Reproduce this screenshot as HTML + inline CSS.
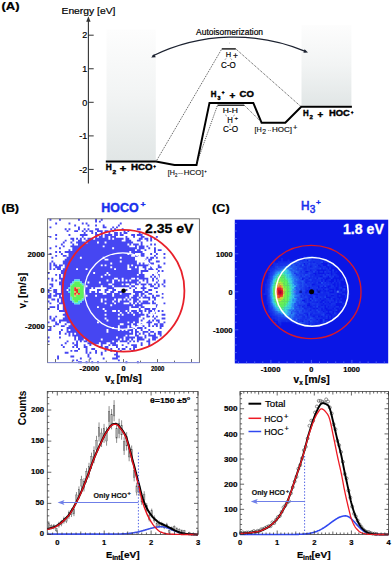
<!DOCTYPE html><html><head><meta charset="utf-8"><style>html,body{margin:0;padding:0;background:#fff;width:392px;height:562px;overflow:hidden}svg{display:block;font-family:"Liberation Sans",sans-serif}</style></head><body><svg width="392" height="562" viewBox="0 0 392 562" font-family="Liberation Sans, sans-serif"><defs><linearGradient id="gA" x1="0" y1="0" x2="0" y2="1"><stop offset="0" stop-color="#fdfdfd"/><stop offset="0.5" stop-color="#f2f4f4"/><stop offset="1" stop-color="#e1e6e6"/></linearGradient></defs>
<rect x="106.5" y="29.4" width="49.3" height="131.2" fill="url(#gA)"/>
<rect x="301.5" y="25" width="49.9" height="80.5" fill="url(#gA)"/>
<text x="1.4" y="9.9" font-size="10.5" stroke="#000" stroke-width="0.2" font-weight="bold" textLength="18.1" lengthAdjust="spacingAndGlyphs">(A)</text>
<text x="61.5" y="13.8" font-size="9.6" stroke="#000" stroke-width="0.2" textLength="53.9" lengthAdjust="spacingAndGlyphs">Energy [eV]</text>
<line x1="88.4" y1="20" x2="88.4" y2="183.5" stroke="#333" stroke-width="1.1"/>
<path d="M88.4 16.3L86.2 21.8L90.6 21.8Z" fill="#333"/>
<line x1="88.4" y1="35.2" x2="93.7" y2="35.2" stroke="#333" stroke-width="1"/>
<text x="87.3" y="38.4" font-size="9" stroke="#000" stroke-width="0.2" text-anchor="end">2</text>
<line x1="88.4" y1="68.75" x2="93.7" y2="68.75" stroke="#333" stroke-width="1"/>
<text x="87.3" y="71.95" font-size="9" stroke="#000" stroke-width="0.2" text-anchor="end">1</text>
<line x1="88.4" y1="102.3" x2="93.7" y2="102.3" stroke="#333" stroke-width="1"/>
<text x="87.3" y="105.5" font-size="9" stroke="#000" stroke-width="0.2" text-anchor="end">0</text>
<line x1="88.4" y1="135.9" x2="93.7" y2="135.9" stroke="#333" stroke-width="1"/>
<text x="87.3" y="139.1" font-size="9" stroke="#000" stroke-width="0.2" text-anchor="end">-1</text>
<line x1="88.4" y1="169.4" x2="93.7" y2="169.4" stroke="#333" stroke-width="1"/>
<text x="87.3" y="172.6" font-size="9" stroke="#000" stroke-width="0.2" text-anchor="end">-2</text>
<path d="M105.8 161.6H156L174.5 165.1H196.5L209.5 102.9H253.3L261.6 122.8H285.3L301.2 106.8H351.9" fill="none" stroke="#000" stroke-width="2" stroke-linejoin="miter"/>
<path d="M217.5 105.2H244.2" stroke="#111" stroke-width="1.3"/>
<path d="M221.8 48.9H235.8" stroke="#111" stroke-width="1.4"/>
<line x1="156" y1="161.6" x2="221.8" y2="48.9" stroke="#333" stroke-width="0.85" stroke-dasharray="1 1"/>
<line x1="235.8" y1="48.9" x2="301.2" y2="106.8" stroke="#333" stroke-width="0.85" stroke-dasharray="1 1"/>
<line x1="196.7" y1="163.5" x2="217.5" y2="105.2" stroke="#333" stroke-width="0.85" stroke-dasharray="1 1"/>
<line x1="244.2" y1="105.2" x2="260.8" y2="121.5" stroke="#333" stroke-width="0.85" stroke-dasharray="1 1"/>
<path d="M152.5 56 A184.8 184.8 0 0 1 306 51.6" fill="none" stroke="#1c2230" stroke-width="1.25"/>
<path d="M151.2 57.4L154.15 53.91L155.76 57.13Z" fill="#1c2230"/>
<path d="M308 52.4L303.45 52.79L304.58 49.37Z" fill="#1c2230"/>
<circle cx="229.5" cy="43" r="0.4" fill="#888"/>
<text x="196.1" y="34.7" font-size="8.5" stroke="#000" stroke-width="0.2" textLength="66.9" lengthAdjust="spacingAndGlyphs">Autoisomerization</text>
<text x="105.7" y="170.1" font-size="8.3" stroke="#000" stroke-width="0.4" font-weight="bold" textLength="6" lengthAdjust="spacingAndGlyphs">H</text>
<text x="112.6" y="173.5" font-size="5.8" stroke="#000" stroke-width="0.4" font-weight="bold" textLength="3.6" lengthAdjust="spacingAndGlyphs">2</text>
<text x="119.7" y="172.1" font-size="8.3" stroke="#000" stroke-width="0.4" font-weight="bold" textLength="6.5" lengthAdjust="spacingAndGlyphs">+</text>
<text x="131.1" y="170.2" font-size="8.3" stroke="#000" stroke-width="0.4" font-weight="bold" textLength="21.5" lengthAdjust="spacingAndGlyphs">HCO</text>
<text x="153.5" y="168" font-size="4.6" stroke="#000" stroke-width="0.4" font-weight="bold" textLength="2.2" lengthAdjust="spacingAndGlyphs">+</text>
<text x="302.9" y="115.6" font-size="8.3" stroke="#000" stroke-width="0.4" font-weight="bold" textLength="5.7" lengthAdjust="spacingAndGlyphs">H</text>
<text x="309.6" y="118.9" font-size="5.8" stroke="#000" stroke-width="0.4" font-weight="bold" textLength="3.4" lengthAdjust="spacingAndGlyphs">2</text>
<text x="317.6" y="118.1" font-size="8.3" stroke="#000" stroke-width="0.4" font-weight="bold" textLength="5.7" lengthAdjust="spacingAndGlyphs">+</text>
<text x="328.9" y="115.7" font-size="8.3" stroke="#000" stroke-width="0.4" font-weight="bold" textLength="20.8" lengthAdjust="spacingAndGlyphs">HOC</text>
<text x="351.1" y="114.2" font-size="4.6" stroke="#000" stroke-width="0.4" font-weight="bold" textLength="2.3" lengthAdjust="spacingAndGlyphs">+</text>
<text x="210.7" y="96.6" font-size="8.3" stroke="#000" stroke-width="0.4" font-weight="bold" textLength="5.7" lengthAdjust="spacingAndGlyphs">H</text>
<text x="217.6" y="99.9" font-size="5.8" stroke="#000" stroke-width="0.4" font-weight="bold" textLength="3" lengthAdjust="spacingAndGlyphs">3</text>
<text x="221.7" y="94.4" font-size="4.8" stroke="#000" stroke-width="0.4" font-weight="bold" textLength="2.7" lengthAdjust="spacingAndGlyphs">+</text>
<text x="229.4" y="99" font-size="8.3" stroke="#000" stroke-width="0.4" font-weight="bold" textLength="5.8" lengthAdjust="spacingAndGlyphs">+</text>
<text x="239.6" y="96.8" font-size="8.3" stroke="#000" stroke-width="0.4" font-weight="bold" textLength="14.3" lengthAdjust="spacingAndGlyphs">CO</text>
<text x="167.7" y="175.4" font-size="7.5" stroke="#111" stroke-width="0.16" fill="#111" textLength="7.1" lengthAdjust="spacingAndGlyphs">[H</text>
<text x="175" y="176.6" font-size="4.6" stroke="#111" stroke-width="0.16" fill="#111" textLength="2.4" lengthAdjust="spacingAndGlyphs">2</text>
<text x="178" y="174.6" font-size="6" stroke="#111" stroke-width="0.16" fill="#111" textLength="5.2" lengthAdjust="spacingAndGlyphs">--</text>
<text x="183.8" y="175.4" font-size="7.5" stroke="#111" stroke-width="0.16" fill="#111" textLength="19.8" lengthAdjust="spacingAndGlyphs">HCO]</text>
<text x="204.5" y="172.6" font-size="4.8" stroke="#111" stroke-width="0.16" fill="#111" textLength="2.1" lengthAdjust="spacingAndGlyphs">+</text>
<text x="254.6" y="132.4" font-size="6.9" stroke="#111" stroke-width="0.16" fill="#111" textLength="7.3" lengthAdjust="spacingAndGlyphs">[H</text>
<text x="262.3" y="133.6" font-size="6.9" stroke="#111" stroke-width="0.16" fill="#111" textLength="3.8" lengthAdjust="spacingAndGlyphs">2</text>
<text x="267.8" y="131.6" font-size="6" stroke="#111" stroke-width="0.16" fill="#111" textLength="3.3" lengthAdjust="spacingAndGlyphs">··</text>
<text x="272.1" y="132.4" font-size="6.9" stroke="#111" stroke-width="0.16" fill="#111" textLength="20" lengthAdjust="spacingAndGlyphs">HOC]</text>
<text x="292.9" y="129.8" font-size="7" stroke="#111" stroke-width="0.16" fill="#111" textLength="4.4" lengthAdjust="spacingAndGlyphs">+</text>
<text x="222.7" y="113.4" font-size="7.5" stroke="#000" stroke-width="0.16" textLength="15.1" lengthAdjust="spacingAndGlyphs">H-H</text>
<text x="227.2" y="123" font-size="8.4" stroke="#000" stroke-width="0.16" textLength="5.6" lengthAdjust="spacingAndGlyphs">H</text>
<text x="234.4" y="120.2" font-size="5.6" stroke="#000" stroke-width="0.16" textLength="3.6" lengthAdjust="spacingAndGlyphs">+</text>
<text x="223" y="132" font-size="8.3" stroke="#000" stroke-width="0.16" textLength="15" lengthAdjust="spacingAndGlyphs">C-O</text>
<path d="M225 114.8L227.6 116.5M235 114.8L232.6 116.5M230 123.8V126.3" stroke="#444" stroke-width="0.7" stroke-dasharray="0.8 0.8" fill="none"/>
<text x="225.7" y="56.7" font-size="7.8" stroke="#000" stroke-width="0.16" textLength="5.4" lengthAdjust="spacingAndGlyphs">H</text>
<text x="232.9" y="58.8" font-size="8.2" stroke="#000" stroke-width="0.16" textLength="4.9" lengthAdjust="spacingAndGlyphs">+</text>
<text x="221.1" y="67.5" font-size="8.6" stroke="#000" stroke-width="0.2" textLength="14.7" lengthAdjust="spacingAndGlyphs">C-O</text>
<path d="M226.5 57.8L224.6 60.2M230.2 57.8L232.2 60.2" stroke="#444" stroke-width="0.7" stroke-dasharray="0.8 0.8" fill="none"/>
<path fill="#4646f2" d="M49.5 218.8h1.9v1.9h-1.9zM59 218.8h1.9v1.9h-1.9zM78 218.8h1.9v1.9h-1.9zM95.1 218.8h1.9v1.9h-1.9zM100.8 218.8h1.9v1.9h-1.9zM95.1 220.7h1.9v1.9h-1.9zM98.9 220.7h1.9v1.9h-1.9zM55.2 222.6h1.9v1.9h-1.9zM68.5 222.6h1.9v1.9h-1.9zM81.8 222.6h1.9v1.9h-1.9zM85.6 222.6h1.9v1.9h-1.9zM119.8 222.6h1.9v1.9h-1.9zM74.2 224.5h1.9v1.9h-1.9zM87.5 224.5h1.9v1.9h-1.9zM95.1 224.5h1.9v1.9h-1.9zM102.7 224.5h1.9v1.9h-1.9zM117.9 224.5h1.9v1.9h-1.9zM49.5 226.4h1.9v1.9h-1.9zM78 226.4h1.9v1.9h-1.9zM102.7 226.4h3.8v1.9h-3.8zM112.2 226.4h1.9v1.9h-1.9zM116 226.4h1.9v1.9h-1.9zM64.7 228.3h1.9v1.9h-1.9zM68.5 228.3h1.9v1.9h-1.9zM78 228.3h1.9v1.9h-1.9zM83.7 228.3h1.9v1.9h-1.9zM87.5 228.3h1.9v1.9h-1.9zM95.1 228.3h3.8v1.9h-3.8zM110.3 228.3h1.9v1.9h-1.9zM114.1 228.3h1.9v1.9h-1.9zM121.7 228.3h1.9v1.9h-1.9zM136.9 228.3h3.8v1.9h-3.8zM66.6 230.2h1.9v1.9h-1.9zM74.2 230.2h3.8v1.9h-3.8zM81.8 230.2h1.9v1.9h-1.9zM85.6 230.2h1.9v1.9h-1.9zM89.4 230.2h3.8v1.9h-3.8zM97 230.2h5.7v1.9h-5.7zM104.6 230.2h3.8v1.9h-3.8zM112.2 230.2h1.9v1.9h-1.9zM123.6 230.2h1.9v1.9h-1.9zM127.4 230.2h1.9v1.9h-1.9zM83.7 232.1h1.9v1.9h-1.9zM91.3 232.1h1.9v1.9h-1.9zM95.1 232.1h1.9v1.9h-1.9zM100.8 232.1h1.9v1.9h-1.9zM108.4 232.1h1.9v1.9h-1.9zM114.1 232.1h3.8v1.9h-3.8zM119.8 232.1h1.9v1.9h-1.9zM123.6 232.1h3.8v1.9h-3.8zM138.8 232.1h1.9v1.9h-1.9zM55.2 234h1.9v1.9h-1.9zM68.5 234h1.9v1.9h-1.9zM79.9 234h7.6v1.9h-7.6zM95.1 234h3.8v1.9h-3.8zM100.8 234h1.9v1.9h-1.9zM104.6 234h7.6v1.9h-7.6zM114.1 234h3.8v1.9h-3.8zM119.8 234h3.8v1.9h-3.8zM131.2 234h3.8v1.9h-3.8zM136.9 234h5.7v1.9h-5.7zM49.5 235.9h1.9v1.9h-1.9zM81.8 235.9h1.9v1.9h-1.9zM95.1 235.9h1.9v1.9h-1.9zM98.9 235.9h3.8v1.9h-3.8zM104.6 235.9h3.8v1.9h-3.8zM110.3 235.9h5.7v1.9h-5.7zM125.5 235.9h1.9v1.9h-1.9zM133.1 235.9h1.9v1.9h-1.9zM140.7 235.9h3.8v1.9h-3.8zM150.2 235.9h1.9v1.9h-1.9zM155.9 235.9h1.9v1.9h-1.9zM55.2 237.8h1.9v1.9h-1.9zM70.4 237.8h3.8v1.9h-3.8zM76.1 237.8h1.9v1.9h-1.9zM79.9 237.8h1.9v1.9h-1.9zM83.7 237.8h1.9v1.9h-1.9zM87.5 237.8h5.7v1.9h-5.7zM95.1 237.8h13.3v1.9h-13.3zM110.3 237.8h1.9v1.9h-1.9zM114.1 237.8h9.5v1.9h-9.5zM125.5 237.8h3.8v1.9h-3.8zM138.8 237.8h3.8v1.9h-3.8zM144.5 237.8h3.8v1.9h-3.8zM150.2 237.8h1.9v1.9h-1.9zM154 237.8h1.9v1.9h-1.9zM64.7 239.7h1.9v1.9h-1.9zM72.3 239.7h1.9v1.9h-1.9zM78 239.7h3.8v1.9h-3.8zM85.6 239.7h36.1v1.9h-36.1zM125.5 239.7h5.7v1.9h-5.7zM136.9 239.7h3.8v1.9h-3.8zM146.4 239.7h1.9v1.9h-1.9zM150.2 239.7h1.9v1.9h-1.9zM62.8 241.6h1.9v1.9h-1.9zM70.4 241.6h1.9v1.9h-1.9zM76.1 241.6h9.5v1.9h-9.5zM87.5 241.6h9.5v1.9h-9.5zM98.9 241.6h5.7v1.9h-5.7zM106.5 241.6h26.6v1.9h-26.6zM140.7 241.6h1.9v1.9h-1.9zM60.9 243.5h1.9v1.9h-1.9zM72.3 243.5h1.9v1.9h-1.9zM78 243.5h49.4v1.9h-49.4zM129.3 243.5h1.9v1.9h-1.9zM133.1 243.5h5.7v1.9h-5.7zM140.7 243.5h1.9v1.9h-1.9zM150.2 243.5h1.9v1.9h-1.9zM154 243.5h1.9v1.9h-1.9zM55.2 245.4h1.9v1.9h-1.9zM62.8 245.4h1.9v1.9h-1.9zM70.4 245.4h32.3v1.9h-32.3zM104.6 245.4h24.7v1.9h-24.7zM135 245.4h1.9v1.9h-1.9zM138.8 245.4h5.7v1.9h-5.7zM146.4 245.4h1.9v1.9h-1.9zM49.5 247.3h1.9v1.9h-1.9zM59 247.3h1.9v1.9h-1.9zM72.3 247.3h39.9v1.9h-39.9zM114.1 247.3h22.8v1.9h-22.8zM138.8 247.3h5.7v1.9h-5.7zM148.3 247.3h1.9v1.9h-1.9zM154 247.3h1.9v1.9h-1.9zM68.5 249.2h1.9v1.9h-1.9zM72.3 249.2h62.7v1.9h-62.7zM136.9 249.2h3.8v1.9h-3.8zM144.5 249.2h1.9v1.9h-1.9zM154 249.2h1.9v1.9h-1.9zM157.8 249.2h3.8v1.9h-3.8zM55.2 251.1h1.9v1.9h-1.9zM59 251.1h1.9v1.9h-1.9zM64.7 251.1h64.6v1.9h-64.6zM131.2 251.1h11.4v1.9h-11.4zM154 251.1h1.9v1.9h-1.9zM49.5 253h1.9v1.9h-1.9zM60.9 253h1.9v1.9h-1.9zM68.5 253h58.9v1.9h-58.9zM129.3 253h5.7v1.9h-5.7zM140.7 253h3.8v1.9h-3.8zM150.2 253h1.9v1.9h-1.9zM155.9 253h1.9v1.9h-1.9zM163.5 253h1.9v1.9h-1.9zM55.2 254.9h1.9v1.9h-1.9zM62.8 254.9h3.8v1.9h-3.8zM68.5 254.9h62.7v1.9h-62.7zM135 254.9h3.8v1.9h-3.8zM140.7 254.9h3.8v1.9h-3.8zM154 254.9h1.9v1.9h-1.9zM51.4 256.8h1.9v1.9h-1.9zM66.6 256.8h13.3v1.9h-13.3zM81.8 256.8h20.9v1.9h-20.9zM104.6 256.8h15.2v1.9h-15.2zM121.7 256.8h13.3v1.9h-13.3zM146.4 256.8h1.9v1.9h-1.9zM150.2 256.8h3.8v1.9h-3.8zM155.9 256.8h1.9v1.9h-1.9zM163.5 256.8h1.9v1.9h-1.9zM64.7 258.7h39.9v1.9h-39.9zM108.4 258.7h26.6v1.9h-26.6zM144.5 258.7h1.9v1.9h-1.9zM148.3 258.7h3.8v1.9h-3.8zM51.4 260.6h1.9v1.9h-1.9zM62.8 260.6h57v1.9h-57zM121.7 260.6h15.2v1.9h-15.2zM148.3 260.6h1.9v1.9h-1.9zM155.9 260.6h3.8v1.9h-3.8zM49.5 262.5h1.9v1.9h-1.9zM53.3 262.5h1.9v1.9h-1.9zM62.8 262.5h47.5v1.9h-47.5zM112.2 262.5h24.7v1.9h-24.7zM138.8 262.5h1.9v1.9h-1.9zM142.6 262.5h1.9v1.9h-1.9zM148.3 262.5h5.7v1.9h-5.7zM163.5 262.5h1.9v1.9h-1.9zM49.5 264.4h1.9v1.9h-1.9zM53.3 264.4h3.8v1.9h-3.8zM59 264.4h3.8v1.9h-3.8zM64.7 264.4h36.1v1.9h-36.1zM102.7 264.4h1.9v1.9h-1.9zM106.5 264.4h20.9v1.9h-20.9zM129.3 264.4h1.9v1.9h-1.9zM133.1 264.4h15.2v1.9h-15.2zM157.8 264.4h1.9v1.9h-1.9zM49.5 266.3h1.9v1.9h-1.9zM55.2 266.3h5.7v1.9h-5.7zM64.7 266.3h45.6v1.9h-45.6zM112.2 266.3h15.2v1.9h-15.2zM129.3 266.3h5.7v1.9h-5.7zM136.9 266.3h1.9v1.9h-1.9zM142.6 266.3h3.8v1.9h-3.8zM150.2 266.3h1.9v1.9h-1.9zM157.8 266.3h3.8v1.9h-3.8zM49.5 268.2h1.9v1.9h-1.9zM53.3 268.2h1.9v1.9h-1.9zM57.1 268.2h3.8v1.9h-3.8zM62.8 268.2h13.3v1.9h-13.3zM78 268.2h7.6v1.9h-7.6zM87.5 268.2h26.6v1.9h-26.6zM116 268.2h11.4v1.9h-11.4zM131.2 268.2h7.6v1.9h-7.6zM144.5 268.2h1.9v1.9h-1.9zM148.3 268.2h5.7v1.9h-5.7zM155.9 268.2h1.9v1.9h-1.9zM60.9 270.1h77.9v1.9h-77.9zM140.7 270.1h7.6v1.9h-7.6zM157.8 270.1h1.9v1.9h-1.9zM161.6 270.1h1.9v1.9h-1.9zM47.6 272h1.9v1.9h-1.9zM60.9 272h32.3v1.9h-32.3zM95.1 272h11.4v1.9h-11.4zM108.4 272h30.4v1.9h-30.4zM140.7 272h1.9v1.9h-1.9zM155.9 272h1.9v1.9h-1.9zM55.2 273.9h1.9v1.9h-1.9zM59 273.9h1.9v1.9h-1.9zM62.8 273.9h41.8v1.9h-41.8zM106.5 273.9h1.9v1.9h-1.9zM110.3 273.9h26.6v1.9h-26.6zM138.8 273.9h5.7v1.9h-5.7zM152.1 273.9h1.9v1.9h-1.9zM157.8 273.9h1.9v1.9h-1.9zM59 275.8h1.9v1.9h-1.9zM62.8 275.8h38v1.9h-38zM102.7 275.8h41.8v1.9h-41.8zM150.2 275.8h1.9v1.9h-1.9zM154 275.8h1.9v1.9h-1.9zM157.8 275.8h1.9v1.9h-1.9zM47.6 277.7h1.9v1.9h-1.9zM51.4 277.7h1.9v1.9h-1.9zM59 277.7h55.1v1.9h-55.1zM117.9 277.7h3.8v1.9h-3.8zM123.6 277.7h7.6v1.9h-7.6zM135 277.7h1.9v1.9h-1.9zM138.8 277.7h9.5v1.9h-9.5zM152.1 277.7h1.9v1.9h-1.9zM155.9 277.7h1.9v1.9h-1.9zM51.4 279.6h1.9v1.9h-1.9zM55.2 279.6h1.9v1.9h-1.9zM60.9 279.6h13.3v1.9h-13.3zM79.9 279.6h26.6v1.9h-26.6zM108.4 279.6h3.8v1.9h-3.8zM114.1 279.6h3.8v1.9h-3.8zM119.8 279.6h1.9v1.9h-1.9zM123.6 279.6h1.9v1.9h-1.9zM127.4 279.6h1.9v1.9h-1.9zM131.2 279.6h7.6v1.9h-7.6zM142.6 279.6h1.9v1.9h-1.9zM146.4 279.6h1.9v1.9h-1.9zM152.1 279.6h1.9v1.9h-1.9zM157.8 279.6h1.9v1.9h-1.9zM163.5 279.6h1.9v1.9h-1.9zM59 281.5h13.3v1.9h-13.3zM81.8 281.5h5.7v1.9h-5.7zM89.4 281.5h9.5v1.9h-9.5zM100.8 281.5h11.4v1.9h-11.4zM114.1 281.5h22.8v1.9h-22.8zM138.8 281.5h1.9v1.9h-1.9zM146.4 281.5h1.9v1.9h-1.9zM155.9 281.5h1.9v1.9h-1.9zM163.5 281.5h1.9v1.9h-1.9zM49.5 283.4h3.8v1.9h-3.8zM59 283.4h11.4v1.9h-11.4zM83.7 283.4h24.7v1.9h-24.7zM112.2 283.4h9.5v1.9h-9.5zM123.6 283.4h1.9v1.9h-1.9zM129.3 283.4h1.9v1.9h-1.9zM135 283.4h3.8v1.9h-3.8zM140.7 283.4h5.7v1.9h-5.7zM148.3 283.4h3.8v1.9h-3.8zM154 283.4h1.9v1.9h-1.9zM157.8 283.4h1.9v1.9h-1.9zM161.6 283.4h1.9v1.9h-1.9zM51.4 285.3h1.9v1.9h-1.9zM60.9 285.3h9.5v1.9h-9.5zM83.7 285.3h1.9v1.9h-1.9zM87.5 285.3h13.3v1.9h-13.3zM102.7 285.3h9.5v1.9h-9.5zM114.1 285.3h15.2v1.9h-15.2zM131.2 285.3h3.8v1.9h-3.8zM142.6 285.3h1.9v1.9h-1.9zM150.2 285.3h3.8v1.9h-3.8zM157.8 285.3h1.9v1.9h-1.9zM163.5 285.3h1.9v1.9h-1.9zM49.5 287.2h1.9v1.9h-1.9zM60.9 287.2h7.6v1.9h-7.6zM83.7 287.2h7.6v1.9h-7.6zM93.2 287.2h1.9v1.9h-1.9zM106.5 287.2h7.6v1.9h-7.6zM129.3 287.2h1.9v1.9h-1.9zM135 287.2h1.9v1.9h-1.9zM140.7 287.2h5.7v1.9h-5.7zM154 287.2h3.8v1.9h-3.8zM47.6 289.1h1.9v1.9h-1.9zM53.3 289.1h3.8v1.9h-3.8zM60.9 289.1h5.7v1.9h-5.7zM68.5 289.1h1.9v1.9h-1.9zM83.7 289.1h5.7v1.9h-5.7zM97 289.1h3.8v1.9h-3.8zM104.6 289.1h3.8v1.9h-3.8zM112.2 289.1h3.8v1.9h-3.8zM125.5 289.1h1.9v1.9h-1.9zM133.1 289.1h1.9v1.9h-1.9zM142.6 289.1h1.9v1.9h-1.9zM148.3 289.1h3.8v1.9h-3.8zM47.6 291h1.9v1.9h-1.9zM53.3 291h3.8v1.9h-3.8zM60.9 291h7.6v1.9h-7.6zM83.7 291h5.7v1.9h-5.7zM91.3 291h3.8v1.9h-3.8zM97 291h1.9v1.9h-1.9zM104.6 291h1.9v1.9h-1.9zM110.3 291h3.8v1.9h-3.8zM117.9 291h5.7v1.9h-5.7zM133.1 291h9.5v1.9h-9.5zM144.5 291h3.8v1.9h-3.8zM155.9 291h1.9v1.9h-1.9zM49.5 292.9h1.9v1.9h-1.9zM55.2 292.9h15.2v1.9h-15.2zM83.7 292.9h19v1.9h-19zM106.5 292.9h5.7v1.9h-5.7zM114.1 292.9h5.7v1.9h-5.7zM121.7 292.9h9.5v1.9h-9.5zM135 292.9h3.8v1.9h-3.8zM140.7 292.9h3.8v1.9h-3.8zM148.3 292.9h3.8v1.9h-3.8zM161.6 292.9h1.9v1.9h-1.9zM47.6 294.8h3.8v1.9h-3.8zM53.3 294.8h3.8v1.9h-3.8zM59 294.8h1.9v1.9h-1.9zM62.8 294.8h7.6v1.9h-7.6zM83.7 294.8h1.9v1.9h-1.9zM87.5 294.8h7.6v1.9h-7.6zM97 294.8h15.2v1.9h-15.2zM114.1 294.8h15.2v1.9h-15.2zM133.1 294.8h5.7v1.9h-5.7zM140.7 294.8h1.9v1.9h-1.9zM144.5 294.8h1.9v1.9h-1.9zM152.1 294.8h1.9v1.9h-1.9zM155.9 294.8h3.8v1.9h-3.8zM47.6 296.7h3.8v1.9h-3.8zM59 296.7h11.4v1.9h-11.4zM83.7 296.7h41.8v1.9h-41.8zM127.4 296.7h1.9v1.9h-1.9zM131.2 296.7h5.7v1.9h-5.7zM138.8 296.7h1.9v1.9h-1.9zM142.6 296.7h7.6v1.9h-7.6zM152.1 296.7h3.8v1.9h-3.8zM161.6 296.7h1.9v1.9h-1.9zM51.4 298.6h3.8v1.9h-3.8zM57.1 298.6h1.9v1.9h-1.9zM60.9 298.6h9.5v1.9h-9.5zM83.7 298.6h17.1v1.9h-17.1zM102.7 298.6h1.9v1.9h-1.9zM106.5 298.6h7.6v1.9h-7.6zM116 298.6h1.9v1.9h-1.9zM121.7 298.6h1.9v1.9h-1.9zM125.5 298.6h1.9v1.9h-1.9zM129.3 298.6h1.9v1.9h-1.9zM133.1 298.6h5.7v1.9h-5.7zM148.3 298.6h1.9v1.9h-1.9zM154 298.6h1.9v1.9h-1.9zM47.6 300.5h1.9v1.9h-1.9zM57.1 300.5h1.9v1.9h-1.9zM60.9 300.5h11.4v1.9h-11.4zM81.8 300.5h19v1.9h-19zM102.7 300.5h9.5v1.9h-9.5zM114.1 300.5h3.8v1.9h-3.8zM119.8 300.5h9.5v1.9h-9.5zM133.1 300.5h3.8v1.9h-3.8zM138.8 300.5h1.9v1.9h-1.9zM142.6 300.5h5.7v1.9h-5.7zM152.1 300.5h1.9v1.9h-1.9zM49.5 302.4h1.9v1.9h-1.9zM59 302.4h15.2v1.9h-15.2zM79.9 302.4h24.7v1.9h-24.7zM106.5 302.4h7.6v1.9h-7.6zM116 302.4h7.6v1.9h-7.6zM129.3 302.4h1.9v1.9h-1.9zM133.1 302.4h1.9v1.9h-1.9zM136.9 302.4h1.9v1.9h-1.9zM140.7 302.4h9.5v1.9h-9.5zM152.1 302.4h3.8v1.9h-3.8zM163.5 302.4h1.9v1.9h-1.9zM57.1 304.3h1.9v1.9h-1.9zM62.8 304.3h47.5v1.9h-47.5zM112.2 304.3h20.9v1.9h-20.9zM135 304.3h7.6v1.9h-7.6zM155.9 304.3h1.9v1.9h-1.9zM49.5 306.2h5.7v1.9h-5.7zM57.1 306.2h1.9v1.9h-1.9zM62.8 306.2h34.2v1.9h-34.2zM98.9 306.2h30.4v1.9h-30.4zM131.2 306.2h7.6v1.9h-7.6zM140.7 306.2h3.8v1.9h-3.8zM155.9 306.2h1.9v1.9h-1.9zM47.6 308.1h1.9v1.9h-1.9zM57.1 308.1h1.9v1.9h-1.9zM62.8 308.1h39.9v1.9h-39.9zM104.6 308.1h24.7v1.9h-24.7zM138.8 308.1h1.9v1.9h-1.9zM144.5 308.1h5.7v1.9h-5.7zM152.1 308.1h3.8v1.9h-3.8zM59 310h45.6v1.9h-45.6zM106.5 310h5.7v1.9h-5.7zM116 310h1.9v1.9h-1.9zM119.8 310h5.7v1.9h-5.7zM127.4 310h1.9v1.9h-1.9zM131.2 310h5.7v1.9h-5.7zM138.8 310h3.8v1.9h-3.8zM144.5 310h1.9v1.9h-1.9zM148.3 310h3.8v1.9h-3.8zM154 310h1.9v1.9h-1.9zM157.8 310h1.9v1.9h-1.9zM161.6 310h1.9v1.9h-1.9zM64.7 311.9h55.1v1.9h-55.1zM121.7 311.9h5.7v1.9h-5.7zM129.3 311.9h1.9v1.9h-1.9zM133.1 311.9h5.7v1.9h-5.7zM140.7 311.9h1.9v1.9h-1.9zM148.3 311.9h1.9v1.9h-1.9zM154 311.9h1.9v1.9h-1.9zM62.8 313.8h41.8v1.9h-41.8zM106.5 313.8h11.4v1.9h-11.4zM119.8 313.8h1.9v1.9h-1.9zM123.6 313.8h9.5v1.9h-9.5zM135 313.8h9.5v1.9h-9.5zM146.4 313.8h1.9v1.9h-1.9zM152.1 313.8h1.9v1.9h-1.9zM161.6 313.8h3.8v1.9h-3.8zM49.5 315.7h1.9v1.9h-1.9zM55.2 315.7h1.9v1.9h-1.9zM64.7 315.7h76v1.9h-76zM146.4 315.7h3.8v1.9h-3.8zM152.1 315.7h1.9v1.9h-1.9zM155.9 315.7h1.9v1.9h-1.9zM49.5 317.6h1.9v1.9h-1.9zM53.3 317.6h1.9v1.9h-1.9zM62.8 317.6h41.8v1.9h-41.8zM106.5 317.6h11.4v1.9h-11.4zM119.8 317.6h19v1.9h-19zM142.6 317.6h1.9v1.9h-1.9zM154 317.6h1.9v1.9h-1.9zM161.6 317.6h3.8v1.9h-3.8zM51.4 319.5h3.8v1.9h-3.8zM59 319.5h47.5v1.9h-47.5zM108.4 319.5h30.4v1.9h-30.4zM140.7 319.5h1.9v1.9h-1.9zM148.3 319.5h1.9v1.9h-1.9zM152.1 319.5h1.9v1.9h-1.9zM155.9 319.5h3.8v1.9h-3.8zM47.6 321.4h1.9v1.9h-1.9zM55.2 321.4h1.9v1.9h-1.9zM59 321.4h1.9v1.9h-1.9zM66.6 321.4h30.4v1.9h-30.4zM98.9 321.4h28.5v1.9h-28.5zM129.3 321.4h3.8v1.9h-3.8zM135 321.4h3.8v1.9h-3.8zM146.4 321.4h5.7v1.9h-5.7zM157.8 321.4h1.9v1.9h-1.9zM163.5 321.4h1.9v1.9h-1.9zM55.2 323.3h3.8v1.9h-3.8zM64.7 323.3h1.9v1.9h-1.9zM70.4 323.3h49.4v1.9h-49.4zM123.6 323.3h7.6v1.9h-7.6zM133.1 323.3h3.8v1.9h-3.8zM140.7 323.3h1.9v1.9h-1.9zM148.3 323.3h1.9v1.9h-1.9zM154 323.3h3.8v1.9h-3.8zM159.7 323.3h3.8v1.9h-3.8zM53.3 325.2h1.9v1.9h-1.9zM60.9 325.2h3.8v1.9h-3.8zM68.5 325.2h49.4v1.9h-49.4zM119.8 325.2h7.6v1.9h-7.6zM129.3 325.2h1.9v1.9h-1.9zM135 325.2h3.8v1.9h-3.8zM142.6 325.2h1.9v1.9h-1.9zM148.3 325.2h1.9v1.9h-1.9zM152.1 325.2h1.9v1.9h-1.9zM155.9 325.2h1.9v1.9h-1.9zM159.7 325.2h3.8v1.9h-3.8zM49.5 327.1h1.9v1.9h-1.9zM66.6 327.1h45.6v1.9h-45.6zM114.1 327.1h3.8v1.9h-3.8zM119.8 327.1h7.6v1.9h-7.6zM129.3 327.1h5.7v1.9h-5.7zM136.9 327.1h5.7v1.9h-5.7zM144.5 327.1h1.9v1.9h-1.9zM159.7 327.1h1.9v1.9h-1.9zM47.6 329h3.8v1.9h-3.8zM60.9 329h1.9v1.9h-1.9zM66.6 329h1.9v1.9h-1.9zM70.4 329h36.1v1.9h-36.1zM108.4 329h9.5v1.9h-9.5zM119.8 329h1.9v1.9h-1.9zM123.6 329h1.9v1.9h-1.9zM127.4 329h5.7v1.9h-5.7zM135 329h1.9v1.9h-1.9zM140.7 329h1.9v1.9h-1.9zM148.3 329h1.9v1.9h-1.9zM59 330.9h1.9v1.9h-1.9zM66.6 330.9h39.9v1.9h-39.9zM108.4 330.9h20.9v1.9h-20.9zM131.2 330.9h1.9v1.9h-1.9zM135 330.9h3.8v1.9h-3.8zM142.6 330.9h5.7v1.9h-5.7zM150.2 330.9h3.8v1.9h-3.8zM157.8 330.9h3.8v1.9h-3.8zM59 332.8h1.9v1.9h-1.9zM64.7 332.8h1.9v1.9h-1.9zM68.5 332.8h1.9v1.9h-1.9zM72.3 332.8h1.9v1.9h-1.9zM76.1 332.8h57v1.9h-57zM135 332.8h1.9v1.9h-1.9zM138.8 332.8h1.9v1.9h-1.9zM142.6 332.8h1.9v1.9h-1.9zM148.3 332.8h1.9v1.9h-1.9zM154 332.8h1.9v1.9h-1.9zM157.8 332.8h3.8v1.9h-3.8zM68.5 334.7h1.9v1.9h-1.9zM72.3 334.7h53.2v1.9h-53.2zM127.4 334.7h1.9v1.9h-1.9zM135 334.7h3.8v1.9h-3.8zM144.5 334.7h1.9v1.9h-1.9zM148.3 334.7h7.6v1.9h-7.6zM159.7 334.7h1.9v1.9h-1.9zM47.6 336.6h1.9v1.9h-1.9zM59 336.6h1.9v1.9h-1.9zM74.2 336.6h1.9v1.9h-1.9zM78 336.6h38v1.9h-38zM117.9 336.6h5.7v1.9h-5.7zM125.5 336.6h9.5v1.9h-9.5zM136.9 336.6h5.7v1.9h-5.7zM144.5 336.6h1.9v1.9h-1.9zM152.1 336.6h5.7v1.9h-5.7zM74.2 338.5h1.9v1.9h-1.9zM78 338.5h5.7v1.9h-5.7zM85.6 338.5h15.2v1.9h-15.2zM102.7 338.5h17.1v1.9h-17.1zM121.7 338.5h1.9v1.9h-1.9zM125.5 338.5h3.8v1.9h-3.8zM131.2 338.5h1.9v1.9h-1.9zM136.9 338.5h7.6v1.9h-7.6zM148.3 338.5h1.9v1.9h-1.9zM152.1 338.5h3.8v1.9h-3.8zM47.6 340.4h1.9v1.9h-1.9zM66.6 340.4h1.9v1.9h-1.9zM76.1 340.4h1.9v1.9h-1.9zM79.9 340.4h1.9v1.9h-1.9zM83.7 340.4h3.8v1.9h-3.8zM89.4 340.4h22.8v1.9h-22.8zM114.1 340.4h3.8v1.9h-3.8zM119.8 340.4h7.6v1.9h-7.6zM129.3 340.4h1.9v1.9h-1.9zM133.1 340.4h1.9v1.9h-1.9zM136.9 340.4h1.9v1.9h-1.9zM146.4 340.4h3.8v1.9h-3.8zM64.7 342.3h1.9v1.9h-1.9zM72.3 342.3h1.9v1.9h-1.9zM76.1 342.3h1.9v1.9h-1.9zM87.5 342.3h11.4v1.9h-11.4zM100.8 342.3h5.7v1.9h-5.7zM110.3 342.3h5.7v1.9h-5.7zM127.4 342.3h1.9v1.9h-1.9zM140.7 342.3h1.9v1.9h-1.9zM148.3 342.3h1.9v1.9h-1.9zM60.9 344.2h1.9v1.9h-1.9zM74.2 344.2h3.8v1.9h-3.8zM83.7 344.2h1.9v1.9h-1.9zM89.4 344.2h1.9v1.9h-1.9zM100.8 344.2h1.9v1.9h-1.9zM108.4 344.2h1.9v1.9h-1.9zM112.2 344.2h5.7v1.9h-5.7zM121.7 344.2h1.9v1.9h-1.9zM131.2 344.2h5.7v1.9h-5.7zM140.7 344.2h1.9v1.9h-1.9zM148.3 344.2h1.9v1.9h-1.9zM62.8 346.1h1.9v1.9h-1.9zM72.3 346.1h1.9v1.9h-1.9zM76.1 346.1h1.9v1.9h-1.9zM83.7 346.1h3.8v1.9h-3.8zM98.9 346.1h3.8v1.9h-3.8zM104.6 346.1h3.8v1.9h-3.8zM116 346.1h1.9v1.9h-1.9zM125.5 346.1h1.9v1.9h-1.9zM133.1 346.1h3.8v1.9h-3.8zM78 348h1.9v1.9h-1.9zM85.6 348h1.9v1.9h-1.9zM91.3 348h3.8v1.9h-3.8zM104.6 348h3.8v1.9h-3.8zM110.3 348h1.9v1.9h-1.9zM117.9 348h1.9v1.9h-1.9zM121.7 348h3.8v1.9h-3.8zM129.3 348h1.9v1.9h-1.9zM133.1 348h1.9v1.9h-1.9zM70.4 349.9h1.9v1.9h-1.9zM74.2 349.9h3.8v1.9h-3.8zM85.6 349.9h1.9v1.9h-1.9zM95.1 349.9h1.9v1.9h-1.9zM104.6 349.9h1.9v1.9h-1.9zM110.3 349.9h1.9v1.9h-1.9zM114.1 349.9h1.9v1.9h-1.9zM119.8 349.9h1.9v1.9h-1.9zM131.2 349.9h1.9v1.9h-1.9zM64.7 351.8h3.8v1.9h-3.8zM85.6 351.8h1.9v1.9h-1.9zM89.4 351.8h1.9v1.9h-1.9zM95.1 351.8h1.9v1.9h-1.9zM100.8 351.8h1.9v1.9h-1.9zM116 351.8h1.9v1.9h-1.9zM87.5 353.7h1.9v1.9h-1.9zM100.8 353.7h1.9v1.9h-1.9zM114.1 353.7h3.8v1.9h-3.8zM57.1 355.6h1.9v1.9h-1.9zM70.4 355.6h3.8v1.9h-3.8zM87.5 355.6h1.9v1.9h-1.9zM116 355.6h3.8v1.9h-3.8zM57.1 357.5h1.9v1.9h-1.9zM79.9 357.5h1.9v1.9h-1.9zM89.4 357.5h1.9v1.9h-1.9zM102.7 357.5h1.9v1.9h-1.9zM112.2 357.5h5.7v1.9h-5.7zM72.3 359.4h1.9v1.9h-1.9zM76.1 359.4h1.9v1.9h-1.9zM117.9 359.4h1.9v1.9h-1.9zM78 361.3h3.8v1.9h-3.8zM85.6 361.3h1.9v1.9h-1.9zM91.3 361.3h1.9v1.9h-1.9zM97 361.3h1.9v1.9h-1.9zM125.5 361.3h1.9v1.9h-1.9zM136.9 361.3h1.9v1.9h-1.9z"/>
<path fill="#48def0" d="M74.2 279.6h5.7v1.9h-5.7zM72.3 281.5h1.9v1.9h-1.9zM79.9 281.5h1.9v1.9h-1.9zM70.4 283.4h1.9v1.9h-1.9zM81.8 283.4h1.9v1.9h-1.9zM68.5 287.2h1.9v1.9h-1.9zM68.5 291h1.9v1.9h-1.9zM70.4 296.7h1.9v1.9h-1.9zM70.4 298.6h1.9v1.9h-1.9zM81.8 298.6h1.9v1.9h-1.9zM72.3 300.5h1.9v1.9h-1.9zM78 300.5h3.8v1.9h-3.8zM74.2 302.4h5.7v1.9h-5.7z"/>
<path fill="#5cf25c" d="M74.2 281.5h5.7v1.9h-5.7zM72.3 283.4h9.5v1.9h-9.5zM70.4 285.3h13.3v1.9h-13.3zM70.4 287.2h3.8v1.9h-3.8zM79.9 287.2h3.8v1.9h-3.8zM70.4 289.1h3.8v1.9h-3.8zM78 289.1h5.7v1.9h-5.7zM70.4 291h3.8v1.9h-3.8zM78 291h5.7v1.9h-5.7zM70.4 292.9h3.8v1.9h-3.8zM79.9 292.9h3.8v1.9h-3.8zM70.4 294.8h3.8v1.9h-3.8zM76.1 294.8h7.6v1.9h-7.6zM72.3 296.7h11.4v1.9h-11.4zM72.3 298.6h9.5v1.9h-9.5zM74.2 300.5h3.8v1.9h-3.8z"/>
<path fill="#d8c050" d="M76.1 287.2h3.8v1.9h-3.8zM74.2 291h1.9v1.9h-1.9zM76.1 292.9h1.9v1.9h-1.9zM74.2 294.8h1.9v1.9h-1.9z"/>
<path fill="#f02a2a" d="M74.2 287.2h1.9v1.9h-1.9zM74.2 289.1h3.8v1.9h-3.8zM76.1 291h1.9v1.9h-1.9zM74.2 292.9h1.9v1.9h-1.9zM78 292.9h1.9v1.9h-1.9z"/>
<circle cx="123.5" cy="290.7" r="60.9" fill="none" stroke="#e8202a" stroke-width="1.8"/>
<circle cx="122.8" cy="291.1" r="38.3" fill="none" stroke="#fff" stroke-width="1.3"/>
<circle cx="123.6" cy="290.8" r="2.3" fill="#000"/>
<rect x="47.6" y="218.8" width="151.8" height="143.8" fill="none" stroke="#666" stroke-width="0.9"/>
<text x="145.1" y="233.1" font-size="13.5" stroke="#000" stroke-width="0.3" font-weight="bold" textLength="48.4" lengthAdjust="spacingAndGlyphs">2.35 eV</text>
<text x="1.4" y="211.8" font-size="10.5" stroke="#000" stroke-width="0.2" font-weight="bold" textLength="17.7" lengthAdjust="spacingAndGlyphs">(B)</text>
<text x="101.2" y="212" font-size="13" stroke="#1a30ec" stroke-width="0.45" font-weight="bold" fill="#1a30ec" textLength="37.4" lengthAdjust="spacingAndGlyphs">HOCO</text>
<text x="140.6" y="206.6" font-size="7.8" stroke="#1a30ec" stroke-width="0.35" font-weight="bold" fill="#1a30ec" textLength="5.1" lengthAdjust="spacingAndGlyphs">+</text>
<rect x="234.8" y="219.7" width="153.4" height="143.7" fill="#0a16e6"/>
<path fill="rgb(18, 40, 233)" d="M303.45 256.35h1.9v1.9h-1.9zM281.05 257.95h1.9v1.9h-1.9zM298.65 257.95h1.9v1.9h-1.9zM316.25 257.95h1.9v1.9h-1.9zM322.65 257.95h1.9v1.9h-1.9zM281.05 259.55h1.9v1.9h-1.9zM287.45 259.55h1.9v1.9h-1.9zM319.45 259.55h1.9v1.9h-1.9zM321.05 259.55h1.9v1.9h-1.9zM322.65 259.55h1.9v1.9h-1.9zM325.85 259.55h1.9v1.9h-1.9zM273.05 261.15h1.9v1.9h-1.9zM277.85 261.15h1.9v1.9h-1.9zM279.45 261.15h1.9v1.9h-1.9zM281.05 261.15h1.9v1.9h-1.9zM282.65 261.15h1.9v1.9h-1.9zM284.25 261.15h1.9v1.9h-1.9zM285.85 261.15h1.9v1.9h-1.9zM287.45 261.15h1.9v1.9h-1.9zM309.85 261.15h1.9v1.9h-1.9zM324.25 261.15h1.9v1.9h-1.9zM325.85 261.15h1.9v1.9h-1.9zM273.05 262.75h1.9v1.9h-1.9zM274.65 262.75h1.9v1.9h-1.9zM277.85 262.75h1.9v1.9h-1.9zM306.65 262.75h1.9v1.9h-1.9zM316.25 262.75h1.9v1.9h-1.9zM327.45 262.75h1.9v1.9h-1.9zM330.65 262.75h1.9v1.9h-1.9zM332.25 262.75h1.9v1.9h-1.9zM273.05 264.35h1.9v1.9h-1.9zM300.25 264.35h1.9v1.9h-1.9zM303.45 264.35h1.9v1.9h-1.9zM305.05 264.35h1.9v1.9h-1.9zM309.85 264.35h1.9v1.9h-1.9zM319.45 264.35h1.9v1.9h-1.9zM329.05 264.35h1.9v1.9h-1.9zM330.65 264.35h1.9v1.9h-1.9zM271.45 265.95h1.9v1.9h-1.9zM273.05 265.95h1.9v1.9h-1.9zM317.85 265.95h1.9v1.9h-1.9zM321.05 265.95h1.9v1.9h-1.9zM329.05 265.95h1.9v1.9h-1.9zM333.85 265.95h1.9v1.9h-1.9zM335.45 265.95h1.9v1.9h-1.9zM269.85 267.55h1.9v1.9h-1.9zM303.45 267.55h1.9v1.9h-1.9zM305.05 267.55h1.9v1.9h-1.9zM324.25 267.55h1.9v1.9h-1.9zM268.25 269.15h1.9v1.9h-1.9zM325.85 269.15h1.9v1.9h-1.9zM300.25 270.75h1.9v1.9h-1.9zM311.45 270.75h1.9v1.9h-1.9zM314.65 270.75h1.9v1.9h-1.9zM325.85 270.75h1.9v1.9h-1.9zM335.45 270.75h1.9v1.9h-1.9zM268.25 272.35h1.9v1.9h-1.9zM305.05 272.35h1.9v1.9h-1.9zM316.25 272.35h1.9v1.9h-1.9zM324.25 272.35h1.9v1.9h-1.9zM325.85 272.35h1.9v1.9h-1.9zM329.05 272.35h1.9v1.9h-1.9zM332.25 272.35h1.9v1.9h-1.9zM333.85 272.35h1.9v1.9h-1.9zM268.25 273.95h1.9v1.9h-1.9zM309.85 273.95h1.9v1.9h-1.9zM311.45 273.95h1.9v1.9h-1.9zM316.25 273.95h1.9v1.9h-1.9zM317.85 273.95h1.9v1.9h-1.9zM321.05 273.95h1.9v1.9h-1.9zM332.25 273.95h1.9v1.9h-1.9zM335.45 273.95h1.9v1.9h-1.9zM309.85 275.55h1.9v1.9h-1.9zM313.05 275.55h1.9v1.9h-1.9zM314.65 275.55h1.9v1.9h-1.9zM316.25 275.55h1.9v1.9h-1.9zM317.85 275.55h1.9v1.9h-1.9zM330.65 275.55h1.9v1.9h-1.9zM335.45 275.55h1.9v1.9h-1.9zM337.05 275.55h1.9v1.9h-1.9zM303.45 277.15h1.9v1.9h-1.9zM309.85 277.15h1.9v1.9h-1.9zM313.05 277.15h1.9v1.9h-1.9zM324.25 277.15h1.9v1.9h-1.9zM266.65 278.75h1.9v1.9h-1.9zM305.05 278.75h1.9v1.9h-1.9zM306.65 278.75h1.9v1.9h-1.9zM311.45 278.75h1.9v1.9h-1.9zM313.05 278.75h1.9v1.9h-1.9zM314.65 278.75h1.9v1.9h-1.9zM327.45 278.75h1.9v1.9h-1.9zM333.85 278.75h1.9v1.9h-1.9zM337.05 278.75h1.9v1.9h-1.9zM340.25 278.75h1.9v1.9h-1.9zM305.05 280.35h1.9v1.9h-1.9zM306.65 280.35h1.9v1.9h-1.9zM308.25 280.35h1.9v1.9h-1.9zM311.45 280.35h1.9v1.9h-1.9zM314.65 280.35h1.9v1.9h-1.9zM317.85 280.35h1.9v1.9h-1.9zM325.85 280.35h1.9v1.9h-1.9zM327.45 280.35h1.9v1.9h-1.9zM337.05 280.35h1.9v1.9h-1.9zM338.65 280.35h1.9v1.9h-1.9zM345.05 280.35h1.9v1.9h-1.9zM313.05 281.95h1.9v1.9h-1.9zM314.65 281.95h1.9v1.9h-1.9zM322.65 281.95h1.9v1.9h-1.9zM325.85 281.95h1.9v1.9h-1.9zM329.05 281.95h1.9v1.9h-1.9zM335.45 281.95h1.9v1.9h-1.9zM265.05 283.55h1.9v1.9h-1.9zM314.65 283.55h1.9v1.9h-1.9zM321.05 283.55h1.9v1.9h-1.9zM329.05 283.55h1.9v1.9h-1.9zM335.45 283.55h1.9v1.9h-1.9zM338.65 283.55h1.9v1.9h-1.9zM265.05 285.15h1.9v1.9h-1.9zM311.45 285.15h1.9v1.9h-1.9zM316.25 285.15h1.9v1.9h-1.9zM325.85 285.15h1.9v1.9h-1.9zM335.45 285.15h1.9v1.9h-1.9zM338.65 285.15h1.9v1.9h-1.9zM343.45 285.15h1.9v1.9h-1.9zM345.05 285.15h1.9v1.9h-1.9zM265.05 286.75h1.9v1.9h-1.9zM322.65 286.75h1.9v1.9h-1.9zM325.85 286.75h1.9v1.9h-1.9zM329.05 286.75h1.9v1.9h-1.9zM332.25 286.75h1.9v1.9h-1.9zM333.85 286.75h1.9v1.9h-1.9zM265.05 288.35h1.9v1.9h-1.9zM305.05 288.35h1.9v1.9h-1.9zM308.25 288.35h1.9v1.9h-1.9zM311.45 288.35h1.9v1.9h-1.9zM313.05 288.35h1.9v1.9h-1.9zM319.45 288.35h1.9v1.9h-1.9zM327.45 288.35h1.9v1.9h-1.9zM333.85 288.35h1.9v1.9h-1.9zM338.65 288.35h1.9v1.9h-1.9zM341.85 288.35h1.9v1.9h-1.9zM265.05 289.95h1.9v1.9h-1.9zM305.05 289.95h1.9v1.9h-1.9zM308.25 289.95h1.9v1.9h-1.9zM313.05 289.95h1.9v1.9h-1.9zM321.05 289.95h1.9v1.9h-1.9zM322.65 289.95h1.9v1.9h-1.9zM325.85 289.95h1.9v1.9h-1.9zM329.05 289.95h1.9v1.9h-1.9zM337.05 289.95h1.9v1.9h-1.9zM338.65 289.95h1.9v1.9h-1.9zM341.85 289.95h1.9v1.9h-1.9zM343.45 289.95h1.9v1.9h-1.9zM346.65 289.95h1.9v1.9h-1.9zM265.05 291.55h1.9v1.9h-1.9zM311.45 291.55h1.9v1.9h-1.9zM319.45 291.55h1.9v1.9h-1.9zM322.65 291.55h1.9v1.9h-1.9zM324.25 291.55h1.9v1.9h-1.9zM333.85 291.55h1.9v1.9h-1.9zM335.45 291.55h1.9v1.9h-1.9zM263.45 293.15h1.9v1.9h-1.9zM265.05 293.15h1.9v1.9h-1.9zM311.45 293.15h1.9v1.9h-1.9zM319.45 293.15h1.9v1.9h-1.9zM321.05 293.15h1.9v1.9h-1.9zM322.65 293.15h1.9v1.9h-1.9zM324.25 293.15h1.9v1.9h-1.9zM325.85 293.15h1.9v1.9h-1.9zM329.05 293.15h1.9v1.9h-1.9zM333.85 293.15h1.9v1.9h-1.9zM335.45 293.15h1.9v1.9h-1.9zM341.85 293.15h1.9v1.9h-1.9zM346.65 293.15h1.9v1.9h-1.9zM348.25 293.15h1.9v1.9h-1.9zM300.25 294.75h1.9v1.9h-1.9zM303.45 294.75h1.9v1.9h-1.9zM308.25 294.75h1.9v1.9h-1.9zM309.85 294.75h1.9v1.9h-1.9zM316.25 294.75h1.9v1.9h-1.9zM319.45 294.75h1.9v1.9h-1.9zM321.05 294.75h1.9v1.9h-1.9zM322.65 294.75h1.9v1.9h-1.9zM329.05 294.75h1.9v1.9h-1.9zM333.85 294.75h1.9v1.9h-1.9zM335.45 294.75h1.9v1.9h-1.9zM308.25 296.35h1.9v1.9h-1.9zM311.45 296.35h1.9v1.9h-1.9zM314.65 296.35h1.9v1.9h-1.9zM322.65 296.35h1.9v1.9h-1.9zM330.65 296.35h1.9v1.9h-1.9zM333.85 296.35h1.9v1.9h-1.9zM335.45 296.35h1.9v1.9h-1.9zM345.05 296.35h1.9v1.9h-1.9zM305.05 297.95h1.9v1.9h-1.9zM322.65 297.95h1.9v1.9h-1.9zM335.45 297.95h1.9v1.9h-1.9zM337.05 297.95h1.9v1.9h-1.9zM340.25 297.95h1.9v1.9h-1.9zM308.25 299.55h1.9v1.9h-1.9zM313.05 299.55h1.9v1.9h-1.9zM317.85 299.55h1.9v1.9h-1.9zM324.25 299.55h1.9v1.9h-1.9zM325.85 299.55h1.9v1.9h-1.9zM338.65 299.55h1.9v1.9h-1.9zM266.65 301.15h1.9v1.9h-1.9zM303.45 301.15h1.9v1.9h-1.9zM305.05 301.15h1.9v1.9h-1.9zM311.45 301.15h1.9v1.9h-1.9zM313.05 301.15h1.9v1.9h-1.9zM314.65 301.15h1.9v1.9h-1.9zM325.85 301.15h1.9v1.9h-1.9zM332.25 301.15h1.9v1.9h-1.9zM333.85 301.15h1.9v1.9h-1.9zM345.05 301.15h1.9v1.9h-1.9zM266.65 302.75h1.9v1.9h-1.9zM306.65 302.75h1.9v1.9h-1.9zM319.45 302.75h1.9v1.9h-1.9zM321.05 302.75h1.9v1.9h-1.9zM325.85 302.75h1.9v1.9h-1.9zM327.45 302.75h1.9v1.9h-1.9zM341.85 302.75h1.9v1.9h-1.9zM303.45 304.35h1.9v1.9h-1.9zM309.85 304.35h1.9v1.9h-1.9zM313.05 304.35h1.9v1.9h-1.9zM314.65 304.35h1.9v1.9h-1.9zM319.45 304.35h1.9v1.9h-1.9zM322.65 304.35h1.9v1.9h-1.9zM325.85 304.35h1.9v1.9h-1.9zM327.45 304.35h1.9v1.9h-1.9zM329.05 304.35h1.9v1.9h-1.9zM332.25 304.35h1.9v1.9h-1.9zM333.85 304.35h1.9v1.9h-1.9zM306.65 305.95h1.9v1.9h-1.9zM308.25 305.95h1.9v1.9h-1.9zM311.45 305.95h1.9v1.9h-1.9zM314.65 305.95h1.9v1.9h-1.9zM319.45 305.95h1.9v1.9h-1.9zM329.05 305.95h1.9v1.9h-1.9zM330.65 305.95h1.9v1.9h-1.9zM332.25 305.95h1.9v1.9h-1.9zM340.25 305.95h1.9v1.9h-1.9zM268.25 307.55h1.9v1.9h-1.9zM303.45 307.55h1.9v1.9h-1.9zM305.05 307.55h1.9v1.9h-1.9zM311.45 307.55h1.9v1.9h-1.9zM314.65 307.55h1.9v1.9h-1.9zM327.45 307.55h1.9v1.9h-1.9zM329.05 307.55h1.9v1.9h-1.9zM330.65 307.55h1.9v1.9h-1.9zM338.65 307.55h1.9v1.9h-1.9zM341.85 307.55h1.9v1.9h-1.9zM268.25 309.15h1.9v1.9h-1.9zM314.65 309.15h1.9v1.9h-1.9zM317.85 309.15h1.9v1.9h-1.9zM322.65 309.15h1.9v1.9h-1.9zM324.25 309.15h1.9v1.9h-1.9zM332.25 309.15h1.9v1.9h-1.9zM333.85 309.15h1.9v1.9h-1.9zM268.25 310.75h1.9v1.9h-1.9zM314.65 310.75h1.9v1.9h-1.9zM324.25 310.75h1.9v1.9h-1.9zM333.85 310.75h1.9v1.9h-1.9zM269.85 312.35h1.9v1.9h-1.9zM303.45 312.35h1.9v1.9h-1.9zM305.05 312.35h1.9v1.9h-1.9zM306.65 312.35h1.9v1.9h-1.9zM309.85 312.35h1.9v1.9h-1.9zM311.45 312.35h1.9v1.9h-1.9zM324.25 312.35h1.9v1.9h-1.9zM330.65 312.35h1.9v1.9h-1.9zM335.45 312.35h1.9v1.9h-1.9zM269.85 313.95h1.9v1.9h-1.9zM313.05 313.95h1.9v1.9h-1.9zM314.65 313.95h1.9v1.9h-1.9zM316.25 313.95h1.9v1.9h-1.9zM317.85 313.95h1.9v1.9h-1.9zM319.45 313.95h1.9v1.9h-1.9zM325.85 313.95h1.9v1.9h-1.9zM327.45 313.95h1.9v1.9h-1.9zM332.25 313.95h1.9v1.9h-1.9zM333.85 313.95h1.9v1.9h-1.9zM335.45 313.95h1.9v1.9h-1.9zM271.45 315.55h1.9v1.9h-1.9zM273.05 315.55h1.9v1.9h-1.9zM303.45 315.55h1.9v1.9h-1.9zM306.65 315.55h1.9v1.9h-1.9zM311.45 315.55h1.9v1.9h-1.9zM319.45 315.55h1.9v1.9h-1.9zM324.25 315.55h1.9v1.9h-1.9zM332.25 315.55h1.9v1.9h-1.9zM337.05 315.55h1.9v1.9h-1.9zM271.45 317.15h1.9v1.9h-1.9zM273.05 317.15h1.9v1.9h-1.9zM314.65 317.15h1.9v1.9h-1.9zM321.05 317.15h1.9v1.9h-1.9zM324.25 317.15h1.9v1.9h-1.9zM329.05 317.15h1.9v1.9h-1.9zM271.45 318.75h1.9v1.9h-1.9zM274.65 318.75h1.9v1.9h-1.9zM297.05 318.75h1.9v1.9h-1.9zM305.05 318.75h1.9v1.9h-1.9zM281.05 320.35h1.9v1.9h-1.9zM282.65 320.35h1.9v1.9h-1.9zM284.25 320.35h1.9v1.9h-1.9zM287.45 320.35h1.9v1.9h-1.9zM289.05 320.35h1.9v1.9h-1.9zM317.85 320.35h1.9v1.9h-1.9zM324.25 320.35h1.9v1.9h-1.9zM329.05 320.35h1.9v1.9h-1.9zM274.65 321.95h1.9v1.9h-1.9zM277.85 321.95h1.9v1.9h-1.9zM279.45 321.95h1.9v1.9h-1.9zM292.25 321.95h1.9v1.9h-1.9zM293.85 321.95h1.9v1.9h-1.9zM308.25 321.95h1.9v1.9h-1.9zM314.65 321.95h1.9v1.9h-1.9zM316.25 321.95h1.9v1.9h-1.9zM317.85 321.95h1.9v1.9h-1.9zM321.05 321.95h1.9v1.9h-1.9zM324.25 321.95h1.9v1.9h-1.9zM325.85 321.95h1.9v1.9h-1.9zM279.45 323.55h1.9v1.9h-1.9zM297.05 323.55h1.9v1.9h-1.9zM301.85 323.55h1.9v1.9h-1.9zM311.45 323.55h1.9v1.9h-1.9zM314.65 323.55h1.9v1.9h-1.9zM319.45 323.55h1.9v1.9h-1.9zM316.25 325.15h1.9v1.9h-1.9z"/>
<path fill="rgb(22, 49, 234)" d="M313.05 256.35h1.9v1.9h-1.9zM301.85 257.95h1.9v1.9h-1.9zM303.45 257.95h1.9v1.9h-1.9zM317.85 257.95h1.9v1.9h-1.9zM293.85 259.55h1.9v1.9h-1.9zM298.65 259.55h1.9v1.9h-1.9zM301.85 259.55h1.9v1.9h-1.9zM303.45 259.55h1.9v1.9h-1.9zM311.45 259.55h1.9v1.9h-1.9zM314.65 259.55h1.9v1.9h-1.9zM316.25 259.55h1.9v1.9h-1.9zM317.85 259.55h1.9v1.9h-1.9zM324.25 259.55h1.9v1.9h-1.9zM289.05 261.15h1.9v1.9h-1.9zM308.25 261.15h1.9v1.9h-1.9zM311.45 261.15h1.9v1.9h-1.9zM314.65 261.15h1.9v1.9h-1.9zM316.25 261.15h1.9v1.9h-1.9zM317.85 261.15h1.9v1.9h-1.9zM327.45 261.15h1.9v1.9h-1.9zM276.25 262.75h1.9v1.9h-1.9zM279.45 262.75h1.9v1.9h-1.9zM281.05 262.75h1.9v1.9h-1.9zM282.65 262.75h1.9v1.9h-1.9zM284.25 262.75h1.9v1.9h-1.9zM285.85 262.75h1.9v1.9h-1.9zM287.45 262.75h1.9v1.9h-1.9zM309.85 262.75h1.9v1.9h-1.9zM317.85 262.75h1.9v1.9h-1.9zM319.45 262.75h1.9v1.9h-1.9zM274.65 264.35h1.9v1.9h-1.9zM276.25 264.35h1.9v1.9h-1.9zM277.85 264.35h1.9v1.9h-1.9zM279.45 264.35h1.9v1.9h-1.9zM281.05 264.35h1.9v1.9h-1.9zM295.45 264.35h1.9v1.9h-1.9zM311.45 264.35h1.9v1.9h-1.9zM314.65 264.35h1.9v1.9h-1.9zM321.05 264.35h1.9v1.9h-1.9zM332.25 264.35h1.9v1.9h-1.9zM300.25 265.95h1.9v1.9h-1.9zM301.85 265.95h1.9v1.9h-1.9zM305.05 265.95h1.9v1.9h-1.9zM308.25 265.95h1.9v1.9h-1.9zM311.45 265.95h1.9v1.9h-1.9zM316.25 265.95h1.9v1.9h-1.9zM322.65 265.95h1.9v1.9h-1.9zM324.25 265.95h1.9v1.9h-1.9zM271.45 267.55h1.9v1.9h-1.9zM273.05 267.55h1.9v1.9h-1.9zM308.25 267.55h1.9v1.9h-1.9zM314.65 267.55h1.9v1.9h-1.9zM316.25 267.55h1.9v1.9h-1.9zM317.85 267.55h1.9v1.9h-1.9zM325.85 267.55h1.9v1.9h-1.9zM329.05 267.55h1.9v1.9h-1.9zM269.85 269.15h1.9v1.9h-1.9zM271.45 269.15h1.9v1.9h-1.9zM303.45 269.15h1.9v1.9h-1.9zM305.05 269.15h1.9v1.9h-1.9zM311.45 269.15h1.9v1.9h-1.9zM313.05 269.15h1.9v1.9h-1.9zM327.45 269.15h1.9v1.9h-1.9zM269.85 270.75h1.9v1.9h-1.9zM308.25 270.75h1.9v1.9h-1.9zM309.85 270.75h1.9v1.9h-1.9zM316.25 270.75h1.9v1.9h-1.9zM319.45 270.75h1.9v1.9h-1.9zM321.05 270.75h1.9v1.9h-1.9zM327.45 270.75h1.9v1.9h-1.9zM329.05 270.75h1.9v1.9h-1.9zM332.25 270.75h1.9v1.9h-1.9zM293.85 272.35h1.9v1.9h-1.9zM303.45 272.35h1.9v1.9h-1.9zM306.65 272.35h1.9v1.9h-1.9zM311.45 272.35h1.9v1.9h-1.9zM295.45 273.95h1.9v1.9h-1.9zM303.45 273.95h1.9v1.9h-1.9zM313.05 273.95h1.9v1.9h-1.9zM319.45 273.95h1.9v1.9h-1.9zM329.05 273.95h1.9v1.9h-1.9zM333.85 273.95h1.9v1.9h-1.9zM268.25 275.55h1.9v1.9h-1.9zM300.25 275.55h1.9v1.9h-1.9zM305.05 275.55h1.9v1.9h-1.9zM306.65 275.55h1.9v1.9h-1.9zM325.85 275.55h1.9v1.9h-1.9zM268.25 277.15h1.9v1.9h-1.9zM311.45 277.15h1.9v1.9h-1.9zM321.05 277.15h1.9v1.9h-1.9zM341.85 277.15h1.9v1.9h-1.9zM316.25 278.75h1.9v1.9h-1.9zM317.85 278.75h1.9v1.9h-1.9zM319.45 278.75h1.9v1.9h-1.9zM322.65 278.75h1.9v1.9h-1.9zM329.05 278.75h1.9v1.9h-1.9zM341.85 278.75h1.9v1.9h-1.9zM266.65 280.35h1.9v1.9h-1.9zM309.85 280.35h1.9v1.9h-1.9zM313.05 280.35h1.9v1.9h-1.9zM316.25 280.35h1.9v1.9h-1.9zM333.85 280.35h1.9v1.9h-1.9zM266.65 281.95h1.9v1.9h-1.9zM306.65 281.95h1.9v1.9h-1.9zM309.85 281.95h1.9v1.9h-1.9zM327.45 281.95h1.9v1.9h-1.9zM332.25 281.95h1.9v1.9h-1.9zM338.65 281.95h1.9v1.9h-1.9zM266.65 283.55h1.9v1.9h-1.9zM306.65 283.55h1.9v1.9h-1.9zM308.25 283.55h1.9v1.9h-1.9zM316.25 283.55h1.9v1.9h-1.9zM317.85 283.55h1.9v1.9h-1.9zM319.45 283.55h1.9v1.9h-1.9zM324.25 283.55h1.9v1.9h-1.9zM325.85 283.55h1.9v1.9h-1.9zM330.65 283.55h1.9v1.9h-1.9zM266.65 285.15h1.9v1.9h-1.9zM305.05 285.15h1.9v1.9h-1.9zM308.25 285.15h1.9v1.9h-1.9zM313.05 285.15h1.9v1.9h-1.9zM314.65 285.15h1.9v1.9h-1.9zM330.65 285.15h1.9v1.9h-1.9zM332.25 285.15h1.9v1.9h-1.9zM266.65 286.75h1.9v1.9h-1.9zM305.05 286.75h1.9v1.9h-1.9zM306.65 286.75h1.9v1.9h-1.9zM309.85 286.75h1.9v1.9h-1.9zM313.05 286.75h1.9v1.9h-1.9zM314.65 286.75h1.9v1.9h-1.9zM319.45 286.75h1.9v1.9h-1.9zM330.65 286.75h1.9v1.9h-1.9zM338.65 286.75h1.9v1.9h-1.9zM340.25 286.75h1.9v1.9h-1.9zM300.25 288.35h1.9v1.9h-1.9zM306.65 288.35h1.9v1.9h-1.9zM309.85 288.35h1.9v1.9h-1.9zM314.65 288.35h1.9v1.9h-1.9zM317.85 288.35h1.9v1.9h-1.9zM321.05 288.35h1.9v1.9h-1.9zM324.25 288.35h1.9v1.9h-1.9zM266.65 289.95h1.9v1.9h-1.9zM311.45 289.95h1.9v1.9h-1.9zM330.65 289.95h1.9v1.9h-1.9zM333.85 289.95h1.9v1.9h-1.9zM266.65 291.55h1.9v1.9h-1.9zM298.65 291.55h1.9v1.9h-1.9zM306.65 291.55h1.9v1.9h-1.9zM313.05 291.55h1.9v1.9h-1.9zM317.85 291.55h1.9v1.9h-1.9zM325.85 291.55h1.9v1.9h-1.9zM327.45 291.55h1.9v1.9h-1.9zM338.65 291.55h1.9v1.9h-1.9zM340.25 291.55h1.9v1.9h-1.9zM266.65 293.15h1.9v1.9h-1.9zM301.85 293.15h1.9v1.9h-1.9zM305.05 293.15h1.9v1.9h-1.9zM306.65 293.15h1.9v1.9h-1.9zM317.85 293.15h1.9v1.9h-1.9zM327.45 293.15h1.9v1.9h-1.9zM330.65 293.15h1.9v1.9h-1.9zM332.25 293.15h1.9v1.9h-1.9zM343.45 293.15h1.9v1.9h-1.9zM266.65 294.75h1.9v1.9h-1.9zM306.65 294.75h1.9v1.9h-1.9zM311.45 294.75h1.9v1.9h-1.9zM314.65 294.75h1.9v1.9h-1.9zM317.85 294.75h1.9v1.9h-1.9zM324.25 294.75h1.9v1.9h-1.9zM327.45 294.75h1.9v1.9h-1.9zM338.65 294.75h1.9v1.9h-1.9zM345.05 294.75h1.9v1.9h-1.9zM266.65 296.35h1.9v1.9h-1.9zM300.25 296.35h1.9v1.9h-1.9zM317.85 296.35h1.9v1.9h-1.9zM321.05 296.35h1.9v1.9h-1.9zM332.25 296.35h1.9v1.9h-1.9zM346.65 296.35h1.9v1.9h-1.9zM266.65 297.95h1.9v1.9h-1.9zM303.45 297.95h1.9v1.9h-1.9zM316.25 297.95h1.9v1.9h-1.9zM317.85 297.95h1.9v1.9h-1.9zM321.05 297.95h1.9v1.9h-1.9zM325.85 297.95h1.9v1.9h-1.9zM327.45 297.95h1.9v1.9h-1.9zM266.65 299.55h1.9v1.9h-1.9zM305.05 299.55h1.9v1.9h-1.9zM316.25 299.55h1.9v1.9h-1.9zM319.45 299.55h1.9v1.9h-1.9zM327.45 299.55h1.9v1.9h-1.9zM329.05 299.55h1.9v1.9h-1.9zM330.65 299.55h1.9v1.9h-1.9zM332.25 299.55h1.9v1.9h-1.9zM335.45 299.55h1.9v1.9h-1.9zM308.25 301.15h1.9v1.9h-1.9zM317.85 301.15h1.9v1.9h-1.9zM329.05 301.15h1.9v1.9h-1.9zM338.65 301.15h1.9v1.9h-1.9zM268.25 302.75h1.9v1.9h-1.9zM309.85 302.75h1.9v1.9h-1.9zM314.65 302.75h1.9v1.9h-1.9zM317.85 302.75h1.9v1.9h-1.9zM324.25 302.75h1.9v1.9h-1.9zM330.65 302.75h1.9v1.9h-1.9zM332.25 302.75h1.9v1.9h-1.9zM333.85 302.75h1.9v1.9h-1.9zM343.45 302.75h1.9v1.9h-1.9zM268.25 304.35h1.9v1.9h-1.9zM298.65 304.35h1.9v1.9h-1.9zM311.45 304.35h1.9v1.9h-1.9zM317.85 304.35h1.9v1.9h-1.9zM330.65 304.35h1.9v1.9h-1.9zM343.45 304.35h1.9v1.9h-1.9zM268.25 305.95h1.9v1.9h-1.9zM303.45 305.95h1.9v1.9h-1.9zM321.05 305.95h1.9v1.9h-1.9zM322.65 305.95h1.9v1.9h-1.9zM325.85 305.95h1.9v1.9h-1.9zM335.45 305.95h1.9v1.9h-1.9zM337.05 305.95h1.9v1.9h-1.9zM343.45 305.95h1.9v1.9h-1.9zM306.65 307.55h1.9v1.9h-1.9zM309.85 307.55h1.9v1.9h-1.9zM317.85 307.55h1.9v1.9h-1.9zM319.45 307.55h1.9v1.9h-1.9zM322.65 307.55h1.9v1.9h-1.9zM333.85 307.55h1.9v1.9h-1.9zM269.85 309.15h1.9v1.9h-1.9zM301.85 309.15h1.9v1.9h-1.9zM305.05 309.15h1.9v1.9h-1.9zM308.25 309.15h1.9v1.9h-1.9zM313.05 309.15h1.9v1.9h-1.9zM319.45 309.15h1.9v1.9h-1.9zM269.85 310.75h1.9v1.9h-1.9zM301.85 310.75h1.9v1.9h-1.9zM308.25 310.75h1.9v1.9h-1.9zM311.45 310.75h1.9v1.9h-1.9zM313.05 310.75h1.9v1.9h-1.9zM316.25 310.75h1.9v1.9h-1.9zM319.45 310.75h1.9v1.9h-1.9zM321.05 310.75h1.9v1.9h-1.9zM325.85 310.75h1.9v1.9h-1.9zM329.05 310.75h1.9v1.9h-1.9zM330.65 310.75h1.9v1.9h-1.9zM271.45 312.35h1.9v1.9h-1.9zM314.65 312.35h1.9v1.9h-1.9zM316.25 312.35h1.9v1.9h-1.9zM317.85 312.35h1.9v1.9h-1.9zM319.45 312.35h1.9v1.9h-1.9zM321.05 312.35h1.9v1.9h-1.9zM271.45 313.95h1.9v1.9h-1.9zM298.65 313.95h1.9v1.9h-1.9zM300.25 313.95h1.9v1.9h-1.9zM301.85 313.95h1.9v1.9h-1.9zM305.05 313.95h1.9v1.9h-1.9zM311.45 313.95h1.9v1.9h-1.9zM274.65 315.55h1.9v1.9h-1.9zM301.85 315.55h1.9v1.9h-1.9zM314.65 315.55h1.9v1.9h-1.9zM322.65 315.55h1.9v1.9h-1.9zM329.05 315.55h1.9v1.9h-1.9zM274.65 317.15h1.9v1.9h-1.9zM276.25 317.15h1.9v1.9h-1.9zM301.85 317.15h1.9v1.9h-1.9zM303.45 317.15h1.9v1.9h-1.9zM306.65 317.15h1.9v1.9h-1.9zM308.25 317.15h1.9v1.9h-1.9zM313.05 317.15h1.9v1.9h-1.9zM316.25 317.15h1.9v1.9h-1.9zM317.85 317.15h1.9v1.9h-1.9zM319.45 317.15h1.9v1.9h-1.9zM325.85 317.15h1.9v1.9h-1.9zM332.25 317.15h1.9v1.9h-1.9zM333.85 317.15h1.9v1.9h-1.9zM276.25 318.75h1.9v1.9h-1.9zM279.45 318.75h1.9v1.9h-1.9zM281.05 318.75h1.9v1.9h-1.9zM282.65 318.75h1.9v1.9h-1.9zM284.25 318.75h1.9v1.9h-1.9zM285.85 318.75h1.9v1.9h-1.9zM287.45 318.75h1.9v1.9h-1.9zM300.25 318.75h1.9v1.9h-1.9zM301.85 318.75h1.9v1.9h-1.9zM309.85 318.75h1.9v1.9h-1.9zM314.65 318.75h1.9v1.9h-1.9zM317.85 318.75h1.9v1.9h-1.9zM277.85 320.35h1.9v1.9h-1.9zM279.45 320.35h1.9v1.9h-1.9zM285.85 320.35h1.9v1.9h-1.9zM300.25 320.35h1.9v1.9h-1.9zM313.05 320.35h1.9v1.9h-1.9zM314.65 320.35h1.9v1.9h-1.9zM325.85 320.35h1.9v1.9h-1.9zM305.05 321.95h1.9v1.9h-1.9zM309.85 321.95h1.9v1.9h-1.9zM313.05 321.95h1.9v1.9h-1.9zM322.65 321.95h1.9v1.9h-1.9zM300.25 323.55h1.9v1.9h-1.9zM303.45 323.55h1.9v1.9h-1.9zM305.05 323.55h1.9v1.9h-1.9zM313.05 323.55h1.9v1.9h-1.9zM316.25 323.55h1.9v1.9h-1.9zM317.85 323.55h1.9v1.9h-1.9zM313.05 325.15h1.9v1.9h-1.9z"/>
<path fill="rgb(26, 58, 236)" d="M306.65 256.35h1.9v1.9h-1.9zM309.85 256.35h1.9v1.9h-1.9zM311.45 256.35h1.9v1.9h-1.9zM314.65 256.35h1.9v1.9h-1.9zM308.25 257.95h1.9v1.9h-1.9zM309.85 257.95h1.9v1.9h-1.9zM319.45 257.95h1.9v1.9h-1.9zM295.45 259.55h1.9v1.9h-1.9zM297.05 259.55h1.9v1.9h-1.9zM300.25 259.55h1.9v1.9h-1.9zM305.05 259.55h1.9v1.9h-1.9zM309.85 259.55h1.9v1.9h-1.9zM313.05 259.55h1.9v1.9h-1.9zM290.65 261.15h1.9v1.9h-1.9zM298.65 261.15h1.9v1.9h-1.9zM301.85 261.15h1.9v1.9h-1.9zM305.05 261.15h1.9v1.9h-1.9zM306.65 261.15h1.9v1.9h-1.9zM319.45 261.15h1.9v1.9h-1.9zM329.05 261.15h1.9v1.9h-1.9zM293.85 262.75h1.9v1.9h-1.9zM297.05 262.75h1.9v1.9h-1.9zM300.25 262.75h1.9v1.9h-1.9zM301.85 262.75h1.9v1.9h-1.9zM305.05 262.75h1.9v1.9h-1.9zM311.45 262.75h1.9v1.9h-1.9zM313.05 262.75h1.9v1.9h-1.9zM314.65 262.75h1.9v1.9h-1.9zM282.65 264.35h1.9v1.9h-1.9zM284.25 264.35h1.9v1.9h-1.9zM285.85 264.35h1.9v1.9h-1.9zM290.65 264.35h1.9v1.9h-1.9zM298.65 264.35h1.9v1.9h-1.9zM306.65 264.35h1.9v1.9h-1.9zM308.25 264.35h1.9v1.9h-1.9zM313.05 264.35h1.9v1.9h-1.9zM316.25 264.35h1.9v1.9h-1.9zM274.65 265.95h1.9v1.9h-1.9zM277.85 265.95h1.9v1.9h-1.9zM298.65 265.95h1.9v1.9h-1.9zM303.45 265.95h1.9v1.9h-1.9zM306.65 265.95h1.9v1.9h-1.9zM313.05 265.95h1.9v1.9h-1.9zM274.65 267.55h1.9v1.9h-1.9zM297.05 267.55h1.9v1.9h-1.9zM301.85 267.55h1.9v1.9h-1.9zM306.65 267.55h1.9v1.9h-1.9zM309.85 267.55h1.9v1.9h-1.9zM311.45 267.55h1.9v1.9h-1.9zM313.05 267.55h1.9v1.9h-1.9zM322.65 267.55h1.9v1.9h-1.9zM273.05 269.15h1.9v1.9h-1.9zM297.05 269.15h1.9v1.9h-1.9zM300.25 269.15h1.9v1.9h-1.9zM301.85 269.15h1.9v1.9h-1.9zM306.65 269.15h1.9v1.9h-1.9zM308.25 269.15h1.9v1.9h-1.9zM314.65 269.15h1.9v1.9h-1.9zM332.25 269.15h1.9v1.9h-1.9zM271.45 270.75h1.9v1.9h-1.9zM303.45 270.75h1.9v1.9h-1.9zM324.25 270.75h1.9v1.9h-1.9zM269.85 272.35h1.9v1.9h-1.9zM298.65 272.35h1.9v1.9h-1.9zM300.25 272.35h1.9v1.9h-1.9zM301.85 272.35h1.9v1.9h-1.9zM309.85 272.35h1.9v1.9h-1.9zM269.85 273.95h1.9v1.9h-1.9zM297.05 273.95h1.9v1.9h-1.9zM300.25 273.95h1.9v1.9h-1.9zM308.25 273.95h1.9v1.9h-1.9zM322.65 273.95h1.9v1.9h-1.9zM325.85 273.95h1.9v1.9h-1.9zM327.45 273.95h1.9v1.9h-1.9zM311.45 275.55h1.9v1.9h-1.9zM322.65 275.55h1.9v1.9h-1.9zM324.25 275.55h1.9v1.9h-1.9zM329.05 275.55h1.9v1.9h-1.9zM332.25 275.55h1.9v1.9h-1.9zM298.65 277.15h1.9v1.9h-1.9zM305.05 277.15h1.9v1.9h-1.9zM306.65 277.15h1.9v1.9h-1.9zM314.65 277.15h1.9v1.9h-1.9zM317.85 277.15h1.9v1.9h-1.9zM319.45 277.15h1.9v1.9h-1.9zM330.65 277.15h1.9v1.9h-1.9zM268.25 278.75h1.9v1.9h-1.9zM300.25 278.75h1.9v1.9h-1.9zM308.25 278.75h1.9v1.9h-1.9zM268.25 280.35h1.9v1.9h-1.9zM303.45 280.35h1.9v1.9h-1.9zM319.45 280.35h1.9v1.9h-1.9zM322.65 280.35h1.9v1.9h-1.9zM268.25 281.95h1.9v1.9h-1.9zM300.25 281.95h1.9v1.9h-1.9zM308.25 281.95h1.9v1.9h-1.9zM311.45 281.95h1.9v1.9h-1.9zM316.25 281.95h1.9v1.9h-1.9zM324.25 281.95h1.9v1.9h-1.9zM303.45 283.55h1.9v1.9h-1.9zM309.85 283.55h1.9v1.9h-1.9zM322.65 283.55h1.9v1.9h-1.9zM327.45 283.55h1.9v1.9h-1.9zM300.25 285.15h1.9v1.9h-1.9zM303.45 285.15h1.9v1.9h-1.9zM309.85 285.15h1.9v1.9h-1.9zM319.45 285.15h1.9v1.9h-1.9zM321.05 285.15h1.9v1.9h-1.9zM303.45 286.75h1.9v1.9h-1.9zM311.45 286.75h1.9v1.9h-1.9zM316.25 286.75h1.9v1.9h-1.9zM266.65 288.35h1.9v1.9h-1.9zM303.45 288.35h1.9v1.9h-1.9zM325.85 288.35h1.9v1.9h-1.9zM309.85 289.95h1.9v1.9h-1.9zM314.65 289.95h1.9v1.9h-1.9zM317.85 289.95h1.9v1.9h-1.9zM300.25 291.55h1.9v1.9h-1.9zM301.85 291.55h1.9v1.9h-1.9zM303.45 291.55h1.9v1.9h-1.9zM314.65 291.55h1.9v1.9h-1.9zM321.05 291.55h1.9v1.9h-1.9zM303.45 293.15h1.9v1.9h-1.9zM305.05 294.75h1.9v1.9h-1.9zM313.05 294.75h1.9v1.9h-1.9zM301.85 296.35h1.9v1.9h-1.9zM303.45 296.35h1.9v1.9h-1.9zM306.65 296.35h1.9v1.9h-1.9zM319.45 296.35h1.9v1.9h-1.9zM306.65 297.95h1.9v1.9h-1.9zM313.05 297.95h1.9v1.9h-1.9zM314.65 297.95h1.9v1.9h-1.9zM330.65 297.95h1.9v1.9h-1.9zM268.25 299.55h1.9v1.9h-1.9zM306.65 299.55h1.9v1.9h-1.9zM268.25 301.15h1.9v1.9h-1.9zM300.25 301.15h1.9v1.9h-1.9zM306.65 301.15h1.9v1.9h-1.9zM309.85 301.15h1.9v1.9h-1.9zM322.65 301.15h1.9v1.9h-1.9zM335.45 301.15h1.9v1.9h-1.9zM340.25 301.15h1.9v1.9h-1.9zM305.05 302.75h1.9v1.9h-1.9zM311.45 302.75h1.9v1.9h-1.9zM313.05 302.75h1.9v1.9h-1.9zM316.25 302.75h1.9v1.9h-1.9zM297.05 304.35h1.9v1.9h-1.9zM300.25 304.35h1.9v1.9h-1.9zM301.85 304.35h1.9v1.9h-1.9zM305.05 304.35h1.9v1.9h-1.9zM316.25 304.35h1.9v1.9h-1.9zM298.65 305.95h1.9v1.9h-1.9zM305.05 305.95h1.9v1.9h-1.9zM313.05 305.95h1.9v1.9h-1.9zM269.85 307.55h1.9v1.9h-1.9zM308.25 307.55h1.9v1.9h-1.9zM306.65 309.15h1.9v1.9h-1.9zM311.45 309.15h1.9v1.9h-1.9zM335.45 309.15h1.9v1.9h-1.9zM271.45 310.75h1.9v1.9h-1.9zM297.05 310.75h1.9v1.9h-1.9zM305.05 310.75h1.9v1.9h-1.9zM306.65 310.75h1.9v1.9h-1.9zM309.85 310.75h1.9v1.9h-1.9zM273.05 312.35h1.9v1.9h-1.9zM297.05 312.35h1.9v1.9h-1.9zM313.05 312.35h1.9v1.9h-1.9zM322.65 312.35h1.9v1.9h-1.9zM333.85 312.35h1.9v1.9h-1.9zM273.05 313.95h1.9v1.9h-1.9zM295.45 313.95h1.9v1.9h-1.9zM321.05 313.95h1.9v1.9h-1.9zM276.25 315.55h1.9v1.9h-1.9zM297.05 315.55h1.9v1.9h-1.9zM308.25 315.55h1.9v1.9h-1.9zM309.85 315.55h1.9v1.9h-1.9zM316.25 315.55h1.9v1.9h-1.9zM325.85 315.55h1.9v1.9h-1.9zM277.85 317.15h1.9v1.9h-1.9zM279.45 317.15h1.9v1.9h-1.9zM281.05 317.15h1.9v1.9h-1.9zM282.65 317.15h1.9v1.9h-1.9zM284.25 317.15h1.9v1.9h-1.9zM285.85 317.15h1.9v1.9h-1.9zM300.25 317.15h1.9v1.9h-1.9zM305.05 317.15h1.9v1.9h-1.9zM277.85 318.75h1.9v1.9h-1.9zM289.05 318.75h1.9v1.9h-1.9zM293.85 318.75h1.9v1.9h-1.9zM298.65 318.75h1.9v1.9h-1.9zM303.45 318.75h1.9v1.9h-1.9zM306.65 318.75h1.9v1.9h-1.9zM311.45 318.75h1.9v1.9h-1.9zM313.05 318.75h1.9v1.9h-1.9zM290.65 320.35h1.9v1.9h-1.9zM298.65 320.35h1.9v1.9h-1.9zM305.05 320.35h1.9v1.9h-1.9zM306.65 320.35h1.9v1.9h-1.9zM311.45 320.35h1.9v1.9h-1.9zM316.25 320.35h1.9v1.9h-1.9zM297.05 321.95h1.9v1.9h-1.9zM306.65 321.95h1.9v1.9h-1.9zM311.45 321.95h1.9v1.9h-1.9zM298.65 323.55h1.9v1.9h-1.9zM306.65 323.55h1.9v1.9h-1.9zM305.05 325.15h1.9v1.9h-1.9z"/>
<path fill="rgb(30, 70, 238)" d="M300.25 257.95h1.9v1.9h-1.9zM300.25 261.15h1.9v1.9h-1.9zM303.45 261.15h1.9v1.9h-1.9zM321.05 261.15h1.9v1.9h-1.9zM289.05 262.75h1.9v1.9h-1.9zM295.45 262.75h1.9v1.9h-1.9zM308.25 262.75h1.9v1.9h-1.9zM297.05 264.35h1.9v1.9h-1.9zM327.45 264.35h1.9v1.9h-1.9zM276.25 265.95h1.9v1.9h-1.9zM279.45 265.95h1.9v1.9h-1.9zM281.05 265.95h1.9v1.9h-1.9zM297.05 265.95h1.9v1.9h-1.9zM314.65 265.95h1.9v1.9h-1.9zM276.25 267.55h1.9v1.9h-1.9zM319.45 267.55h1.9v1.9h-1.9zM295.45 269.15h1.9v1.9h-1.9zM298.65 269.15h1.9v1.9h-1.9zM273.05 270.75h1.9v1.9h-1.9zM298.65 270.75h1.9v1.9h-1.9zM301.85 270.75h1.9v1.9h-1.9zM313.05 270.75h1.9v1.9h-1.9zM271.45 272.35h1.9v1.9h-1.9zM295.45 272.35h1.9v1.9h-1.9zM308.25 272.35h1.9v1.9h-1.9zM271.45 273.95h1.9v1.9h-1.9zM298.65 273.95h1.9v1.9h-1.9zM301.85 273.95h1.9v1.9h-1.9zM306.65 273.95h1.9v1.9h-1.9zM269.85 275.55h1.9v1.9h-1.9zM298.65 275.55h1.9v1.9h-1.9zM301.85 275.55h1.9v1.9h-1.9zM308.25 275.55h1.9v1.9h-1.9zM269.85 277.15h1.9v1.9h-1.9zM303.45 278.75h1.9v1.9h-1.9zM309.85 278.75h1.9v1.9h-1.9zM298.65 280.35h1.9v1.9h-1.9zM297.05 281.95h1.9v1.9h-1.9zM298.65 281.95h1.9v1.9h-1.9zM303.45 281.95h1.9v1.9h-1.9zM268.25 283.55h1.9v1.9h-1.9zM300.25 283.55h1.9v1.9h-1.9zM305.05 283.55h1.9v1.9h-1.9zM268.25 285.15h1.9v1.9h-1.9zM298.65 285.15h1.9v1.9h-1.9zM306.65 285.15h1.9v1.9h-1.9zM324.25 285.15h1.9v1.9h-1.9zM268.25 286.75h1.9v1.9h-1.9zM298.65 286.75h1.9v1.9h-1.9zM300.25 286.75h1.9v1.9h-1.9zM301.85 286.75h1.9v1.9h-1.9zM301.85 288.35h1.9v1.9h-1.9zM343.45 288.35h1.9v1.9h-1.9zM300.25 289.95h1.9v1.9h-1.9zM301.85 289.95h1.9v1.9h-1.9zM303.45 289.95h1.9v1.9h-1.9zM316.25 291.55h1.9v1.9h-1.9zM268.25 293.15h1.9v1.9h-1.9zM300.25 293.15h1.9v1.9h-1.9zM308.25 293.15h1.9v1.9h-1.9zM301.85 294.75h1.9v1.9h-1.9zM268.25 296.35h1.9v1.9h-1.9zM305.05 296.35h1.9v1.9h-1.9zM313.05 296.35h1.9v1.9h-1.9zM324.25 296.35h1.9v1.9h-1.9zM268.25 297.95h1.9v1.9h-1.9zM297.05 297.95h1.9v1.9h-1.9zM301.85 297.95h1.9v1.9h-1.9zM309.85 297.95h1.9v1.9h-1.9zM300.25 299.55h1.9v1.9h-1.9zM311.45 299.55h1.9v1.9h-1.9zM314.65 299.55h1.9v1.9h-1.9zM297.05 301.15h1.9v1.9h-1.9zM297.05 302.75h1.9v1.9h-1.9zM300.25 302.75h1.9v1.9h-1.9zM301.85 302.75h1.9v1.9h-1.9zM303.45 302.75h1.9v1.9h-1.9zM269.85 304.35h1.9v1.9h-1.9zM269.85 305.95h1.9v1.9h-1.9zM295.45 305.95h1.9v1.9h-1.9zM300.25 305.95h1.9v1.9h-1.9zM316.25 305.95h1.9v1.9h-1.9zM271.45 307.55h1.9v1.9h-1.9zM298.65 307.55h1.9v1.9h-1.9zM300.25 307.55h1.9v1.9h-1.9zM271.45 309.15h1.9v1.9h-1.9zM295.45 309.15h1.9v1.9h-1.9zM303.45 309.15h1.9v1.9h-1.9zM316.25 309.15h1.9v1.9h-1.9zM273.05 310.75h1.9v1.9h-1.9zM295.45 310.75h1.9v1.9h-1.9zM300.25 310.75h1.9v1.9h-1.9zM303.45 310.75h1.9v1.9h-1.9zM317.85 310.75h1.9v1.9h-1.9zM290.65 312.35h1.9v1.9h-1.9zM298.65 312.35h1.9v1.9h-1.9zM300.25 312.35h1.9v1.9h-1.9zM301.85 312.35h1.9v1.9h-1.9zM308.25 312.35h1.9v1.9h-1.9zM274.65 313.95h1.9v1.9h-1.9zM276.25 313.95h1.9v1.9h-1.9zM303.45 313.95h1.9v1.9h-1.9zM308.25 313.95h1.9v1.9h-1.9zM322.65 313.95h1.9v1.9h-1.9zM277.85 315.55h1.9v1.9h-1.9zM279.45 315.55h1.9v1.9h-1.9zM295.45 315.55h1.9v1.9h-1.9zM298.65 315.55h1.9v1.9h-1.9zM300.25 315.55h1.9v1.9h-1.9zM305.05 315.55h1.9v1.9h-1.9zM293.85 317.15h1.9v1.9h-1.9zM295.45 317.15h1.9v1.9h-1.9zM297.05 317.15h1.9v1.9h-1.9zM298.65 317.15h1.9v1.9h-1.9zM311.45 317.15h1.9v1.9h-1.9zM308.25 318.75h1.9v1.9h-1.9zM322.65 318.75h1.9v1.9h-1.9zM295.45 320.35h1.9v1.9h-1.9zM297.05 320.35h1.9v1.9h-1.9zM303.45 320.35h1.9v1.9h-1.9zM322.65 320.35h1.9v1.9h-1.9zM301.85 321.95h1.9v1.9h-1.9zM303.45 321.95h1.9v1.9h-1.9zM309.85 323.55h1.9v1.9h-1.9zM309.85 325.15h1.9v1.9h-1.9zM314.65 325.15h1.9v1.9h-1.9z"/>
<path fill="rgb(33, 82, 239)" d="M308.25 256.35h1.9v1.9h-1.9zM306.65 257.95h1.9v1.9h-1.9zM308.25 259.55h1.9v1.9h-1.9zM293.85 261.15h1.9v1.9h-1.9zM295.45 261.15h1.9v1.9h-1.9zM297.05 261.15h1.9v1.9h-1.9zM292.25 262.75h1.9v1.9h-1.9zM298.65 262.75h1.9v1.9h-1.9zM293.85 264.35h1.9v1.9h-1.9zM282.65 265.95h1.9v1.9h-1.9zM284.25 265.95h1.9v1.9h-1.9zM289.05 265.95h1.9v1.9h-1.9zM290.65 265.95h1.9v1.9h-1.9zM293.85 265.95h1.9v1.9h-1.9zM295.45 265.95h1.9v1.9h-1.9zM277.85 267.55h1.9v1.9h-1.9zM279.45 267.55h1.9v1.9h-1.9zM292.25 267.55h1.9v1.9h-1.9zM293.85 267.55h1.9v1.9h-1.9zM298.65 267.55h1.9v1.9h-1.9zM300.25 267.55h1.9v1.9h-1.9zM274.65 269.15h1.9v1.9h-1.9zM276.25 269.15h1.9v1.9h-1.9zM290.65 269.15h1.9v1.9h-1.9zM293.85 270.75h1.9v1.9h-1.9zM297.05 270.75h1.9v1.9h-1.9zM273.05 272.35h1.9v1.9h-1.9zM297.05 272.35h1.9v1.9h-1.9zM305.05 273.95h1.9v1.9h-1.9zM297.05 275.55h1.9v1.9h-1.9zM303.45 275.55h1.9v1.9h-1.9zM300.25 277.15h1.9v1.9h-1.9zM269.85 278.75h1.9v1.9h-1.9zM298.65 278.75h1.9v1.9h-1.9zM269.85 280.35h1.9v1.9h-1.9zM297.05 280.35h1.9v1.9h-1.9zM300.25 280.35h1.9v1.9h-1.9zM301.85 281.95h1.9v1.9h-1.9zM321.05 281.95h1.9v1.9h-1.9zM298.65 283.55h1.9v1.9h-1.9zM301.85 283.55h1.9v1.9h-1.9zM301.85 285.15h1.9v1.9h-1.9zM295.45 286.75h1.9v1.9h-1.9zM268.25 288.35h1.9v1.9h-1.9zM295.45 288.35h1.9v1.9h-1.9zM297.05 288.35h1.9v1.9h-1.9zM268.25 289.95h1.9v1.9h-1.9zM297.05 289.95h1.9v1.9h-1.9zM298.65 289.95h1.9v1.9h-1.9zM268.25 291.55h1.9v1.9h-1.9zM297.05 291.55h1.9v1.9h-1.9zM295.45 293.15h1.9v1.9h-1.9zM268.25 294.75h1.9v1.9h-1.9zM298.65 294.75h1.9v1.9h-1.9zM297.05 296.35h1.9v1.9h-1.9zM298.65 296.35h1.9v1.9h-1.9zM298.65 297.95h1.9v1.9h-1.9zM298.65 299.55h1.9v1.9h-1.9zM295.45 301.15h1.9v1.9h-1.9zM301.85 301.15h1.9v1.9h-1.9zM269.85 302.75h1.9v1.9h-1.9zM293.85 302.75h1.9v1.9h-1.9zM298.65 302.75h1.9v1.9h-1.9zM271.45 305.95h1.9v1.9h-1.9zM297.05 305.95h1.9v1.9h-1.9zM293.85 307.55h1.9v1.9h-1.9zM301.85 307.55h1.9v1.9h-1.9zM273.05 309.15h1.9v1.9h-1.9zM292.25 309.15h1.9v1.9h-1.9zM297.05 309.15h1.9v1.9h-1.9zM298.65 309.15h1.9v1.9h-1.9zM300.25 309.15h1.9v1.9h-1.9zM293.85 310.75h1.9v1.9h-1.9zM274.65 312.35h1.9v1.9h-1.9zM295.45 312.35h1.9v1.9h-1.9zM277.85 313.95h1.9v1.9h-1.9zM279.45 313.95h1.9v1.9h-1.9zM293.85 313.95h1.9v1.9h-1.9zM297.05 313.95h1.9v1.9h-1.9zM281.05 315.55h1.9v1.9h-1.9zM282.65 315.55h1.9v1.9h-1.9zM293.85 315.55h1.9v1.9h-1.9zM292.25 317.15h1.9v1.9h-1.9zM309.85 317.15h1.9v1.9h-1.9zM292.25 318.75h1.9v1.9h-1.9zM293.85 320.35h1.9v1.9h-1.9zM309.85 320.35h1.9v1.9h-1.9zM295.45 321.95h1.9v1.9h-1.9zM298.65 321.95h1.9v1.9h-1.9zM300.25 321.95h1.9v1.9h-1.9zM306.65 325.15h1.9v1.9h-1.9zM308.25 325.15h1.9v1.9h-1.9zM311.45 325.15h1.9v1.9h-1.9z"/>
<path fill="rgb(36, 93, 240)" d="M305.05 257.95h1.9v1.9h-1.9zM290.65 262.75h1.9v1.9h-1.9zM292.25 264.35h1.9v1.9h-1.9zM301.85 264.35h1.9v1.9h-1.9zM292.25 265.95h1.9v1.9h-1.9zM281.05 267.55h1.9v1.9h-1.9zM295.45 267.55h1.9v1.9h-1.9zM277.85 269.15h1.9v1.9h-1.9zM289.05 269.15h1.9v1.9h-1.9zM293.85 269.15h1.9v1.9h-1.9zM274.65 270.75h1.9v1.9h-1.9zM292.25 270.75h1.9v1.9h-1.9zM273.05 273.95h1.9v1.9h-1.9zM271.45 275.55h1.9v1.9h-1.9zM295.45 275.55h1.9v1.9h-1.9zM295.45 277.15h1.9v1.9h-1.9zM297.05 277.15h1.9v1.9h-1.9zM297.05 278.75h1.9v1.9h-1.9zM295.45 280.35h1.9v1.9h-1.9zM301.85 280.35h1.9v1.9h-1.9zM297.05 283.55h1.9v1.9h-1.9zM297.05 285.15h1.9v1.9h-1.9zM297.05 286.75h1.9v1.9h-1.9zM298.65 288.35h1.9v1.9h-1.9zM295.45 291.55h1.9v1.9h-1.9zM297.05 293.15h1.9v1.9h-1.9zM298.65 293.15h1.9v1.9h-1.9zM295.45 296.35h1.9v1.9h-1.9zM300.25 297.95h1.9v1.9h-1.9zM269.85 299.55h1.9v1.9h-1.9zM297.05 299.55h1.9v1.9h-1.9zM269.85 301.15h1.9v1.9h-1.9zM298.65 301.15h1.9v1.9h-1.9zM295.45 302.75h1.9v1.9h-1.9zM293.85 304.35h1.9v1.9h-1.9zM293.85 305.95h1.9v1.9h-1.9zM295.45 307.55h1.9v1.9h-1.9zM297.05 307.55h1.9v1.9h-1.9zM274.65 310.75h1.9v1.9h-1.9zM290.65 310.75h1.9v1.9h-1.9zM292.25 310.75h1.9v1.9h-1.9zM298.65 310.75h1.9v1.9h-1.9zM276.25 312.35h1.9v1.9h-1.9zM277.85 312.35h1.9v1.9h-1.9zM281.05 313.95h1.9v1.9h-1.9zM282.65 313.95h1.9v1.9h-1.9zM292.25 320.35h1.9v1.9h-1.9z"/>
<path fill="rgb(40, 105, 242)" d="M292.25 261.15h1.9v1.9h-1.9zM287.45 264.35h1.9v1.9h-1.9zM282.65 267.55h1.9v1.9h-1.9zM287.45 267.55h1.9v1.9h-1.9zM279.45 269.15h1.9v1.9h-1.9zM292.25 269.15h1.9v1.9h-1.9zM290.65 270.75h1.9v1.9h-1.9zM295.45 270.75h1.9v1.9h-1.9zM292.25 272.35h1.9v1.9h-1.9zM292.25 273.95h1.9v1.9h-1.9zM293.85 273.95h1.9v1.9h-1.9zM293.85 275.55h1.9v1.9h-1.9zM271.45 277.15h1.9v1.9h-1.9zM271.45 278.75h1.9v1.9h-1.9zM293.85 278.75h1.9v1.9h-1.9zM293.85 280.35h1.9v1.9h-1.9zM269.85 281.95h1.9v1.9h-1.9zM295.45 281.95h1.9v1.9h-1.9zM269.85 283.55h1.9v1.9h-1.9zM293.85 283.55h1.9v1.9h-1.9zM269.85 285.15h1.9v1.9h-1.9zM295.45 285.15h1.9v1.9h-1.9zM293.85 286.75h1.9v1.9h-1.9zM293.85 289.95h1.9v1.9h-1.9zM295.45 289.95h1.9v1.9h-1.9zM297.05 294.75h1.9v1.9h-1.9zM269.85 296.35h1.9v1.9h-1.9zM293.85 296.35h1.9v1.9h-1.9zM269.85 297.95h1.9v1.9h-1.9zM295.45 299.55h1.9v1.9h-1.9zM271.45 304.35h1.9v1.9h-1.9zM295.45 304.35h1.9v1.9h-1.9zM273.05 307.55h1.9v1.9h-1.9zM289.05 309.15h1.9v1.9h-1.9zM293.85 309.15h1.9v1.9h-1.9zM276.25 310.75h1.9v1.9h-1.9zM279.45 312.35h1.9v1.9h-1.9zM293.85 312.35h1.9v1.9h-1.9zM289.05 313.95h1.9v1.9h-1.9zM284.25 315.55h1.9v1.9h-1.9zM289.05 315.55h1.9v1.9h-1.9zM292.25 315.55h1.9v1.9h-1.9zM287.45 317.15h1.9v1.9h-1.9zM289.05 317.15h1.9v1.9h-1.9zM290.65 318.75h1.9v1.9h-1.9zM295.45 318.75h1.9v1.9h-1.9z"/>
<path fill="rgb(43, 126, 243)" d="M289.05 264.35h1.9v1.9h-1.9zM289.05 267.55h1.9v1.9h-1.9zM290.65 267.55h1.9v1.9h-1.9zM281.05 269.15h1.9v1.9h-1.9zM276.25 270.75h1.9v1.9h-1.9zM277.85 270.75h1.9v1.9h-1.9zM274.65 272.35h1.9v1.9h-1.9zM290.65 272.35h1.9v1.9h-1.9zM292.25 275.55h1.9v1.9h-1.9zM292.25 277.15h1.9v1.9h-1.9zM293.85 277.15h1.9v1.9h-1.9zM295.45 278.75h1.9v1.9h-1.9zM292.25 281.95h1.9v1.9h-1.9zM293.85 281.95h1.9v1.9h-1.9zM295.45 283.55h1.9v1.9h-1.9zM269.85 286.75h1.9v1.9h-1.9zM269.85 288.35h1.9v1.9h-1.9zM269.85 289.95h1.9v1.9h-1.9zM269.85 291.55h1.9v1.9h-1.9zM293.85 291.55h1.9v1.9h-1.9zM293.85 293.15h1.9v1.9h-1.9zM269.85 294.75h1.9v1.9h-1.9zM295.45 294.75h1.9v1.9h-1.9zM295.45 297.95h1.9v1.9h-1.9zM292.25 299.55h1.9v1.9h-1.9zM271.45 302.75h1.9v1.9h-1.9zM292.25 304.35h1.9v1.9h-1.9zM273.05 305.95h1.9v1.9h-1.9zM292.25 305.95h1.9v1.9h-1.9zM274.65 309.15h1.9v1.9h-1.9zM290.65 309.15h1.9v1.9h-1.9zM292.25 312.35h1.9v1.9h-1.9zM290.65 313.95h1.9v1.9h-1.9zM292.25 313.95h1.9v1.9h-1.9zM287.45 315.55h1.9v1.9h-1.9zM290.65 315.55h1.9v1.9h-1.9zM290.65 317.15h1.9v1.9h-1.9z"/>
<path fill="rgb(46, 148, 244)" d="M287.45 265.95h1.9v1.9h-1.9zM285.85 267.55h1.9v1.9h-1.9zM289.05 270.75h1.9v1.9h-1.9zM276.25 272.35h1.9v1.9h-1.9zM274.65 273.95h1.9v1.9h-1.9zM290.65 273.95h1.9v1.9h-1.9zM273.05 275.55h1.9v1.9h-1.9zM273.05 277.15h1.9v1.9h-1.9zM292.25 278.75h1.9v1.9h-1.9zM271.45 280.35h1.9v1.9h-1.9zM292.25 280.35h1.9v1.9h-1.9zM271.45 281.95h1.9v1.9h-1.9zM292.25 288.35h1.9v1.9h-1.9zM293.85 288.35h1.9v1.9h-1.9zM269.85 293.15h1.9v1.9h-1.9zM292.25 293.15h1.9v1.9h-1.9zM293.85 294.75h1.9v1.9h-1.9zM292.25 297.95h1.9v1.9h-1.9zM293.85 299.55h1.9v1.9h-1.9zM293.85 301.15h1.9v1.9h-1.9zM292.25 302.75h1.9v1.9h-1.9zM273.05 304.35h1.9v1.9h-1.9zM274.65 307.55h1.9v1.9h-1.9zM290.65 307.55h1.9v1.9h-1.9zM287.45 309.15h1.9v1.9h-1.9zM277.85 310.75h1.9v1.9h-1.9zM289.05 310.75h1.9v1.9h-1.9zM281.05 312.35h1.9v1.9h-1.9zM287.45 312.35h1.9v1.9h-1.9zM289.05 312.35h1.9v1.9h-1.9zM285.85 315.55h1.9v1.9h-1.9z"/>
<path fill="rgb(49, 169, 245)" d="M287.45 269.15h1.9v1.9h-1.9zM279.45 270.75h1.9v1.9h-1.9zM287.45 270.75h1.9v1.9h-1.9zM279.45 272.35h1.9v1.9h-1.9zM287.45 272.35h1.9v1.9h-1.9zM289.05 272.35h1.9v1.9h-1.9zM289.05 275.55h1.9v1.9h-1.9zM290.65 275.55h1.9v1.9h-1.9zM290.65 278.75h1.9v1.9h-1.9zM292.25 285.15h1.9v1.9h-1.9zM292.25 289.95h1.9v1.9h-1.9zM293.85 297.95h1.9v1.9h-1.9zM271.45 299.55h1.9v1.9h-1.9zM271.45 301.15h1.9v1.9h-1.9zM292.25 301.15h1.9v1.9h-1.9zM290.65 302.75h1.9v1.9h-1.9zM290.65 304.35h1.9v1.9h-1.9zM290.65 305.95h1.9v1.9h-1.9zM292.25 307.55h1.9v1.9h-1.9zM276.25 309.15h1.9v1.9h-1.9zM279.45 310.75h1.9v1.9h-1.9zM287.45 310.75h1.9v1.9h-1.9zM287.45 313.95h1.9v1.9h-1.9z"/>
<path fill="rgb(52, 190, 246)" d="M277.85 272.35h1.9v1.9h-1.9zM285.85 272.35h1.9v1.9h-1.9zM276.25 273.95h1.9v1.9h-1.9zM289.05 273.95h1.9v1.9h-1.9zM274.65 275.55h1.9v1.9h-1.9zM290.65 277.15h1.9v1.9h-1.9zM273.05 278.75h1.9v1.9h-1.9zM271.45 283.55h1.9v1.9h-1.9zM292.25 283.55h1.9v1.9h-1.9zM293.85 285.15h1.9v1.9h-1.9zM292.25 294.75h1.9v1.9h-1.9zM271.45 296.35h1.9v1.9h-1.9zM271.45 297.95h1.9v1.9h-1.9zM273.05 302.75h1.9v1.9h-1.9zM289.05 304.35h1.9v1.9h-1.9zM274.65 305.95h1.9v1.9h-1.9zM276.25 307.55h1.9v1.9h-1.9zM289.05 307.55h1.9v1.9h-1.9zM277.85 309.15h1.9v1.9h-1.9zM285.85 312.35h1.9v1.9h-1.9zM284.25 313.95h1.9v1.9h-1.9z"/>
<path fill="rgb(56, 199, 234)" d="M285.85 265.95h1.9v1.9h-1.9zM284.25 267.55h1.9v1.9h-1.9zM285.85 269.15h1.9v1.9h-1.9zM281.05 270.75h1.9v1.9h-1.9zM290.65 281.95h1.9v1.9h-1.9zM271.45 285.15h1.9v1.9h-1.9zM292.25 291.55h1.9v1.9h-1.9zM271.45 293.15h1.9v1.9h-1.9zM271.45 294.75h1.9v1.9h-1.9zM292.25 296.35h1.9v1.9h-1.9zM290.65 297.95h1.9v1.9h-1.9zM290.65 299.55h1.9v1.9h-1.9zM289.05 301.15h1.9v1.9h-1.9zM290.65 301.15h1.9v1.9h-1.9zM287.45 305.95h1.9v1.9h-1.9zM281.05 310.75h1.9v1.9h-1.9zM284.25 310.75h1.9v1.9h-1.9zM285.85 313.95h1.9v1.9h-1.9z"/>
<path fill="rgb(60, 209, 223)" d="M282.65 270.75h1.9v1.9h-1.9zM285.85 270.75h1.9v1.9h-1.9zM284.25 272.35h1.9v1.9h-1.9zM287.45 273.95h1.9v1.9h-1.9zM287.45 275.55h1.9v1.9h-1.9zM274.65 277.15h1.9v1.9h-1.9zM287.45 277.15h1.9v1.9h-1.9zM289.05 277.15h1.9v1.9h-1.9zM273.05 280.35h1.9v1.9h-1.9zM289.05 280.35h1.9v1.9h-1.9zM290.65 280.35h1.9v1.9h-1.9zM273.05 281.95h1.9v1.9h-1.9zM271.45 286.75h1.9v1.9h-1.9zM290.65 286.75h1.9v1.9h-1.9zM292.25 286.75h1.9v1.9h-1.9zM271.45 288.35h1.9v1.9h-1.9zM271.45 289.95h1.9v1.9h-1.9zM290.65 289.95h1.9v1.9h-1.9zM271.45 291.55h1.9v1.9h-1.9zM290.65 293.15h1.9v1.9h-1.9zM290.65 296.35h1.9v1.9h-1.9zM273.05 301.15h1.9v1.9h-1.9zM289.05 302.75h1.9v1.9h-1.9zM274.65 304.35h1.9v1.9h-1.9zM289.05 305.95h1.9v1.9h-1.9zM285.85 309.15h1.9v1.9h-1.9zM285.85 310.75h1.9v1.9h-1.9zM282.65 312.35h1.9v1.9h-1.9z"/>
<path fill="rgb(63, 218, 211)" d="M282.65 269.15h1.9v1.9h-1.9zM284.25 269.15h1.9v1.9h-1.9zM284.25 270.75h1.9v1.9h-1.9zM277.85 273.95h1.9v1.9h-1.9zM285.85 273.95h1.9v1.9h-1.9zM285.85 275.55h1.9v1.9h-1.9zM289.05 278.75h1.9v1.9h-1.9zM289.05 281.95h1.9v1.9h-1.9zM290.65 283.55h1.9v1.9h-1.9zM290.65 285.15h1.9v1.9h-1.9zM290.65 288.35h1.9v1.9h-1.9zM290.65 291.55h1.9v1.9h-1.9zM290.65 294.75h1.9v1.9h-1.9zM273.05 299.55h1.9v1.9h-1.9zM289.05 299.55h1.9v1.9h-1.9zM287.45 304.35h1.9v1.9h-1.9zM276.25 305.95h1.9v1.9h-1.9zM277.85 307.55h1.9v1.9h-1.9zM284.25 307.55h1.9v1.9h-1.9zM285.85 307.55h1.9v1.9h-1.9zM287.45 307.55h1.9v1.9h-1.9zM279.45 309.15h1.9v1.9h-1.9zM284.25 309.15h1.9v1.9h-1.9zM282.65 310.75h1.9v1.9h-1.9zM284.25 312.35h1.9v1.9h-1.9z"/>
<path fill="rgb(67, 228, 199)" d="M284.25 273.95h1.9v1.9h-1.9zM276.25 275.55h1.9v1.9h-1.9zM274.65 278.75h1.9v1.9h-1.9zM287.45 278.75h1.9v1.9h-1.9zM273.05 283.55h1.9v1.9h-1.9zM289.05 283.55h1.9v1.9h-1.9zM289.05 296.35h1.9v1.9h-1.9zM289.05 297.95h1.9v1.9h-1.9zM287.45 301.15h1.9v1.9h-1.9zM274.65 302.75h1.9v1.9h-1.9zM287.45 302.75h1.9v1.9h-1.9zM285.85 305.95h1.9v1.9h-1.9z"/>
<path fill="rgb(71, 235, 184)" d="M281.05 272.35h1.9v1.9h-1.9zM282.65 272.35h1.9v1.9h-1.9zM276.25 277.15h1.9v1.9h-1.9zM285.85 277.15h1.9v1.9h-1.9zM287.45 280.35h1.9v1.9h-1.9zM289.05 285.15h1.9v1.9h-1.9zM289.05 286.75h1.9v1.9h-1.9zM289.05 289.95h1.9v1.9h-1.9zM289.05 294.75h1.9v1.9h-1.9zM273.05 296.35h1.9v1.9h-1.9zM273.05 297.95h1.9v1.9h-1.9zM285.85 304.35h1.9v1.9h-1.9zM277.85 305.95h1.9v1.9h-1.9zM284.25 305.95h1.9v1.9h-1.9zM281.05 309.15h1.9v1.9h-1.9zM282.65 309.15h1.9v1.9h-1.9z"/>
<path fill="rgb(78, 238, 156)" d="M282.65 273.95h1.9v1.9h-1.9zM284.25 275.55h1.9v1.9h-1.9zM284.25 277.15h1.9v1.9h-1.9zM285.85 278.75h1.9v1.9h-1.9zM274.65 280.35h1.9v1.9h-1.9zM287.45 281.95h1.9v1.9h-1.9zM273.05 285.15h1.9v1.9h-1.9zM289.05 288.35h1.9v1.9h-1.9zM289.05 291.55h1.9v1.9h-1.9zM289.05 293.15h1.9v1.9h-1.9zM285.85 302.75h1.9v1.9h-1.9zM276.25 304.35h1.9v1.9h-1.9zM282.65 307.55h1.9v1.9h-1.9z"/>
<path fill="rgb(84, 240, 128)" d="M281.05 273.95h1.9v1.9h-1.9zM277.85 275.55h1.9v1.9h-1.9zM287.45 283.55h1.9v1.9h-1.9zM273.05 286.75h1.9v1.9h-1.9zM273.05 294.75h1.9v1.9h-1.9zM287.45 296.35h1.9v1.9h-1.9zM287.45 297.95h1.9v1.9h-1.9zM287.45 299.55h1.9v1.9h-1.9zM274.65 301.15h1.9v1.9h-1.9zM284.25 304.35h1.9v1.9h-1.9zM282.65 305.95h1.9v1.9h-1.9zM281.05 307.55h1.9v1.9h-1.9z"/>
<path fill="rgb(90, 242, 100)" d="M282.65 275.55h1.9v1.9h-1.9zM276.25 278.75h1.9v1.9h-1.9zM284.25 278.75h1.9v1.9h-1.9zM285.85 280.35h1.9v1.9h-1.9zM287.45 285.15h1.9v1.9h-1.9zM287.45 286.75h1.9v1.9h-1.9zM273.05 288.35h1.9v1.9h-1.9zM273.05 289.95h1.9v1.9h-1.9zM287.45 289.95h1.9v1.9h-1.9zM273.05 291.55h1.9v1.9h-1.9zM273.05 293.15h1.9v1.9h-1.9zM287.45 294.75h1.9v1.9h-1.9zM285.85 301.15h1.9v1.9h-1.9zM276.25 302.75h1.9v1.9h-1.9zM284.25 302.75h1.9v1.9h-1.9z"/>
<path fill="rgb(93, 242, 96)" d="M279.45 273.95h1.9v1.9h-1.9zM281.05 275.55h1.9v1.9h-1.9zM274.65 281.95h1.9v1.9h-1.9zM285.85 281.95h1.9v1.9h-1.9zM285.85 283.55h1.9v1.9h-1.9zM287.45 288.35h1.9v1.9h-1.9zM287.45 291.55h1.9v1.9h-1.9zM287.45 293.15h1.9v1.9h-1.9zM274.65 299.55h1.9v1.9h-1.9zM282.65 304.35h1.9v1.9h-1.9zM279.45 305.95h1.9v1.9h-1.9zM281.05 305.95h1.9v1.9h-1.9zM279.45 307.55h1.9v1.9h-1.9z"/>
<path fill="rgb(97, 243, 92)" d="M282.65 277.15h1.9v1.9h-1.9zM282.65 278.75h1.9v1.9h-1.9zM284.25 280.35h1.9v1.9h-1.9zM274.65 283.55h1.9v1.9h-1.9zM285.85 285.15h1.9v1.9h-1.9zM285.85 297.95h1.9v1.9h-1.9zM285.85 299.55h1.9v1.9h-1.9zM284.25 301.15h1.9v1.9h-1.9zM282.65 302.75h1.9v1.9h-1.9zM281.05 304.35h1.9v1.9h-1.9z"/>
<path fill="rgb(100, 243, 88)" d="M279.45 275.55h1.9v1.9h-1.9zM281.05 277.15h1.9v1.9h-1.9zM281.05 278.75h1.9v1.9h-1.9zM276.25 280.35h1.9v1.9h-1.9zM285.85 286.75h1.9v1.9h-1.9zM285.85 294.75h1.9v1.9h-1.9zM285.85 296.35h1.9v1.9h-1.9zM274.65 297.95h1.9v1.9h-1.9zM279.45 304.35h1.9v1.9h-1.9z"/>
<path fill="rgb(104, 244, 83)" d="M277.85 277.15h1.9v1.9h-1.9zM279.45 277.15h1.9v1.9h-1.9zM282.65 280.35h1.9v1.9h-1.9zM284.25 281.95h1.9v1.9h-1.9zM284.25 283.55h1.9v1.9h-1.9zM285.85 288.35h1.9v1.9h-1.9zM285.85 289.95h1.9v1.9h-1.9zM285.85 291.55h1.9v1.9h-1.9zM285.85 293.15h1.9v1.9h-1.9zM284.25 297.95h1.9v1.9h-1.9zM284.25 299.55h1.9v1.9h-1.9zM282.65 301.15h1.9v1.9h-1.9z"/>
<path fill="rgb(107, 244, 79)" d="M281.05 280.35h1.9v1.9h-1.9zM282.65 281.95h1.9v1.9h-1.9zM274.65 285.15h1.9v1.9h-1.9zM284.25 285.15h1.9v1.9h-1.9zM274.65 286.75h1.9v1.9h-1.9zM274.65 294.75h1.9v1.9h-1.9zM274.65 296.35h1.9v1.9h-1.9zM282.65 299.55h1.9v1.9h-1.9zM281.05 302.75h1.9v1.9h-1.9zM277.85 304.35h1.9v1.9h-1.9z"/>
<path fill="rgb(111, 244, 75)" d="M277.85 278.75h1.9v1.9h-1.9zM279.45 278.75h1.9v1.9h-1.9zM284.25 294.75h1.9v1.9h-1.9zM284.25 296.35h1.9v1.9h-1.9zM279.45 301.15h1.9v1.9h-1.9zM281.05 301.15h1.9v1.9h-1.9zM277.85 302.75h1.9v1.9h-1.9zM279.45 302.75h1.9v1.9h-1.9z"/>
<path fill="rgb(114, 245, 71)" d="M277.85 280.35h1.9v1.9h-1.9zM282.65 283.55h1.9v1.9h-1.9zM284.25 286.75h1.9v1.9h-1.9zM284.25 291.55h1.9v1.9h-1.9zM284.25 293.15h1.9v1.9h-1.9zM282.65 297.95h1.9v1.9h-1.9zM281.05 299.55h1.9v1.9h-1.9zM276.25 301.15h1.9v1.9h-1.9zM277.85 301.15h1.9v1.9h-1.9z"/>
<path fill="rgb(145, 242, 65)" d="M279.45 280.35h1.9v1.9h-1.9zM281.05 281.95h1.9v1.9h-1.9zM282.65 285.15h1.9v1.9h-1.9zM282.65 286.75h1.9v1.9h-1.9zM284.25 288.35h1.9v1.9h-1.9zM284.25 289.95h1.9v1.9h-1.9zM282.65 296.35h1.9v1.9h-1.9zM276.25 299.55h1.9v1.9h-1.9z"/>
<path fill="rgb(182, 238, 59)" d="M276.25 281.95h1.9v1.9h-1.9zM277.85 281.95h1.9v1.9h-1.9zM279.45 281.95h1.9v1.9h-1.9zM276.25 283.55h1.9v1.9h-1.9zM281.05 283.55h1.9v1.9h-1.9zM282.65 288.35h1.9v1.9h-1.9zM282.65 294.75h1.9v1.9h-1.9zM276.25 297.95h1.9v1.9h-1.9zM281.05 297.95h1.9v1.9h-1.9zM277.85 299.55h1.9v1.9h-1.9zM279.45 299.55h1.9v1.9h-1.9z"/>
<path fill="rgb(213, 218, 54)" d="M279.45 283.55h1.9v1.9h-1.9zM281.05 285.15h1.9v1.9h-1.9zM274.65 288.35h1.9v1.9h-1.9zM274.65 289.95h1.9v1.9h-1.9zM282.65 289.95h1.9v1.9h-1.9zM274.65 291.55h1.9v1.9h-1.9zM274.65 293.15h1.9v1.9h-1.9zM282.65 293.15h1.9v1.9h-1.9zM281.05 296.35h1.9v1.9h-1.9zM277.85 297.95h1.9v1.9h-1.9zM279.45 297.95h1.9v1.9h-1.9z"/>
<path fill="rgb(233, 176, 52)" d="M277.85 283.55h1.9v1.9h-1.9zM276.25 285.15h1.9v1.9h-1.9zM277.85 285.15h1.9v1.9h-1.9zM281.05 286.75h1.9v1.9h-1.9zM282.65 291.55h1.9v1.9h-1.9zM279.45 296.35h1.9v1.9h-1.9z"/>
<path fill="rgb(244, 128, 48)" d="M279.45 285.15h1.9v1.9h-1.9zM276.25 286.75h1.9v1.9h-1.9zM276.25 294.75h1.9v1.9h-1.9zM276.25 296.35h1.9v1.9h-1.9z"/>
<path fill="rgb(240, 73, 42)" d="M277.85 286.75h1.9v1.9h-1.9zM279.45 286.75h1.9v1.9h-1.9zM281.05 288.35h1.9v1.9h-1.9zM276.25 289.95h1.9v1.9h-1.9zM276.25 291.55h1.9v1.9h-1.9zM276.25 293.15h1.9v1.9h-1.9zM277.85 294.75h1.9v1.9h-1.9zM281.05 294.75h1.9v1.9h-1.9zM277.85 296.35h1.9v1.9h-1.9z"/>
<path fill="rgb(236, 37, 38)" d="M276.25 288.35h1.9v1.9h-1.9zM281.05 293.15h1.9v1.9h-1.9zM279.45 294.75h1.9v1.9h-1.9z"/>
<path fill="rgb(231, 30, 37)" d="M281.05 289.95h1.9v1.9h-1.9z"/>
<path fill="rgb(226, 23, 36)" d="M277.85 288.35h1.9v1.9h-1.9zM279.45 288.35h1.9v1.9h-1.9zM281.05 291.55h1.9v1.9h-1.9zM277.85 293.15h1.9v1.9h-1.9z"/>
<path fill="rgb(221, 16, 35)" d="M279.45 293.15h1.9v1.9h-1.9z"/>
<path fill="rgb(197, 11, 34)" d="M277.85 289.95h1.9v1.9h-1.9zM279.45 289.95h1.9v1.9h-1.9zM277.85 291.55h1.9v1.9h-1.9z"/>
<path fill="rgb(169, 5, 32)" d="M279.45 291.55h1.9v1.9h-1.9z"/>
<path d="M299.5 290.6h2.4v2.4h-2.4zM317.5 290.6h2.4v2.4h-2.4z" fill="#0a18b0"/><path d="M293.5 290.8h2v2h-2zM336.8 290.8h2v2h-2z" fill="#5078f0"/>
<ellipse cx="311.2" cy="292" rx="49.8" ry="46.6" fill="none" stroke="#d8182a" stroke-width="1.4"/>
<ellipse cx="312" cy="291.8" rx="36.2" ry="34.4" fill="none" stroke="#fff" stroke-width="1.5"/>
<circle cx="311.6" cy="291.8" r="2.5" fill="#000"/>
<text x="343" y="233.7" font-size="14" stroke="#fff" stroke-width="0.3" font-weight="bold" fill="#fff" textLength="40.8" lengthAdjust="spacingAndGlyphs">1.8 eV</text>
<text x="212" y="212.2" font-size="10.5" stroke="#000" stroke-width="0.2" font-weight="bold" textLength="17.6" lengthAdjust="spacingAndGlyphs">(C)</text>
<text x="301.1" y="209.6" font-size="13.4" stroke="#1a30ec" stroke-width="0.7" fill="#1a30ec" textLength="8.5" lengthAdjust="spacingAndGlyphs">H</text>
<text x="309.8" y="212.5" font-size="10.2" stroke="#1a30ec" stroke-width="0.5" fill="#1a30ec" textLength="5.6" lengthAdjust="spacingAndGlyphs">3</text>
<text x="315.9" y="204.6" font-size="7.4" stroke="#1a30ec" stroke-width="0.45" fill="#1a30ec" textLength="4.8" lengthAdjust="spacingAndGlyphs">+</text>
<path d="M47.6 254.3h4M47.6 290.7h4M47.6 326.5h4M47.6 236.5h2M47.6 272.5h2M47.6 308.6h2M47.6 344.5h2M55.5 362.6v-3.5M89.2 362.6v-3.5M123.5 362.6v-3.5M157.5 362.6v-3.5M191.5 362.6v-3.5M72.3 362.6v-2M106.3 362.6v-2M140.5 362.6v-2M174.5 362.6v-2" stroke="#444" stroke-width="0.8"/>
<path d="M47.6 362.6H199.4" stroke="#8890e0" stroke-width="1"/>
<text x="44.7" y="256.9" font-size="7" stroke="#000" stroke-width="0.2" font-weight="bold" text-anchor="end" textLength="17.1" lengthAdjust="spacingAndGlyphs">2000</text>
<text x="44.7" y="293.3" font-size="7" stroke="#000" stroke-width="0.2" font-weight="bold" text-anchor="end" textLength="4.1" lengthAdjust="spacingAndGlyphs">0</text>
<text x="44.7" y="328.9" font-size="7" stroke="#000" stroke-width="0.2" font-weight="bold" text-anchor="end" textLength="19.6" lengthAdjust="spacingAndGlyphs">-2000</text>
<text x="79.6" y="371.1" font-size="7" stroke="#000" stroke-width="0.2" font-weight="bold" textLength="19.6" lengthAdjust="spacingAndGlyphs">-2000</text>
<text x="123.6" y="371.1" font-size="7" stroke="#000" stroke-width="0.2" font-weight="bold" text-anchor="middle" textLength="4.1" lengthAdjust="spacingAndGlyphs">0</text>
<text x="151" y="371.1" font-size="7" stroke="#000" stroke-width="0.2" font-weight="bold" textLength="13.3" lengthAdjust="spacingAndGlyphs">2000</text>
<text x="105.1" y="382" font-size="10.5" stroke="#000" stroke-width="0.2" font-weight="bold" textLength="5.6" lengthAdjust="spacingAndGlyphs">v</text>
<text x="110.8" y="383.8" font-size="6.5" stroke="#000" stroke-width="0.2" font-weight="bold" textLength="3.6" lengthAdjust="spacingAndGlyphs">x</text>
<text x="116.5" y="382" font-size="10.5" stroke="#000" stroke-width="0.2" font-weight="bold" textLength="25.3" lengthAdjust="spacingAndGlyphs">[m/s]</text>
<g transform="translate(26.2 308.5) rotate(-90)"><text x="0" y="0" font-size="10.5" font-weight="bold" textLength="5.6" lengthAdjust="spacingAndGlyphs">v</text><text x="5.7" y="1.8" font-size="6.5" font-weight="bold" textLength="2.6" lengthAdjust="spacingAndGlyphs">r</text><text x="10.6" y="0" font-size="10.5" font-weight="bold" textLength="25.3" lengthAdjust="spacingAndGlyphs">[m/s]</text></g>
<path d="M234.8 360.2h2M234.8 352.6h2M234.8 345h2M234.8 337.4h2M234.8 329.8h3.5M234.8 322.2h2M234.8 314.6h2M234.8 307h2M234.8 299.4h2M234.8 291.8h3.5M234.8 284.2h2M234.8 276.6h2M234.8 269h2M234.8 261.4h2M234.8 253.8h3.5M234.8 246.2h2M234.8 238.6h2M234.8 231h2M234.8 223.4h2M238.5 363.4v-2M246.6 363.4v-2M254.7 363.4v-2M262.8 363.4v-2M270.9 363.4v-3.5M279 363.4v-2M287.1 363.4v-2M295.2 363.4v-2M303.3 363.4v-2M311.4 363.4v-3.5M319.5 363.4v-2M327.6 363.4v-2M335.7 363.4v-2M343.8 363.4v-2M351.9 363.4v-3.5M360 363.4v-2M368.1 363.4v-2M376.2 363.4v-2M384.3 363.4v-2" stroke="#5a70f4" stroke-width="0.8"/>
<text x="232.6" y="256.7" font-size="7" stroke="#000" stroke-width="0.2" font-weight="bold" text-anchor="end" textLength="16.6" lengthAdjust="spacingAndGlyphs">1000</text>
<text x="232.6" y="294.5" font-size="7" stroke="#000" stroke-width="0.2" font-weight="bold" text-anchor="end" textLength="4.1" lengthAdjust="spacingAndGlyphs">0</text>
<text x="232.6" y="332.7" font-size="7" stroke="#000" stroke-width="0.2" font-weight="bold" text-anchor="end" textLength="19.6" lengthAdjust="spacingAndGlyphs">-1000</text>
<text x="270.6" y="371.8" font-size="7" stroke="#000" stroke-width="0.2" font-weight="bold" text-anchor="middle" textLength="19.6" lengthAdjust="spacingAndGlyphs">-1000</text>
<text x="311.4" y="371.8" font-size="7" stroke="#000" stroke-width="0.2" font-weight="bold" text-anchor="middle" textLength="4.1" lengthAdjust="spacingAndGlyphs">0</text>
<text x="351.6" y="371.8" font-size="7" stroke="#000" stroke-width="0.2" font-weight="bold" text-anchor="middle" textLength="16.6" lengthAdjust="spacingAndGlyphs">1000</text>
<text x="293.6" y="383.2" font-size="10.5" stroke="#000" stroke-width="0.2" font-weight="bold" textLength="5.6" lengthAdjust="spacingAndGlyphs">v</text>
<text x="299.3" y="385" font-size="6.5" stroke="#000" stroke-width="0.2" font-weight="bold" textLength="3.6" lengthAdjust="spacingAndGlyphs">x</text>
<text x="304.8" y="383.2" font-size="10.5" stroke="#000" stroke-width="0.2" font-weight="bold" textLength="25" lengthAdjust="spacingAndGlyphs">[m/s]</text>
<rect x="47.3" y="391.5" width="150.7" height="143" fill="none" stroke="#555" stroke-width="0.9"/>
<path d="M48.86 522.19V528" stroke="#505050" stroke-width="0.65"/>
<rect x="48.11" y="523.64" width="1.5" height="2.9" fill="#a8a8a8" stroke="#555" stroke-width="0.35"/>
<path d="M51.37 524.26V529.49" stroke="#505050" stroke-width="0.65"/>
<rect x="50.62" y="525.57" width="1.5" height="2.61" fill="#a8a8a8" stroke="#555" stroke-width="0.35"/>
<path d="M53.88 524.03V529.33" stroke="#505050" stroke-width="0.65"/>
<rect x="53.13" y="525.36" width="1.5" height="2.65" fill="#a8a8a8" stroke="#555" stroke-width="0.35"/>
<path d="M56.39 527.76V531.86" stroke="#505050" stroke-width="0.65"/>
<rect x="55.64" y="528.79" width="1.5" height="2.05" fill="#a8a8a8" stroke="#555" stroke-width="0.35"/>
<path d="M58.89 521.78V527.7" stroke="#505050" stroke-width="0.65"/>
<rect x="58.14" y="523.26" width="1.5" height="2.96" fill="#a8a8a8" stroke="#555" stroke-width="0.35"/>
<path d="M61.4 519.88V526.28" stroke="#505050" stroke-width="0.65"/>
<rect x="60.65" y="521.48" width="1.5" height="3.2" fill="#a8a8a8" stroke="#555" stroke-width="0.35"/>
<path d="M63.91 516.6V523.76" stroke="#505050" stroke-width="0.65"/>
<rect x="63.16" y="518.39" width="1.5" height="3.58" fill="#a8a8a8" stroke="#555" stroke-width="0.35"/>
<path d="M66.42 515.77V523.11" stroke="#505050" stroke-width="0.65"/>
<rect x="65.67" y="517.6" width="1.5" height="3.67" fill="#a8a8a8" stroke="#555" stroke-width="0.35"/>
<path d="M68.93 510.58V518.99" stroke="#505050" stroke-width="0.65"/>
<rect x="68.18" y="512.69" width="1.5" height="4.2" fill="#a8a8a8" stroke="#555" stroke-width="0.35"/>
<path d="M71.44 508.18V517.04" stroke="#505050" stroke-width="0.65"/>
<rect x="70.69" y="510.39" width="1.5" height="4.43" fill="#a8a8a8" stroke="#555" stroke-width="0.35"/>
<path d="M73.95 507.12V516.18" stroke="#505050" stroke-width="0.65"/>
<rect x="73.2" y="509.39" width="1.5" height="4.53" fill="#a8a8a8" stroke="#555" stroke-width="0.35"/>
<path d="M76.46 492.07V503.54" stroke="#505050" stroke-width="0.65"/>
<rect x="75.71" y="494.94" width="1.5" height="5.74" fill="#a8a8a8" stroke="#555" stroke-width="0.35"/>
<path d="M78.97 486.42V498.68" stroke="#505050" stroke-width="0.65"/>
<rect x="78.22" y="489.48" width="1.5" height="6.13" fill="#a8a8a8" stroke="#555" stroke-width="0.35"/>
<path d="M81.48 475.8V489.44" stroke="#505050" stroke-width="0.65"/>
<rect x="80.73" y="479.21" width="1.5" height="6.82" fill="#a8a8a8" stroke="#555" stroke-width="0.35"/>
<path d="M83.99 478.08V491.43" stroke="#505050" stroke-width="0.65"/>
<rect x="83.24" y="481.42" width="1.5" height="6.68" fill="#a8a8a8" stroke="#555" stroke-width="0.35"/>
<path d="M86.5 468.16V482.71" stroke="#505050" stroke-width="0.65"/>
<rect x="85.75" y="471.8" width="1.5" height="7.28" fill="#a8a8a8" stroke="#555" stroke-width="0.35"/>
<path d="M89 462.82V477.98" stroke="#505050" stroke-width="0.65"/>
<rect x="88.25" y="466.61" width="1.5" height="7.58" fill="#a8a8a8" stroke="#555" stroke-width="0.35"/>
<path d="M91.51 452.65V468.91" stroke="#505050" stroke-width="0.65"/>
<rect x="90.76" y="456.72" width="1.5" height="8.13" fill="#a8a8a8" stroke="#555" stroke-width="0.35"/>
<path d="M94.02 446.35V463.25" stroke="#505050" stroke-width="0.65"/>
<rect x="93.27" y="450.57" width="1.5" height="8.45" fill="#a8a8a8" stroke="#555" stroke-width="0.35"/>
<path d="M96.53 435.83V453.77" stroke="#505050" stroke-width="0.65"/>
<rect x="95.78" y="440.32" width="1.5" height="8.97" fill="#a8a8a8" stroke="#555" stroke-width="0.35"/>
<path d="M99.04 422.41V441.59" stroke="#505050" stroke-width="0.65"/>
<rect x="98.29" y="427.21" width="1.5" height="9.59" fill="#a8a8a8" stroke="#555" stroke-width="0.35"/>
<path d="M101.55 428.38V447.02" stroke="#505050" stroke-width="0.65"/>
<rect x="100.8" y="433.04" width="1.5" height="9.32" fill="#a8a8a8" stroke="#555" stroke-width="0.35"/>
<path d="M104.06 423.88V442.92" stroke="#505050" stroke-width="0.65"/>
<rect x="103.31" y="428.64" width="1.5" height="9.52" fill="#a8a8a8" stroke="#555" stroke-width="0.35"/>
<path d="M106.57 426.92V445.68" stroke="#505050" stroke-width="0.65"/>
<rect x="105.82" y="431.61" width="1.5" height="9.38" fill="#a8a8a8" stroke="#555" stroke-width="0.35"/>
<path d="M109.08 406.11V426.69" stroke="#505050" stroke-width="0.65"/>
<rect x="108.33" y="411.26" width="1.5" height="10.29" fill="#a8a8a8" stroke="#555" stroke-width="0.35"/>
<path d="M111.59 409.03V429.37" stroke="#505050" stroke-width="0.65"/>
<rect x="110.84" y="414.12" width="1.5" height="10.17" fill="#a8a8a8" stroke="#555" stroke-width="0.35"/>
<path d="M114.1 400.17V421.23" stroke="#505050" stroke-width="0.65"/>
<rect x="113.35" y="405.43" width="1.5" height="10.53" fill="#a8a8a8" stroke="#555" stroke-width="0.35"/>
<path d="M116.61 423.88V442.92" stroke="#505050" stroke-width="0.65"/>
<rect x="115.86" y="428.64" width="1.5" height="9.52" fill="#a8a8a8" stroke="#555" stroke-width="0.35"/>
<path d="M119.11 418.75V438.25" stroke="#505050" stroke-width="0.65"/>
<rect x="118.36" y="423.63" width="1.5" height="9.75" fill="#a8a8a8" stroke="#555" stroke-width="0.35"/>
<path d="M121.62 420.32V439.68" stroke="#505050" stroke-width="0.65"/>
<rect x="120.87" y="425.16" width="1.5" height="9.68" fill="#a8a8a8" stroke="#555" stroke-width="0.35"/>
<path d="M124.13 437.09V454.91" stroke="#505050" stroke-width="0.65"/>
<rect x="123.38" y="441.55" width="1.5" height="8.91" fill="#a8a8a8" stroke="#555" stroke-width="0.35"/>
<path d="M126.64 432.16V450.44" stroke="#505050" stroke-width="0.65"/>
<rect x="125.89" y="436.73" width="1.5" height="9.14" fill="#a8a8a8" stroke="#555" stroke-width="0.35"/>
<path d="M129.15 444.14V461.26" stroke="#505050" stroke-width="0.65"/>
<rect x="128.4" y="448.42" width="1.5" height="8.56" fill="#a8a8a8" stroke="#555" stroke-width="0.35"/>
<path d="M131.66 445.51V462.49" stroke="#505050" stroke-width="0.65"/>
<rect x="130.91" y="449.75" width="1.5" height="8.49" fill="#a8a8a8" stroke="#555" stroke-width="0.35"/>
<path d="M134.17 466.64V481.36" stroke="#505050" stroke-width="0.65"/>
<rect x="133.42" y="470.32" width="1.5" height="7.36" fill="#a8a8a8" stroke="#555" stroke-width="0.35"/>
<path d="M136.68 482.67V495.44" stroke="#505050" stroke-width="0.65"/>
<rect x="135.93" y="485.86" width="1.5" height="6.38" fill="#a8a8a8" stroke="#555" stroke-width="0.35"/>
<path d="M139.19 483.2V495.9" stroke="#505050" stroke-width="0.65"/>
<rect x="138.44" y="486.37" width="1.5" height="6.35" fill="#a8a8a8" stroke="#555" stroke-width="0.35"/>
<path d="M141.7 493.58V504.83" stroke="#505050" stroke-width="0.65"/>
<rect x="140.95" y="496.4" width="1.5" height="5.62" fill="#a8a8a8" stroke="#555" stroke-width="0.35"/>
<path d="M144.21 491.24V502.83" stroke="#505050" stroke-width="0.65"/>
<rect x="143.46" y="494.13" width="1.5" height="5.8" fill="#a8a8a8" stroke="#555" stroke-width="0.35"/>
<path d="M146.71 503.02V512.78" stroke="#505050" stroke-width="0.65"/>
<rect x="145.96" y="505.46" width="1.5" height="4.88" fill="#a8a8a8" stroke="#555" stroke-width="0.35"/>
<path d="M149.22 513.63V521.43" stroke="#505050" stroke-width="0.65"/>
<rect x="148.47" y="515.58" width="1.5" height="3.9" fill="#a8a8a8" stroke="#555" stroke-width="0.35"/>
<path d="M151.73 508.61V517.39" stroke="#505050" stroke-width="0.65"/>
<rect x="150.98" y="510.81" width="1.5" height="4.39" fill="#a8a8a8" stroke="#555" stroke-width="0.35"/>
<path d="M154.24 515.32V522.76" stroke="#505050" stroke-width="0.65"/>
<rect x="153.49" y="517.18" width="1.5" height="3.72" fill="#a8a8a8" stroke="#555" stroke-width="0.35"/>
<path d="M156.75 522.26V528.05" stroke="#505050" stroke-width="0.65"/>
<rect x="156" y="523.71" width="1.5" height="2.89" fill="#a8a8a8" stroke="#555" stroke-width="0.35"/>
<path d="M159.26 520.62V526.83" stroke="#505050" stroke-width="0.65"/>
<rect x="158.51" y="522.17" width="1.5" height="3.11" fill="#a8a8a8" stroke="#555" stroke-width="0.35"/>
<path d="M161.77 521.84V527.74" stroke="#505050" stroke-width="0.65"/>
<rect x="161.02" y="523.31" width="1.5" height="2.95" fill="#a8a8a8" stroke="#555" stroke-width="0.35"/>
<path d="M164.28 523.85V529.2" stroke="#505050" stroke-width="0.65"/>
<rect x="163.53" y="525.19" width="1.5" height="2.67" fill="#a8a8a8" stroke="#555" stroke-width="0.35"/>
<path d="M166.79 522.78V528.43" stroke="#505050" stroke-width="0.65"/>
<rect x="166.04" y="524.2" width="1.5" height="2.82" fill="#a8a8a8" stroke="#555" stroke-width="0.35"/>
<path d="M169.3 529.92V533.17" stroke="#505050" stroke-width="0.65"/>
<rect x="168.55" y="530.73" width="1.5" height="1.63" fill="#a8a8a8" stroke="#555" stroke-width="0.35"/>
<path d="M171.81 526.46V531.01" stroke="#505050" stroke-width="0.65"/>
<rect x="171.06" y="527.59" width="1.5" height="2.27" fill="#a8a8a8" stroke="#555" stroke-width="0.35"/>
<path d="M174.32 525.41V530.29" stroke="#505050" stroke-width="0.65"/>
<rect x="173.57" y="526.63" width="1.5" height="2.44" fill="#a8a8a8" stroke="#555" stroke-width="0.35"/>
<path d="M176.82 527.35V531.6" stroke="#505050" stroke-width="0.65"/>
<rect x="176.07" y="528.41" width="1.5" height="2.12" fill="#a8a8a8" stroke="#555" stroke-width="0.35"/>
<path d="M179.33 528.34V532.23" stroke="#505050" stroke-width="0.65"/>
<rect x="178.58" y="529.31" width="1.5" height="1.94" fill="#a8a8a8" stroke="#555" stroke-width="0.35"/>
<path d="M181.84 529.49V532.92" stroke="#505050" stroke-width="0.65"/>
<rect x="181.09" y="530.35" width="1.5" height="1.72" fill="#a8a8a8" stroke="#555" stroke-width="0.35"/>
<path d="M184.35 529.95V533.19" stroke="#505050" stroke-width="0.65"/>
<rect x="183.6" y="530.76" width="1.5" height="1.62" fill="#a8a8a8" stroke="#555" stroke-width="0.35"/>
<path d="M186.86 533.49V534.5" stroke="#505050" stroke-width="0.65"/>
<rect x="186.11" y="533.86" width="1.5" height="0.8" fill="#a8a8a8" stroke="#555" stroke-width="0.35"/>
<path d="M189.37 531.77V534.13" stroke="#505050" stroke-width="0.65"/>
<rect x="188.62" y="532.36" width="1.5" height="1.18" fill="#a8a8a8" stroke="#555" stroke-width="0.35"/>
<path d="M191.88 534.2V534.5" stroke="#505050" stroke-width="0.65"/>
<rect x="191.13" y="534.58" width="1.5" height="0.8" fill="#a8a8a8" stroke="#555" stroke-width="0.35"/>
<path d="M194.39 533.43V534.5" stroke="#505050" stroke-width="0.65"/>
<rect x="193.64" y="533.8" width="1.5" height="0.8" fill="#a8a8a8" stroke="#555" stroke-width="0.35"/>
<path d="M196.9 534.26V534.5" stroke="#505050" stroke-width="0.65"/>
<rect x="196.15" y="534.63" width="1.5" height="0.8" fill="#a8a8a8" stroke="#555" stroke-width="0.35"/>
<path d="M47.31 534.13 L47.89 534.13 L48.47 534.13 L49.06 534.13 L49.64 534.13 L50.22 534.13 L50.8 534.13 L51.38 534.13 L51.96 534.13 L52.55 534.13 L53.13 534.13 L53.71 534.13 L54.29 534.13 L54.87 534.13 L55.46 534.13 L56.04 534.13 L56.62 534.13 L57.2 534.13 L57.78 534.13 L58.36 534.13 L58.95 534.13 L59.53 534.13 L60.11 534.13 L60.69 534.13 L61.27 534.13 L61.86 534.13 L62.44 534.13 L63.02 534.13 L63.6 534.13 L64.18 534.13 L64.76 534.13 L65.35 534.13 L65.93 534.13 L66.51 534.13 L67.09 534.13 L67.67 534.13 L68.26 534.13 L68.84 534.13 L69.42 534.13 L70 534.13 L70.58 534.13 L71.16 534.13 L71.75 534.13 L72.33 534.13 L72.91 534.13 L73.49 534.13 L74.07 534.13 L74.66 534.13 L75.24 534.13 L75.82 534.13 L76.4 534.13 L76.98 534.13 L77.56 534.13 L78.15 534.13 L78.73 534.13 L79.31 534.13 L79.89 534.13 L80.47 534.13 L81.06 534.13 L81.64 534.13 L82.22 534.13 L82.8 534.13 L83.38 534.13 L83.96 534.13 L84.55 534.13 L85.13 534.13 L85.71 534.13 L86.29 534.13 L86.87 534.13 L87.46 534.13 L88.04 534.13 L88.62 534.13 L89.2 534.13 L89.78 534.13 L90.36 534.13 L90.95 534.13 L91.53 534.13 L92.11 534.13 L92.69 534.13 L93.27 534.13 L93.86 534.13 L94.44 534.13 L95.02 534.13 L95.6 534.13 L96.18 534.13 L96.76 534.13 L97.35 534.13 L97.93 534.13 L98.51 534.13 L99.09 534.13 L99.67 534.13 L100.26 534.13 L100.84 534.13 L101.42 534.13 L102 534.13 L102.58 534.13 L103.16 534.13 L103.75 534.13 L104.33 534.12 L104.91 534.12 L105.49 534.12 L106.07 534.12 L106.66 534.12 L107.24 534.12 L107.82 534.12 L108.4 534.12 L108.98 534.11 L109.56 534.11 L110.15 534.11 L110.73 534.11 L111.31 534.1 L111.89 534.1 L112.47 534.1 L113.06 534.09 L113.64 534.09 L114.22 534.08 L114.8 534.07 L115.38 534.06 L115.96 534.06 L116.55 534.05 L117.13 534.04 L117.71 534.02 L118.29 534.01 L118.87 534 L119.46 533.98 L120.04 533.97 L120.62 533.95 L121.2 533.93 L121.78 533.9 L122.36 533.88 L122.95 533.85 L123.53 533.82 L124.11 533.79 L124.69 533.76 L125.27 533.72 L125.86 533.68 L126.44 533.64 L127.02 533.59 L127.6 533.54 L128.18 533.49 L128.76 533.43 L129.35 533.37 L129.93 533.31 L130.51 533.24 L131.09 533.16 L131.67 533.09 L132.26 533 L132.84 532.92 L133.42 532.82 L134 532.73 L134.58 532.63 L135.16 532.52 L135.75 532.41 L136.33 532.29 L136.91 532.17 L137.49 532.04 L138.07 531.91 L138.66 531.77 L139.24 531.63 L139.82 531.49 L140.4 531.34 L140.98 531.19 L141.56 531.03 L142.15 530.87 L142.73 530.71 L143.31 530.54 L143.89 530.37 L144.47 530.2 L145.05 530.03 L145.64 529.86 L146.22 529.69 L146.8 529.52 L147.38 529.34 L147.96 529.17 L148.55 529 L149.13 528.84 L149.71 528.67 L150.29 528.51 L150.87 528.35 L151.45 528.2 L152.04 528.05 L152.62 527.91 L153.2 527.78 L153.78 527.65 L154.36 527.53 L154.95 527.41 L155.53 527.31 L156.11 527.21 L156.69 527.12 L157.27 527.04 L157.85 526.97 L158.44 526.91 L159.02 526.86 L159.6 526.83 L160.18 526.8 L160.76 526.78 L161.35 526.78 L161.93 526.78 L162.51 526.82 L163.09 526.87 L163.67 526.94 L164.25 527.04 L164.84 527.16 L165.42 527.29 L166 527.44 L166.58 527.61 L167.16 527.8 L167.75 528 L168.33 528.21 L168.91 528.43 L169.49 528.66 L170.07 528.9 L170.65 529.15 L171.24 529.4 L171.82 529.65 L172.4 529.9 L172.98 530.15 L173.56 530.4 L174.15 530.65 L174.73 530.89 L175.31 531.13 L175.89 531.36 L176.47 531.58 L177.05 531.8 L177.64 532.01 L178.22 532.2 L178.8 532.39 L179.38 532.57 L179.96 532.74 L180.55 532.9 L181.13 533.05 L181.71 533.18 L182.29 533.31 L182.87 533.43 L183.45 533.54 L184.04 533.64 L184.62 533.74 L185.2 533.82 L185.78 533.9 L186.36 533.97 L186.95 534.03 L187.53 534.09 L188.11 534.14 L188.69 534.18 L189.27 534.22 L189.85 534.26 L190.44 534.29 L191.02 534.32 L191.6 534.35 L192.18 534.37 L192.76 534.39 L193.35 534.4 L193.93 534.42 L194.51 534.43 L195.09 534.44 L195.67 534.45 L196.25 534.46 L196.84 534.46 L197.42 534.47 L198 534.48" fill="none" stroke="#3b4fe6" stroke-width="1.6"/>
<path d="M47.31 528.92 L47.89 528.82 L48.47 528.7 L49.06 528.57 L49.64 528.43 L50.22 528.27 L50.8 528.11 L51.38 527.94 L51.96 527.76 L52.55 527.57 L53.13 527.38 L53.71 527.16 L54.29 526.92 L54.87 526.66 L55.46 526.37 L56.04 526.07 L56.62 525.74 L57.2 525.39 L57.78 525.03 L58.36 524.64 L58.95 524.24 L59.53 523.82 L60.11 523.39 L60.69 522.93 L61.27 522.46 L61.86 521.98 L62.44 521.48 L63.02 520.97 L63.6 520.44 L64.18 519.9 L64.76 519.35 L65.35 518.79 L65.93 518.21 L66.51 517.63 L67.09 517.03 L67.67 516.4 L68.26 515.72 L68.84 514.98 L69.42 514.19 L70 513.34 L70.58 512.46 L71.16 511.53 L71.75 510.57 L72.33 509.57 L72.91 508.55 L73.49 507.49 L74.07 506.41 L74.66 505.31 L75.24 504.2 L75.82 503.07 L76.4 501.94 L76.98 500.79 L77.56 499.65 L78.15 498.5 L78.73 497.32 L79.31 496.11 L79.89 494.85 L80.47 493.56 L81.06 492.25 L81.64 490.9 L82.22 489.53 L82.8 488.13 L83.38 486.72 L83.96 485.28 L84.55 483.84 L85.13 482.38 L85.71 480.91 L86.29 479.43 L86.87 477.95 L87.46 476.46 L88.04 474.93 L88.62 473.35 L89.2 471.73 L89.78 470.09 L90.36 468.42 L90.95 466.76 L91.53 465.11 L92.11 463.47 L92.69 461.88 L93.27 460.33 L93.86 458.83 L94.44 457.39 L95.02 455.97 L95.6 454.58 L96.18 453.21 L96.76 451.86 L97.35 450.54 L97.93 449.23 L98.51 447.94 L99.09 446.66 L99.67 445.41 L100.26 444.16 L100.84 442.9 L101.42 441.64 L102 440.37 L102.58 439.12 L103.16 437.89 L103.75 436.69 L104.33 435.55 L104.91 434.46 L105.49 433.45 L106.07 432.52 L106.66 431.65 L107.24 430.75 L107.82 429.85 L108.4 428.95 L108.98 428.08 L109.56 427.25 L110.15 426.48 L110.73 425.78 L111.31 425.18 L111.89 424.68 L112.47 424.32 L113.06 424.1 L113.64 424.01 L114.22 423.94 L114.8 423.89 L115.38 423.85 L115.96 423.83 L116.55 423.95 L117.13 424.25 L117.71 424.72 L118.29 425.3 L118.87 425.96 L119.46 426.67 L120.04 427.38 L120.62 428.06 L121.2 428.75 L121.78 429.48 L122.36 430.28 L122.95 431.13 L123.53 432.04 L124.11 433.03 L124.69 434.09 L125.27 435.24 L125.86 436.49 L126.44 437.95 L127.02 439.63 L127.6 441.49 L128.18 443.5 L128.76 445.62 L129.35 447.82 L129.93 450.07 L130.51 452.34 L131.09 454.58 L131.67 456.78 L132.26 458.9 L132.84 461.03 L133.42 463.19 L134 465.38 L134.58 467.58 L135.16 469.79 L135.75 471.99 L136.33 474.21 L136.91 476.44 L137.49 478.68 L138.07 480.92 L138.66 483.15 L139.24 485.35 L139.82 487.6 L140.4 489.89 L140.98 492.18 L141.56 494.4 L142.15 496.47 L142.73 498.35 L143.31 500.03 L143.89 501.6 L144.47 503.07 L145.05 504.45 L145.64 505.75 L146.22 506.97 L146.8 508.13 L147.38 509.22 L147.96 510.26 L148.55 511.24 L149.13 512.16 L149.71 513.02 L150.29 513.83 L150.87 514.62 L151.45 515.38 L152.04 516.11 L152.62 516.81 L153.2 517.47 L153.78 518.1 L154.36 518.68 L154.95 519.21 L155.53 519.74 L156.11 520.26 L156.69 520.78 L157.27 521.28 L157.85 521.76 L158.44 522.21 L159.02 522.61 L159.6 522.97 L160.18 523.27 L160.76 523.52 L161.35 523.75 L161.93 524 L162.51 524.25 L163.09 524.51 L163.67 524.78 L164.25 525.06 L164.84 525.34 L165.42 525.62 L166 525.91 L166.58 526.19 L167.16 526.47 L167.75 526.75 L168.33 527.03 L168.91 527.32 L169.49 527.62 L170.07 527.92 L170.65 528.23 L171.24 528.54 L171.82 528.86 L172.4 529.17 L172.98 529.48 L173.56 529.78 L174.15 530.08 L174.73 530.37 L175.31 530.65 L175.89 530.92 L176.47 531.19 L177.05 531.44 L177.64 531.68 L178.22 531.9 L178.8 532.12 L179.38 532.32 L179.96 532.5 L180.55 532.68 L181.13 532.85 L181.71 533 L182.29 533.15 L182.87 533.28 L183.45 533.41 L184.04 533.52 L184.62 533.63 L185.2 533.72 L185.78 533.81 L186.36 533.89 L186.95 533.96 L187.53 534.02 L188.11 534.08 L188.69 534.13 L189.27 534.18 L189.85 534.22 L190.44 534.26 L191.02 534.29 L191.6 534.32 L192.18 534.35 L192.76 534.37 L193.35 534.39 L193.93 534.4 L194.51 534.42 L195.09 534.43 L195.67 534.44 L196.25 534.45 L196.84 534.46 L197.42 534.47 L198 534.47" fill="none" stroke="#000" stroke-width="2.0"/>
<path d="M47.31 529.33 L47.89 529.23 L48.47 529.11 L49.06 528.98 L49.64 528.84 L50.22 528.68 L50.8 528.52 L51.38 528.35 L51.96 528.17 L52.55 527.98 L53.13 527.79 L53.71 527.57 L54.29 527.33 L54.87 527.07 L55.46 526.78 L56.04 526.48 L56.62 526.15 L57.2 525.8 L57.78 525.44 L58.36 525.06 L58.95 524.65 L59.53 524.23 L60.11 523.8 L60.69 523.34 L61.27 522.88 L61.86 522.39 L62.44 521.89 L63.02 521.38 L63.6 520.85 L64.18 520.31 L64.76 519.76 L65.35 519.2 L65.93 518.62 L66.51 518.04 L67.09 517.44 L67.67 516.81 L68.26 516.13 L68.84 515.39 L69.42 514.6 L70 513.76 L70.58 512.87 L71.16 511.95 L71.75 510.98 L72.33 509.98 L72.91 508.96 L73.49 507.9 L74.07 506.82 L74.66 505.72 L75.24 504.61 L75.82 503.48 L76.4 502.35 L76.98 501.2 L77.56 500.06 L78.15 498.91 L78.73 497.73 L79.31 496.52 L79.89 495.26 L80.47 493.98 L81.06 492.66 L81.64 491.31 L82.22 489.94 L82.8 488.54 L83.38 487.13 L83.96 485.69 L84.55 484.25 L85.13 482.79 L85.71 481.32 L86.29 479.84 L86.87 478.36 L87.46 476.87 L88.04 475.34 L88.62 473.76 L89.2 472.14 L89.78 470.5 L90.36 468.83 L90.95 467.17 L91.53 465.52 L92.11 463.88 L92.69 462.29 L93.27 460.74 L93.86 459.24 L94.44 457.8 L95.02 456.38 L95.6 454.99 L96.18 453.62 L96.76 452.27 L97.35 450.95 L97.93 449.64 L98.51 448.35 L99.09 447.07 L99.67 445.82 L100.26 444.57 L100.84 443.31 L101.42 442.05 L102 440.78 L102.58 439.53 L103.16 438.3 L103.75 437.11 L104.33 435.96 L104.91 434.88 L105.49 433.86 L106.07 432.94 L106.66 432.06 L107.24 431.17 L107.82 430.27 L108.4 429.37 L108.98 428.5 L109.56 427.67 L110.15 426.9 L110.73 426.21 L111.31 425.61 L111.89 425.12 L112.47 424.76 L113.06 424.55 L113.64 424.47 L114.22 424.41 L114.8 424.36 L115.38 424.33 L115.96 424.32 L116.55 424.44 L117.13 424.76 L117.71 425.24 L118.29 425.84 L118.87 426.52 L119.46 427.24 L120.04 427.97 L120.62 428.67 L121.2 429.38 L121.78 430.14 L122.36 430.96 L122.95 431.84 L123.53 432.79 L124.11 433.81 L124.69 434.91 L125.27 436.09 L125.86 437.38 L126.44 438.9 L127.02 440.63 L127.6 442.54 L128.18 444.61 L128.76 446.79 L129.35 449.06 L129.93 451.38 L130.51 453.72 L131.09 456.05 L131.67 458.34 L132.26 460.55 L132.84 462.77 L133.42 465.03 L134 467.33 L134.58 469.64 L135.16 471.97 L135.75 474.3 L136.33 476.64 L136.91 479.01 L137.49 481.39 L138.07 483.77 L138.66 486.15 L139.24 488.51 L139.82 490.91 L140.4 493.37 L140.98 495.82 L141.56 498.21 L142.15 500.46 L142.73 502.52 L143.31 504.38 L143.89 506.13 L144.47 507.79 L145.05 509.36 L145.64 510.85 L146.22 512.26 L146.8 513.61 L147.38 514.89 L147.96 516.12 L148.55 517.29 L149.13 518.39 L149.71 519.43 L150.29 520.42 L150.87 521.38 L151.45 522.31 L152.04 523.2 L152.62 524.05 L153.2 524.87 L153.78 525.63 L154.36 526.35 L154.95 527.01 L155.53 527.65 L156.11 528.28 L156.69 528.9 L157.27 529.48 L157.85 530.04 L158.44 530.55 L159.02 531.01 L159.6 531.41 L160.18 531.74 L160.76 532.01 L161.35 532.25 L161.93 532.48 L162.51 532.7 L163.09 532.9 L163.67 533.09 L164.25 533.26 L164.84 533.42 L165.42 533.55 L166 533.67 L166.58 533.77 L167.16 533.84 L167.75 533.9 L168.33 533.95 L168.91 533.99 L169.49 534.04 L170.07 534.08 L170.65 534.12 L171.24 534.16 L171.82 534.19 L172.4 534.23 L172.98 534.26 L173.56 534.29 L174.15 534.31 L174.73 534.34 L175.31 534.36 L175.89 534.38 L176.47 534.39 L177.05 534.41 L177.64 534.42 L178.22 534.43 L178.8 534.43 L179.38 534.44 L179.96 534.44 L180.55 534.45 L181.13 534.45 L181.71 534.45 L182.29 534.45 L182.87 534.46 L183.45 534.46 L184.04 534.46 L184.62 534.47 L185.2 534.47 L185.78 534.47 L186.36 534.47 L186.95 534.48 L187.53 534.48 L188.11 534.48 L188.69 534.48 L189.27 534.48 L189.85 534.49 L190.44 534.49 L191.02 534.49 L191.6 534.49 L192.18 534.49 L192.76 534.49 L193.35 534.49 L193.93 534.49 L194.51 534.5 L195.09 534.5 L195.67 534.5 L196.25 534.5 L196.84 534.5 L197.42 534.5 L198 534.5" fill="none" stroke="#e8101c" stroke-width="1.35"/>
<path d="M138.4 452.5V534" stroke="#5062e4" stroke-width="1" stroke-dasharray="1.4 1.8"/>
<path d="M62 502.5H138.4" stroke="#6f7fe8" stroke-width="1"/>
<path d="M57.6 502.5L64.5 499.9L63 502.5L64.5 505.1Z" fill="#6f7fe8"/>
<text x="93.6" y="497.5" font-size="7.4" stroke="#111" stroke-width="0.2" font-weight="bold" fill="#111" textLength="33.4" lengthAdjust="spacingAndGlyphs">Only HCO</text>
<text x="127.4" y="495.4" font-size="5.6" stroke="#111" stroke-width="0.2" font-weight="bold" fill="#111" textLength="3.2" lengthAdjust="spacingAndGlyphs">+</text>
<path d="M47.3 534.5h4M198 534.5h-4M47.3 528.27h2M198 528.27h-2M47.3 522.05h2M198 522.05h-2M47.3 515.83h2M198 515.83h-2M47.3 509.6h2M198 509.6h-2M47.3 503.38h4M198 503.38h-4M47.3 497.15h2M198 497.15h-2M47.3 490.93h2M198 490.93h-2M47.3 484.7h2M198 484.7h-2M47.3 478.48h2M198 478.48h-2M47.3 472.25h4M198 472.25h-4M47.3 466.02h2M198 466.02h-2M47.3 459.8h2M198 459.8h-2M47.3 453.57h2M198 453.57h-2M47.3 447.35h2M198 447.35h-2M47.3 441.12h4M198 441.12h-4M47.3 434.9h2M198 434.9h-2M47.3 428.68h2M198 428.68h-2M47.3 422.45h2M198 422.45h-2M47.3 416.23h2M198 416.23h-2M47.3 410h4M198 410h-4M47.3 403.77h2M198 403.77h-2M47.3 397.55h2M198 397.55h-2M47.92 534.5v-2M47.92 391.5v2M52.61 534.5v-2M52.61 391.5v2M57.3 534.5v-4M57.3 391.5v4M61.99 534.5v-2M61.99 391.5v2M66.68 534.5v-2M66.68 391.5v2M71.37 534.5v-2M71.37 391.5v2M76.06 534.5v-2M76.06 391.5v2M80.75 534.5v-3M80.75 391.5v3M85.44 534.5v-2M85.44 391.5v2M90.13 534.5v-2M90.13 391.5v2M94.82 534.5v-2M94.82 391.5v2M99.51 534.5v-2M99.51 391.5v2M104.2 534.5v-4M104.2 391.5v4M108.89 534.5v-2M108.89 391.5v2M113.58 534.5v-2M113.58 391.5v2M118.27 534.5v-2M118.27 391.5v2M122.96 534.5v-2M122.96 391.5v2M127.65 534.5v-3M127.65 391.5v3M132.34 534.5v-2M132.34 391.5v2M137.03 534.5v-2M137.03 391.5v2M141.72 534.5v-2M141.72 391.5v2M146.41 534.5v-2M146.41 391.5v2M151.1 534.5v-4M151.1 391.5v4M155.79 534.5v-2M155.79 391.5v2M160.48 534.5v-2M160.48 391.5v2M165.17 534.5v-2M165.17 391.5v2M169.86 534.5v-2M169.86 391.5v2M174.55 534.5v-3M174.55 391.5v3M179.24 534.5v-2M179.24 391.5v2M183.93 534.5v-2M183.93 391.5v2M188.62 534.5v-2M188.62 391.5v2M193.31 534.5v-2M193.31 391.5v2M198 534.5v-4M198 391.5v4" stroke="#333" stroke-width="0.75"/>
<text x="44" y="536.4" font-size="7.6" stroke="#000" stroke-width="0.2" font-weight="bold" text-anchor="end" textLength="4.3" lengthAdjust="spacingAndGlyphs">0</text>
<text x="44" y="505.27" font-size="7.6" stroke="#000" stroke-width="0.2" font-weight="bold" text-anchor="end" textLength="8.6" lengthAdjust="spacingAndGlyphs">50</text>
<text x="44" y="474.15" font-size="7.6" stroke="#000" stroke-width="0.2" font-weight="bold" text-anchor="end" textLength="12.9" lengthAdjust="spacingAndGlyphs">100</text>
<text x="44" y="443.02" font-size="7.6" stroke="#000" stroke-width="0.2" font-weight="bold" text-anchor="end" textLength="12.9" lengthAdjust="spacingAndGlyphs">150</text>
<text x="44" y="411.9" font-size="7.6" stroke="#000" stroke-width="0.2" font-weight="bold" text-anchor="end" textLength="12.9" lengthAdjust="spacingAndGlyphs">200</text>
<text x="57.3" y="545.2" font-size="7.6" stroke="#000" stroke-width="0.2" font-weight="bold" text-anchor="middle">0</text>
<text x="104.2" y="545.2" font-size="7.6" stroke="#000" stroke-width="0.2" font-weight="bold" text-anchor="middle">1</text>
<text x="151.1" y="545.2" font-size="7.6" stroke="#000" stroke-width="0.2" font-weight="bold" text-anchor="middle">2</text>
<text x="198" y="545.2" font-size="7.6" stroke="#000" stroke-width="0.2" font-weight="bold" text-anchor="middle">3</text>
<text x="106.1" y="558.3" font-size="9.8" stroke="#000" stroke-width="0.2" font-weight="bold" textLength="6.3" lengthAdjust="spacingAndGlyphs">E</text>
<text x="112.2" y="559.8" font-size="6.5" stroke="#000" stroke-width="0.2" font-weight="bold" textLength="8.4" lengthAdjust="spacingAndGlyphs">int</text>
<text x="120.6" y="558.3" font-size="9.8" stroke="#000" stroke-width="0.2" font-weight="bold" textLength="19.1" lengthAdjust="spacingAndGlyphs">[eV]</text>
<text x="150" y="402.7" font-size="7.2" stroke="#000" stroke-width="0.2" font-weight="bold" textLength="40.4" lengthAdjust="spacingAndGlyphs">θ=150 ±5°</text>
<text transform="translate(26.1 425.3) rotate(-90)" font-size="10.5" font-weight="bold" textLength="34.7" lengthAdjust="spacingAndGlyphs">Counts</text>
<rect x="240.1" y="391.5" width="148.4" height="143" fill="none" stroke="#555" stroke-width="0.9"/>
<circle cx="240.84" cy="533.07" r="1.5" fill="none" stroke="#444" stroke-width="0.6"/>
<circle cx="242.7" cy="532.42" r="1.5" fill="none" stroke="#444" stroke-width="0.6"/>
<circle cx="244.55" cy="533.09" r="1.5" fill="none" stroke="#444" stroke-width="0.6"/>
<circle cx="246.41" cy="532.69" r="1.5" fill="none" stroke="#444" stroke-width="0.6"/>
<circle cx="248.26" cy="532.52" r="1.5" fill="none" stroke="#444" stroke-width="0.6"/>
<circle cx="250.12" cy="532.76" r="1.5" fill="none" stroke="#444" stroke-width="0.6"/>
<circle cx="251.97" cy="531.96" r="1.5" fill="none" stroke="#444" stroke-width="0.6"/>
<circle cx="253.83" cy="531.07" r="1.5" fill="none" stroke="#444" stroke-width="0.6"/>
<circle cx="255.68" cy="532.01" r="1.5" fill="none" stroke="#444" stroke-width="0.6"/>
<circle cx="257.54" cy="530.86" r="1.5" fill="none" stroke="#444" stroke-width="0.6"/>
<circle cx="259.39" cy="530.92" r="1.5" fill="none" stroke="#444" stroke-width="0.6"/>
<circle cx="261.25" cy="529.3" r="1.5" fill="none" stroke="#444" stroke-width="0.6"/>
<circle cx="263.1" cy="529.15" r="1.5" fill="none" stroke="#444" stroke-width="0.6"/>
<circle cx="264.96" cy="528.1" r="1.5" fill="none" stroke="#444" stroke-width="0.6"/>
<circle cx="266.81" cy="527.11" r="1.5" fill="none" stroke="#444" stroke-width="0.6"/>
<circle cx="268.67" cy="526.23" r="1.5" fill="none" stroke="#444" stroke-width="0.6"/>
<circle cx="270.52" cy="526.16" r="1.5" fill="none" stroke="#444" stroke-width="0.6"/>
<circle cx="272.38" cy="522.41" r="1.5" fill="none" stroke="#444" stroke-width="0.6"/>
<circle cx="274.23" cy="523.07" r="1.5" fill="none" stroke="#444" stroke-width="0.6"/>
<circle cx="276.09" cy="519.71" r="1.5" fill="none" stroke="#444" stroke-width="0.6"/>
<circle cx="277.94" cy="517.04" r="1.5" fill="none" stroke="#444" stroke-width="0.6"/>
<circle cx="279.8" cy="515.96" r="1.5" fill="none" stroke="#444" stroke-width="0.6"/>
<circle cx="281.65" cy="511.91" r="1.5" fill="none" stroke="#444" stroke-width="0.6"/>
<circle cx="283.51" cy="507.4" r="1.5" fill="none" stroke="#444" stroke-width="0.6"/>
<circle cx="285.36" cy="505.45" r="1.5" fill="none" stroke="#444" stroke-width="0.6"/>
<circle cx="287.22" cy="502.63" r="1.5" fill="none" stroke="#444" stroke-width="0.6"/>
<circle cx="289.07" cy="501.28" r="1.5" fill="none" stroke="#444" stroke-width="0.6"/>
<circle cx="290.93" cy="493.26" r="1.5" fill="none" stroke="#444" stroke-width="0.6"/>
<circle cx="292.78" cy="487.17" r="1.5" fill="none" stroke="#444" stroke-width="0.6"/>
<circle cx="294.64" cy="481.45" r="1.5" fill="none" stroke="#444" stroke-width="0.6"/>
<circle cx="296.49" cy="476.84" r="1.5" fill="none" stroke="#444" stroke-width="0.6"/>
<circle cx="298.35" cy="468.75" r="1.5" fill="none" stroke="#444" stroke-width="0.6"/>
<circle cx="300.2" cy="465.15" r="1.5" fill="none" stroke="#444" stroke-width="0.6"/>
<circle cx="302.06" cy="458.36" r="1.5" fill="none" stroke="#444" stroke-width="0.6"/>
<circle cx="303.91" cy="450.23" r="1.5" fill="none" stroke="#444" stroke-width="0.6"/>
<circle cx="305.77" cy="446.8" r="1.5" fill="none" stroke="#444" stroke-width="0.6"/>
<circle cx="307.62" cy="438.45" r="1.5" fill="none" stroke="#444" stroke-width="0.6"/>
<circle cx="309.48" cy="425.75" r="1.5" fill="none" stroke="#444" stroke-width="0.6"/>
<circle cx="311.33" cy="420.66" r="1.5" fill="none" stroke="#444" stroke-width="0.6"/>
<circle cx="313.19" cy="420.8" r="1.5" fill="none" stroke="#444" stroke-width="0.6"/>
<circle cx="315.04" cy="412.46" r="1.5" fill="none" stroke="#444" stroke-width="0.6"/>
<circle cx="316.9" cy="406.49" r="1.5" fill="none" stroke="#444" stroke-width="0.6"/>
<circle cx="318.75" cy="400.82" r="1.5" fill="none" stroke="#444" stroke-width="0.6"/>
<circle cx="320.61" cy="400.91" r="1.5" fill="none" stroke="#444" stroke-width="0.6"/>
<circle cx="322.46" cy="401.84" r="1.5" fill="none" stroke="#444" stroke-width="0.6"/>
<circle cx="324.32" cy="402.54" r="1.5" fill="none" stroke="#444" stroke-width="0.6"/>
<circle cx="326.17" cy="399.39" r="1.5" fill="none" stroke="#444" stroke-width="0.6"/>
<circle cx="328.03" cy="401.56" r="1.5" fill="none" stroke="#444" stroke-width="0.6"/>
<circle cx="329.88" cy="407.48" r="1.5" fill="none" stroke="#444" stroke-width="0.6"/>
<circle cx="331.74" cy="413.44" r="1.5" fill="none" stroke="#444" stroke-width="0.6"/>
<circle cx="333.59" cy="424.29" r="1.5" fill="none" stroke="#444" stroke-width="0.6"/>
<circle cx="335.45" cy="429.26" r="1.5" fill="none" stroke="#444" stroke-width="0.6"/>
<circle cx="337.3" cy="440.8" r="1.5" fill="none" stroke="#444" stroke-width="0.6"/>
<circle cx="339.16" cy="445.27" r="1.5" fill="none" stroke="#444" stroke-width="0.6"/>
<circle cx="341.01" cy="452.03" r="1.5" fill="none" stroke="#444" stroke-width="0.6"/>
<circle cx="342.87" cy="461.89" r="1.5" fill="none" stroke="#444" stroke-width="0.6"/>
<circle cx="344.72" cy="473.93" r="1.5" fill="none" stroke="#444" stroke-width="0.6"/>
<circle cx="346.58" cy="478.38" r="1.5" fill="none" stroke="#444" stroke-width="0.6"/>
<circle cx="348.43" cy="490.55" r="1.5" fill="none" stroke="#444" stroke-width="0.6"/>
<circle cx="350.29" cy="497.58" r="1.5" fill="none" stroke="#444" stroke-width="0.6"/>
<circle cx="352.14" cy="506.55" r="1.5" fill="none" stroke="#444" stroke-width="0.6"/>
<circle cx="354" cy="513.69" r="1.5" fill="none" stroke="#444" stroke-width="0.6"/>
<circle cx="355.85" cy="516.45" r="1.5" fill="none" stroke="#444" stroke-width="0.6"/>
<circle cx="357.71" cy="520.55" r="1.5" fill="none" stroke="#444" stroke-width="0.6"/>
<circle cx="359.56" cy="524.45" r="1.5" fill="none" stroke="#444" stroke-width="0.6"/>
<circle cx="361.42" cy="526.96" r="1.5" fill="none" stroke="#444" stroke-width="0.6"/>
<circle cx="363.27" cy="529.49" r="1.5" fill="none" stroke="#444" stroke-width="0.6"/>
<circle cx="365.13" cy="531.04" r="1.5" fill="none" stroke="#444" stroke-width="0.6"/>
<circle cx="366.98" cy="531.94" r="1.5" fill="none" stroke="#444" stroke-width="0.6"/>
<circle cx="368.84" cy="532.07" r="1.5" fill="none" stroke="#444" stroke-width="0.6"/>
<circle cx="370.69" cy="533.01" r="1.5" fill="none" stroke="#444" stroke-width="0.6"/>
<circle cx="372.55" cy="533.71" r="1.5" fill="none" stroke="#444" stroke-width="0.6"/>
<circle cx="374.4" cy="533.7" r="1.5" fill="none" stroke="#444" stroke-width="0.6"/>
<circle cx="376.26" cy="534.04" r="1.5" fill="none" stroke="#444" stroke-width="0.6"/>
<path d="M240.1 534.5 L240.6 534.5 L241.09 534.5 L241.59 534.5 L242.09 534.5 L242.58 534.5 L243.08 534.5 L243.57 534.5 L244.07 534.5 L244.57 534.5 L245.06 534.5 L245.56 534.5 L246.06 534.5 L246.55 534.5 L247.05 534.5 L247.54 534.5 L248.04 534.5 L248.54 534.5 L249.03 534.5 L249.53 534.5 L250.03 534.5 L250.52 534.5 L251.02 534.5 L251.52 534.5 L252.01 534.5 L252.51 534.5 L253 534.5 L253.5 534.5 L254 534.5 L254.49 534.5 L254.99 534.5 L255.49 534.5 L255.98 534.5 L256.48 534.5 L256.97 534.5 L257.47 534.5 L257.97 534.5 L258.46 534.5 L258.96 534.5 L259.46 534.5 L259.95 534.5 L260.45 534.5 L260.95 534.5 L261.44 534.5 L261.94 534.5 L262.43 534.5 L262.93 534.5 L263.43 534.5 L263.92 534.5 L264.42 534.5 L264.92 534.5 L265.41 534.5 L265.91 534.5 L266.41 534.5 L266.9 534.5 L267.4 534.5 L267.89 534.5 L268.39 534.5 L268.89 534.5 L269.38 534.5 L269.88 534.5 L270.38 534.5 L270.87 534.5 L271.37 534.5 L271.86 534.5 L272.36 534.5 L272.86 534.5 L273.35 534.5 L273.85 534.5 L274.35 534.5 L274.84 534.5 L275.34 534.5 L275.84 534.5 L276.33 534.5 L276.83 534.5 L277.32 534.5 L277.82 534.5 L278.32 534.5 L278.81 534.5 L279.31 534.5 L279.81 534.5 L280.3 534.5 L280.8 534.5 L281.29 534.5 L281.79 534.5 L282.29 534.5 L282.78 534.5 L283.28 534.5 L283.78 534.5 L284.27 534.49 L284.77 534.49 L285.27 534.49 L285.76 534.49 L286.26 534.49 L286.75 534.49 L287.25 534.49 L287.75 534.49 L288.24 534.48 L288.74 534.48 L289.24 534.48 L289.73 534.48 L290.23 534.47 L290.72 534.47 L291.22 534.47 L291.72 534.46 L292.21 534.46 L292.71 534.45 L293.21 534.45 L293.7 534.44 L294.2 534.44 L294.7 534.43 L295.19 534.42 L295.69 534.41 L296.18 534.4 L296.68 534.39 L297.18 534.38 L297.67 534.37 L298.17 534.35 L298.67 534.34 L299.16 534.32 L299.66 534.3 L300.15 534.28 L300.65 534.26 L301.15 534.23 L301.64 534.21 L302.14 534.18 L302.64 534.15 L303.13 534.11 L303.63 534.08 L304.13 534.04 L304.62 533.99 L305.12 533.95 L305.61 533.9 L306.11 533.84 L306.61 533.79 L307.1 533.73 L307.6 533.66 L308.1 533.59 L308.59 533.51 L309.09 533.43 L309.58 533.35 L310.08 533.26 L310.58 533.16 L311.07 533.06 L311.57 532.95 L312.07 532.83 L312.56 532.71 L313.06 532.58 L313.56 532.44 L314.05 532.29 L314.55 532.14 L315.04 531.98 L315.54 531.81 L316.04 531.64 L316.53 531.45 L317.03 531.26 L317.53 531.05 L318.02 530.84 L318.52 530.62 L319.02 530.4 L319.51 530.16 L320.01 529.91 L320.5 529.66 L321 529.39 L321.5 529.12 L321.99 528.84 L322.49 528.55 L322.99 528.25 L323.48 527.95 L323.98 527.64 L324.47 527.32 L324.97 526.99 L325.47 526.66 L325.96 526.32 L326.46 525.97 L326.96 525.62 L327.45 525.27 L327.95 524.91 L328.45 524.55 L328.94 524.18 L329.44 523.82 L329.93 523.45 L330.43 523.08 L330.93 522.71 L331.42 522.35 L331.92 521.98 L332.42 521.62 L332.91 521.26 L333.41 520.91 L333.9 520.56 L334.4 520.21 L334.9 519.88 L335.39 519.55 L335.89 519.23 L336.39 518.92 L336.88 518.63 L337.38 518.34 L337.88 518.07 L338.37 517.81 L338.87 517.56 L339.36 517.33 L339.86 517.11 L340.36 516.91 L340.85 516.72 L341.35 516.56 L341.85 516.41 L342.34 516.28 L342.84 516.16 L343.33 516.07 L343.83 516 L344.33 515.94 L344.82 515.91 L345.32 515.89 L345.82 515.9 L346.31 515.96 L346.81 516.06 L347.31 516.2 L347.8 516.39 L348.3 516.62 L348.79 516.89 L349.29 517.2 L349.79 517.54 L350.28 517.92 L350.78 518.33 L351.28 518.77 L351.77 519.24 L352.27 519.72 L352.76 520.23 L353.26 520.75 L353.76 521.29 L354.25 521.84 L354.75 522.39 L355.25 522.95 L355.74 523.51 L356.24 524.06 L356.74 524.62 L357.23 525.17 L357.73 525.7 L358.22 526.23 L358.72 526.75 L359.22 527.25 L359.71 527.73 L360.21 528.2 L360.71 528.65 L361.2 529.08 L361.7 529.5 L362.19 529.89 L362.69 530.26 L363.19 530.61 L363.68 530.94 L364.18 531.25 L364.68 531.54 L365.17 531.81 L365.67 532.07 L366.17 532.3 L366.66 532.52 L367.16 532.72 L367.65 532.9 L368.15 533.07 L368.65 533.22 L369.14 533.36 L369.64 533.49 L370.14 533.6 L370.63 533.71 L371.13 533.8 L371.63 533.89 L372.12 533.96 L372.62 534.03 L373.11 534.09 L373.61 534.14 L374.11 534.19 L374.6 534.23 L375.1 534.27 L375.6 534.3 L376.09 534.33 L376.59 534.35 L377.08 534.37 L377.58 534.39 L378.08 534.41 L378.57 534.42 L379.07 534.43 L379.57 534.44 L380.06 534.45 L380.56 534.46 L381.06 534.47 L381.55 534.47 L382.05 534.48 L382.54 534.48 L383.04 534.48 L383.54 534.49 L384.03 534.49 L384.53 534.49 L385.03 534.49 L385.52 534.49 L386.02 534.49 L386.51 534.5 L387.01 534.5 L387.51 534.5 L388 534.5 L388.5 534.5" fill="none" stroke="#3048f0" stroke-width="1.6"/>
<path d="M240.1 533.39 L240.6 533.39 L241.09 533.39 L241.59 533.38 L242.09 533.36 L242.58 533.35 L243.08 533.33 L243.57 533.31 L244.07 533.28 L244.57 533.25 L245.06 533.22 L245.56 533.19 L246.06 533.15 L246.55 533.11 L247.05 533.07 L247.54 533.02 L248.04 532.97 L248.54 532.92 L249.03 532.87 L249.53 532.81 L250.03 532.76 L250.52 532.7 L251.02 532.63 L251.52 532.57 L252.01 532.5 L252.51 532.43 L253 532.36 L253.5 532.29 L254 532.22 L254.49 532.14 L254.99 532.06 L255.49 531.98 L255.98 531.9 L256.48 531.82 L256.97 531.74 L257.47 531.65 L257.97 531.56 L258.46 531.46 L258.96 531.34 L259.46 531.2 L259.95 531.05 L260.45 530.89 L260.95 530.71 L261.44 530.52 L261.94 530.31 L262.43 530.1 L262.93 529.88 L263.43 529.65 L263.92 529.41 L264.42 529.16 L264.92 528.91 L265.41 528.65 L265.91 528.39 L266.41 528.13 L266.9 527.86 L267.4 527.58 L267.89 527.28 L268.39 526.97 L268.89 526.64 L269.38 526.3 L269.88 525.95 L270.38 525.57 L270.87 525.19 L271.37 524.79 L271.86 524.38 L272.36 523.95 L272.86 523.51 L273.35 523.06 L273.85 522.59 L274.35 522.11 L274.84 521.62 L275.34 521.12 L275.84 520.6 L276.33 520.04 L276.83 519.46 L277.32 518.85 L277.82 518.21 L278.32 517.54 L278.81 516.85 L279.31 516.14 L279.81 515.39 L280.3 514.63 L280.8 513.85 L281.29 513.05 L281.79 512.22 L282.29 511.38 L282.78 510.53 L283.28 509.66 L283.78 508.78 L284.27 507.88 L284.77 506.96 L285.27 505.99 L285.76 504.97 L286.26 503.9 L286.75 502.79 L287.25 501.64 L287.75 500.46 L288.24 499.26 L288.74 498.02 L289.24 496.74 L289.73 495.41 L290.23 494.04 L290.72 492.63 L291.22 491.19 L291.72 489.72 L292.21 488.24 L292.71 486.74 L293.21 485.23 L293.7 483.71 L294.2 482.2 L294.7 480.7 L295.19 479.2 L295.69 477.73 L296.18 476.26 L296.68 474.8 L297.18 473.34 L297.67 471.88 L298.17 470.42 L298.67 468.95 L299.16 467.46 L299.66 465.97 L300.15 464.46 L300.65 462.94 L301.15 461.39 L301.64 459.82 L302.14 458.23 L302.64 456.6 L303.13 454.93 L303.63 453.18 L304.13 451.37 L304.62 449.52 L305.12 447.64 L305.61 445.73 L306.11 443.82 L306.61 441.92 L307.1 440.03 L307.6 438.17 L308.1 436.35 L308.59 434.59 L309.09 432.9 L309.58 431.28 L310.08 429.74 L310.58 428.19 L311.07 426.64 L311.57 425.1 L312.07 423.58 L312.56 422.07 L313.06 420.6 L313.56 419.16 L314.05 417.76 L314.55 416.42 L315.04 415.13 L315.54 413.91 L316.04 412.76 L316.53 411.69 L317.03 410.7 L317.53 409.69 L318.02 408.67 L318.52 407.66 L319.02 406.7 L319.51 405.8 L320.01 405.01 L320.5 404.35 L321 403.85 L321.5 403.53 L321.99 403.32 L322.49 403.2 L322.99 403.15 L323.48 403.17 L323.98 403.25 L324.47 403.38 L324.97 403.55 L325.47 403.77 L325.96 404.02 L326.46 404.29 L326.96 404.58 L327.45 404.88 L327.95 405.26 L328.45 405.88 L328.94 406.71 L329.44 407.74 L329.93 409.08 L330.43 410.69 L330.93 412.52 L331.42 414.5 L331.92 416.59 L332.42 418.71 L332.91 420.81 L333.41 422.83 L333.9 424.84 L334.4 426.93 L334.9 429.07 L335.39 431.25 L335.89 433.43 L336.39 435.6 L336.88 437.73 L337.38 439.81 L337.88 441.81 L338.37 443.75 L338.87 445.68 L339.36 447.6 L339.86 449.55 L340.36 451.55 L340.85 453.63 L341.35 455.82 L341.85 458.15 L342.34 460.61 L342.84 463.15 L343.33 465.72 L343.83 468.27 L344.33 470.76 L344.82 473.13 L345.32 475.44 L345.82 477.73 L346.31 480.01 L346.81 482.3 L347.31 484.58 L347.8 486.87 L348.3 489.16 L348.79 491.45 L349.29 493.8 L349.79 496.21 L350.28 498.58 L350.78 500.82 L351.28 502.84 L351.77 504.62 L352.27 506.35 L352.76 508.04 L353.26 509.67 L353.76 511.24 L354.25 512.75 L354.75 514.18 L355.25 515.53 L355.74 516.8 L356.24 517.97 L356.74 519.09 L357.23 520.18 L357.73 521.24 L358.22 522.26 L358.72 523.23 L359.22 524.15 L359.71 525.02 L360.21 525.83 L360.71 526.58 L361.2 527.25 L361.7 527.86 L362.19 528.4 L362.69 528.92 L363.19 529.41 L363.68 529.87 L364.18 530.3 L364.68 530.71 L365.17 531.09 L365.67 531.44 L366.17 531.77 L366.66 532.07 L367.16 532.35 L367.65 532.6 L368.15 532.82 L368.65 533.02 L369.14 533.2 L369.64 533.35 L370.14 533.48 L370.63 533.6 L371.13 533.71 L371.63 533.81 L372.12 533.89 L372.62 533.97 L373.11 534.04 L373.61 534.11 L374.11 534.16 L374.6 534.21 L375.1 534.25 L375.6 534.29 L376.09 534.32 L376.59 534.35 L377.08 534.37 L377.58 534.39 L378.08 534.41 L378.57 534.42 L379.07 534.43 L379.57 534.44 L380.06 534.45 L380.56 534.46 L381.06 534.47 L381.55 534.47 L382.05 534.48 L382.54 534.48 L383.04 534.48 L383.54 534.49 L384.03 534.49 L384.53 534.49 L385.03 534.49 L385.52 534.49 L386.02 534.49 L386.51 534.5 L387.01 534.5 L387.51 534.5 L388 534.5 L388.5 534.5" fill="none" stroke="#000" stroke-width="1.9"/>
<path d="M240.1 533.39 L240.6 533.39 L241.09 533.39 L241.59 533.38 L242.09 533.36 L242.58 533.35 L243.08 533.33 L243.57 533.31 L244.07 533.28 L244.57 533.25 L245.06 533.22 L245.56 533.19 L246.06 533.15 L246.55 533.11 L247.05 533.07 L247.54 533.02 L248.04 532.97 L248.54 532.92 L249.03 532.87 L249.53 532.81 L250.03 532.76 L250.52 532.7 L251.02 532.63 L251.52 532.57 L252.01 532.5 L252.51 532.43 L253 532.36 L253.5 532.29 L254 532.22 L254.49 532.14 L254.99 532.06 L255.49 531.98 L255.98 531.9 L256.48 531.82 L256.97 531.74 L257.47 531.65 L257.97 531.56 L258.46 531.46 L258.96 531.34 L259.46 531.2 L259.95 531.05 L260.45 530.89 L260.95 530.71 L261.44 530.52 L261.94 530.31 L262.43 530.1 L262.93 529.88 L263.43 529.65 L263.92 529.41 L264.42 529.16 L264.92 528.91 L265.41 528.65 L265.91 528.39 L266.41 528.13 L266.9 527.86 L267.4 527.58 L267.89 527.28 L268.39 526.97 L268.89 526.64 L269.38 526.3 L269.88 525.95 L270.38 525.57 L270.87 525.19 L271.37 524.79 L271.86 524.38 L272.36 523.95 L272.86 523.51 L273.35 523.06 L273.85 522.59 L274.35 522.11 L274.84 521.62 L275.34 521.12 L275.84 520.6 L276.33 520.04 L276.83 519.46 L277.32 518.85 L277.82 518.21 L278.32 517.55 L278.81 516.85 L279.31 516.14 L279.81 515.4 L280.3 514.63 L280.8 513.85 L281.29 513.05 L281.79 512.23 L282.29 511.39 L282.78 510.53 L283.28 509.66 L283.78 508.78 L284.27 507.88 L284.77 506.97 L285.27 506 L285.76 504.97 L286.26 503.91 L286.75 502.8 L287.25 501.65 L287.75 500.48 L288.24 499.27 L288.74 498.04 L289.24 496.76 L289.73 495.43 L290.23 494.06 L290.72 492.66 L291.22 491.22 L291.72 489.76 L292.21 488.28 L292.71 486.78 L293.21 485.28 L293.7 483.77 L294.2 482.27 L294.7 480.77 L295.19 479.28 L295.69 477.82 L296.18 476.36 L296.68 474.91 L297.18 473.46 L297.67 472.02 L298.17 470.56 L298.67 469.11 L299.16 467.65 L299.66 466.17 L300.15 464.68 L300.65 463.18 L301.15 461.66 L301.64 460.12 L302.14 458.55 L302.64 456.96 L303.13 455.31 L303.63 453.6 L304.13 451.84 L304.62 450.03 L305.12 448.19 L305.61 446.34 L306.11 444.48 L306.61 442.63 L307.1 440.8 L307.6 439.01 L308.1 437.26 L308.59 435.58 L309.09 433.96 L309.58 432.44 L310.08 430.98 L310.58 429.53 L311.07 428.09 L311.57 426.66 L312.07 425.25 L312.56 423.87 L313.06 422.52 L313.56 421.22 L314.05 419.97 L314.55 418.78 L315.04 417.65 L315.54 416.6 L316.04 415.62 L316.53 414.74 L317.03 413.94 L317.53 413.14 L318.02 412.33 L318.52 411.54 L319.02 410.8 L319.51 410.15 L320.01 409.6 L320.5 409.19 L321 408.95 L321.5 408.91 L321.99 408.98 L322.49 409.15 L322.99 409.4 L323.48 409.72 L323.98 410.11 L324.47 410.56 L324.97 411.06 L325.47 411.61 L325.96 412.2 L326.46 412.82 L326.96 413.46 L327.45 414.11 L327.95 414.85 L328.45 415.84 L328.94 417.03 L329.44 418.42 L329.93 420.13 L330.43 422.11 L330.93 424.31 L331.42 426.66 L331.92 429.11 L332.42 431.59 L332.91 434.05 L333.41 436.42 L333.9 438.78 L334.4 441.21 L334.9 443.69 L335.39 446.19 L335.89 448.7 L336.39 451.18 L336.88 453.61 L337.38 455.96 L337.88 458.24 L338.37 460.45 L338.87 462.62 L339.36 464.77 L339.86 466.94 L340.36 469.14 L340.85 471.41 L341.35 473.76 L341.85 476.24 L342.34 478.84 L342.84 481.49 L343.33 484.15 L343.83 486.78 L344.33 489.32 L344.82 491.72 L345.32 494.05 L345.82 496.33 L346.31 498.56 L346.81 500.74 L347.31 502.88 L347.8 504.98 L348.3 507.04 L348.79 509.06 L349.29 511.1 L349.79 513.17 L350.28 515.16 L350.78 516.99 L351.28 518.56 L351.77 519.88 L352.27 521.13 L352.76 522.31 L353.26 523.42 L353.76 524.45 L354.25 525.41 L354.75 526.29 L355.25 527.08 L355.74 527.79 L356.24 528.41 L356.74 528.97 L357.23 529.52 L357.73 530.03 L358.22 530.52 L358.72 530.98 L359.22 531.41 L359.71 531.79 L360.21 532.13 L360.71 532.43 L361.2 532.67 L361.7 532.86 L362.19 533.01 L362.69 533.16 L363.19 533.3 L363.68 533.43 L364.18 533.55 L364.68 533.67 L365.17 533.78 L365.67 533.88 L366.17 533.97 L366.66 534.05 L367.16 534.13 L367.65 534.2 L368.15 534.25 L368.65 534.3 L369.14 534.34 L369.64 534.36 L370.14 534.38 L370.63 534.39 L371.13 534.41 L371.63 534.42 L372.12 534.43 L372.62 534.44 L373.11 534.46 L373.61 534.46 L374.11 534.47 L374.6 534.48 L375.1 534.49 L375.6 534.49 L376.09 534.5 L376.59 534.5 L377.08 534.5 L377.58 534.5 L378.08 534.5 L378.57 534.5 L379.07 534.5 L379.57 534.5 L380.06 534.5 L380.56 534.5 L381.06 534.5 L381.55 534.5 L382.05 534.5 L382.54 534.5 L383.04 534.5 L383.54 534.5 L384.03 534.5 L384.53 534.5 L385.03 534.5 L385.52 534.5 L386.02 534.5 L386.51 534.5 L387.01 534.5 L387.51 534.5 L388 534.5 L388.5 534.5" fill="none" stroke="#ee1a24" stroke-width="1.3"/>
<path d="M304.6 456V534" stroke="#5062e4" stroke-width="1" stroke-dasharray="1.4 1.8"/>
<path d="M255 501.5H304.6" stroke="#6f7fe8" stroke-width="1"/>
<path d="M250.8 501.5L257.7 498.9L256.2 501.5L257.7 504.1Z" fill="#6f7fe8"/>
<text x="251.8" y="495.2" font-size="7.4" stroke="#111" stroke-width="0.2" font-weight="bold" fill="#111" textLength="33.2" lengthAdjust="spacingAndGlyphs">Only HCO</text>
<text x="286" y="492.7" font-size="5.6" stroke="#111" stroke-width="0.2" font-weight="bold" fill="#111" textLength="3" lengthAdjust="spacingAndGlyphs">+</text>
<path d="M240.1 534.5h4M388.5 534.5h-4M240.1 529.47h2M388.5 529.47h-2M240.1 524.44h2M388.5 524.44h-2M240.1 519.41h2M388.5 519.41h-2M240.1 514.38h2M388.5 514.38h-2M240.1 509.35h4M388.5 509.35h-4M240.1 504.32h2M388.5 504.32h-2M240.1 499.29h2M388.5 499.29h-2M240.1 494.26h2M388.5 494.26h-2M240.1 489.23h2M388.5 489.23h-2M240.1 484.2h4M388.5 484.2h-4M240.1 479.17h2M388.5 479.17h-2M240.1 474.14h2M388.5 474.14h-2M240.1 469.11h2M388.5 469.11h-2M240.1 464.08h2M388.5 464.08h-2M240.1 459.05h4M388.5 459.05h-4M240.1 454.02h2M388.5 454.02h-2M240.1 448.99h2M388.5 448.99h-2M240.1 443.96h2M388.5 443.96h-2M240.1 438.93h2M388.5 438.93h-2M240.1 433.9h4M388.5 433.9h-4M240.1 428.87h2M388.5 428.87h-2M240.1 423.84h2M388.5 423.84h-2M240.1 418.81h2M388.5 418.81h-2M240.1 413.78h2M388.5 413.78h-2M240.1 408.75h4M388.5 408.75h-4M240.1 403.72h2M388.5 403.72h-2M240.1 398.69h2M388.5 398.69h-2M240.1 393.66h2M388.5 393.66h-2M240.1 534.5v-4M240.1 391.5v4M243.81 534.5v-2M243.81 391.5v2M247.52 534.5v-2M247.52 391.5v2M251.23 534.5v-2M251.23 391.5v2M254.94 534.5v-2M254.94 391.5v2M258.65 534.5v-3M258.65 391.5v3M262.36 534.5v-2M262.36 391.5v2M266.07 534.5v-2M266.07 391.5v2M269.78 534.5v-2M269.78 391.5v2M273.49 534.5v-2M273.49 391.5v2M277.2 534.5v-4M277.2 391.5v4M280.91 534.5v-2M280.91 391.5v2M284.62 534.5v-2M284.62 391.5v2M288.33 534.5v-2M288.33 391.5v2M292.04 534.5v-2M292.04 391.5v2M295.75 534.5v-3M295.75 391.5v3M299.46 534.5v-2M299.46 391.5v2M303.17 534.5v-2M303.17 391.5v2M306.88 534.5v-2M306.88 391.5v2M310.59 534.5v-2M310.59 391.5v2M314.3 534.5v-4M314.3 391.5v4M318.01 534.5v-2M318.01 391.5v2M321.72 534.5v-2M321.72 391.5v2M325.43 534.5v-2M325.43 391.5v2M329.14 534.5v-2M329.14 391.5v2M332.85 534.5v-3M332.85 391.5v3M336.56 534.5v-2M336.56 391.5v2M340.27 534.5v-2M340.27 391.5v2M343.98 534.5v-2M343.98 391.5v2M347.69 534.5v-2M347.69 391.5v2M351.4 534.5v-4M351.4 391.5v4M355.11 534.5v-2M355.11 391.5v2M358.82 534.5v-2M358.82 391.5v2M362.53 534.5v-2M362.53 391.5v2M366.24 534.5v-2M366.24 391.5v2M369.95 534.5v-3M369.95 391.5v3M373.66 534.5v-2M373.66 391.5v2M377.37 534.5v-2M377.37 391.5v2M381.08 534.5v-2M381.08 391.5v2M384.79 534.5v-2M384.79 391.5v2M388.5 534.5v-4M388.5 391.5v4" stroke="#333" stroke-width="0.75"/>
<text x="237.5" y="537.1" font-size="7.6" stroke="#000" stroke-width="0.2" font-weight="bold" text-anchor="end" textLength="4.5" lengthAdjust="spacingAndGlyphs">0</text>
<text x="237.5" y="511.95" font-size="7.6" stroke="#000" stroke-width="0.2" font-weight="bold" text-anchor="end" textLength="13.5" lengthAdjust="spacingAndGlyphs">100</text>
<text x="237.5" y="486.8" font-size="7.6" stroke="#000" stroke-width="0.2" font-weight="bold" text-anchor="end" textLength="13.5" lengthAdjust="spacingAndGlyphs">200</text>
<text x="237.5" y="461.65" font-size="7.6" stroke="#000" stroke-width="0.2" font-weight="bold" text-anchor="end" textLength="13.5" lengthAdjust="spacingAndGlyphs">300</text>
<text x="237.5" y="436.5" font-size="7.6" stroke="#000" stroke-width="0.2" font-weight="bold" text-anchor="end" textLength="13.5" lengthAdjust="spacingAndGlyphs">400</text>
<text x="237.5" y="411.35" font-size="7.6" stroke="#000" stroke-width="0.2" font-weight="bold" text-anchor="end" textLength="13.5" lengthAdjust="spacingAndGlyphs">500</text>
<text x="240.1" y="545.2" font-size="7.6" stroke="#000" stroke-width="0.2" font-weight="bold" text-anchor="middle">0</text>
<text x="277.2" y="545.2" font-size="7.6" stroke="#000" stroke-width="0.2" font-weight="bold" text-anchor="middle">1</text>
<text x="314.3" y="545.2" font-size="7.6" stroke="#000" stroke-width="0.2" font-weight="bold" text-anchor="middle">2</text>
<text x="351.4" y="545.2" font-size="7.6" stroke="#000" stroke-width="0.2" font-weight="bold" text-anchor="middle">3</text>
<text x="388.5" y="545.2" font-size="7.6" stroke="#000" stroke-width="0.2" font-weight="bold" text-anchor="middle">4</text>
<text x="297" y="558.3" font-size="9.8" stroke="#000" stroke-width="0.2" font-weight="bold" textLength="6.3" lengthAdjust="spacingAndGlyphs">E</text>
<text x="303.1" y="559.8" font-size="6.5" stroke="#000" stroke-width="0.2" font-weight="bold" textLength="8.4" lengthAdjust="spacingAndGlyphs">int</text>
<text x="311.5" y="558.3" font-size="9.8" stroke="#000" stroke-width="0.2" font-weight="bold" textLength="19.1" lengthAdjust="spacingAndGlyphs">[eV]</text>
<path d="M248.5 403.7H261.2" stroke="#000" stroke-width="2"/>
<path d="M248.5 418.3H261.2" stroke="#ee1a24" stroke-width="1.5"/>
<path d="M248.5 431.5H261.2" stroke="#3048f0" stroke-width="1.5"/>
<text x="265" y="407.2" font-size="9.6" stroke="#000" stroke-width="0.2" textLength="20.5" lengthAdjust="spacingAndGlyphs">Total</text>
<text x="264.2" y="421.5" font-size="9.2" stroke="#000" stroke-width="0.2" textLength="18.7" lengthAdjust="spacingAndGlyphs">HCO</text>
<text x="283.8" y="418.5" font-size="7.6" stroke="#000" stroke-width="0.16" textLength="4.8" lengthAdjust="spacingAndGlyphs">+</text>
<text x="264.2" y="434.9" font-size="9.2" stroke="#000" stroke-width="0.2" textLength="19.3" lengthAdjust="spacingAndGlyphs">HOC</text>
<text x="284.5" y="431.3" font-size="7.6" stroke="#000" stroke-width="0.16" textLength="4.3" lengthAdjust="spacingAndGlyphs">+</text></svg></body></html>
